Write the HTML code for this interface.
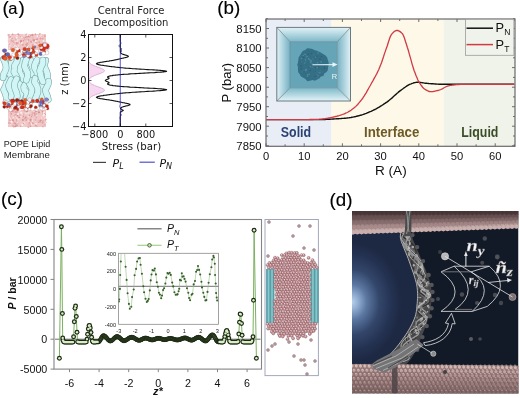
<!DOCTYPE html>
<html><head><meta charset="utf-8"><title>Pressure tensor figure</title>
<style>html,body{margin:0;padding:0;background:#fff;}svg{display:block;}</style></head>
<body><svg width="520" height="398" viewBox="0 0 520 398">
<rect width="520" height="398" fill="#fff"/>
<text y="14.2" font-family="Liberation Sans, Arial, sans-serif" font-size="18.8" stroke="#000" stroke-width="0.15"><tspan x="2.6">(</tspan><tspan x="8.2" font-size="16.5">a</tspan><tspan x="18.4">)</tspan></text>
<rect x="8" y="34" width="38" height="16" fill="#f0c8c8"/>
<circle cx="20.3" cy="36.4" r="0.5" fill="#e2a0a0"/>
<circle cx="28.4" cy="39.9" r="1" fill="#e2a0a0"/>
<circle cx="16.2" cy="35.4" r="0.5" fill="#f6dede"/>
<circle cx="11.4" cy="40.8" r="0.6" fill="#d89090"/>
<circle cx="16.5" cy="44" r="0.8" fill="#e2a0a0"/>
<circle cx="23.1" cy="49.6" r="0.8" fill="#e2a0a0"/>
<circle cx="13.1" cy="40.7" r="0.6" fill="#d89090"/>
<circle cx="19.7" cy="47.1" r="0.6" fill="#fbeeee"/>
<circle cx="29.7" cy="37" r="0.8" fill="#e2a0a0"/>
<circle cx="10.4" cy="35" r="0.8" fill="#fbeeee"/>
<circle cx="28.2" cy="46.4" r="0.9" fill="#f6dede"/>
<circle cx="25.2" cy="38.8" r="0.9" fill="#fbeeee"/>
<circle cx="17.3" cy="43.2" r="0.8" fill="#d89090"/>
<circle cx="21.1" cy="41.2" r="1.1" fill="#d89090"/>
<circle cx="12.5" cy="40.7" r="0.6" fill="#e8b0b0"/>
<circle cx="26.6" cy="34.6" r="1" fill="#e2a0a0"/>
<circle cx="29.8" cy="48" r="0.7" fill="#e8b0b0"/>
<circle cx="21.3" cy="41.9" r="0.5" fill="#f6dede"/>
<circle cx="11.6" cy="38.3" r="0.5" fill="#e2a0a0"/>
<circle cx="34.7" cy="44.4" r="0.7" fill="#f6dede"/>
<circle cx="22.7" cy="44.7" r="1.1" fill="#e2a0a0"/>
<circle cx="21.5" cy="43.8" r="0.5" fill="#f6dede"/>
<circle cx="37.2" cy="36.1" r="0.7" fill="#fbeeee"/>
<circle cx="42.8" cy="41.9" r="0.8" fill="#fbeeee"/>
<circle cx="28.9" cy="48.1" r="1" fill="#f6dede"/>
<circle cx="18.6" cy="40.6" r="0.9" fill="#e8b0b0"/>
<circle cx="22.5" cy="37.7" r="0.6" fill="#e2a0a0"/>
<circle cx="16.8" cy="37.7" r="1" fill="#f6dede"/>
<circle cx="14.9" cy="38.5" r="0.8" fill="#fbeeee"/>
<circle cx="22" cy="43.1" r="0.9" fill="#fbeeee"/>
<circle cx="27.6" cy="43.9" r="0.8" fill="#e2a0a0"/>
<circle cx="41.1" cy="49.2" r="0.7" fill="#d89090"/>
<circle cx="23.2" cy="35.7" r="0.5" fill="#f6dede"/>
<circle cx="10.6" cy="37.3" r="0.6" fill="#fbeeee"/>
<circle cx="30.8" cy="35.6" r="0.6" fill="#d89090"/>
<circle cx="11.9" cy="39.8" r="0.5" fill="#e2a0a0"/>
<circle cx="15.9" cy="40" r="1.1" fill="#e8b0b0"/>
<circle cx="30.9" cy="41.6" r="1" fill="#e2a0a0"/>
<circle cx="45.7" cy="41.5" r="0.7" fill="#f6dede"/>
<circle cx="13.5" cy="46" r="0.8" fill="#e8b0b0"/>
<circle cx="34.3" cy="42.3" r="1.1" fill="#fbeeee"/>
<circle cx="28.1" cy="36.3" r="1" fill="#d89090"/>
<circle cx="36.8" cy="38.8" r="0.9" fill="#e2a0a0"/>
<circle cx="17.9" cy="39.9" r="0.7" fill="#fbeeee"/>
<circle cx="16.5" cy="42.7" r="0.7" fill="#d89090"/>
<circle cx="16.5" cy="47" r="1" fill="#fbeeee"/>
<circle cx="39.1" cy="45.8" r="0.6" fill="#fbeeee"/>
<circle cx="26.7" cy="45.7" r="1" fill="#e2a0a0"/>
<circle cx="25.9" cy="37.1" r="1.1" fill="#d89090"/>
<circle cx="25" cy="49" r="1.1" fill="#e8b0b0"/>
<circle cx="21.9" cy="37.5" r="0.8" fill="#fbeeee"/>
<circle cx="20.8" cy="41.7" r="1" fill="#d89090"/>
<circle cx="26.2" cy="44.4" r="1" fill="#e2a0a0"/>
<circle cx="12.6" cy="40.2" r="0.8" fill="#fbeeee"/>
<circle cx="14.8" cy="46.6" r="0.6" fill="#e8b0b0"/>
<circle cx="44" cy="45.5" r="0.7" fill="#f6dede"/>
<circle cx="44" cy="45.6" r="1.1" fill="#fbeeee"/>
<circle cx="9" cy="43.5" r="1" fill="#f6dede"/>
<circle cx="13.6" cy="47.2" r="0.9" fill="#f6dede"/>
<circle cx="21.3" cy="42.8" r="0.5" fill="#fbeeee"/>
<circle cx="38.4" cy="45.6" r="0.8" fill="#e2a0a0"/>
<circle cx="43.5" cy="40.9" r="1" fill="#fbeeee"/>
<circle cx="16" cy="38" r="0.8" fill="#e8b0b0"/>
<circle cx="37" cy="39.2" r="0.8" fill="#d89090"/>
<circle cx="13" cy="48.6" r="1" fill="#e8b0b0"/>
<circle cx="33.2" cy="47" r="0.8" fill="#d89090"/>
<circle cx="42.9" cy="42" r="0.6" fill="#d89090"/>
<circle cx="27.4" cy="48" r="0.9" fill="#fbeeee"/>
<circle cx="37.5" cy="36.4" r="0.8" fill="#fbeeee"/>
<circle cx="35.6" cy="42.9" r="0.9" fill="#e8b0b0"/>
<circle cx="28.2" cy="41.7" r="1" fill="#e2a0a0"/>
<circle cx="10.2" cy="37.1" r="1" fill="#e2a0a0"/>
<circle cx="27.3" cy="43" r="0.8" fill="#e2a0a0"/>
<circle cx="31.3" cy="42.1" r="0.6" fill="#d89090"/>
<circle cx="18.5" cy="42.1" r="0.8" fill="#f6dede"/>
<circle cx="17.4" cy="42.4" r="1.1" fill="#e8b0b0"/>
<circle cx="41.9" cy="37.2" r="0.6" fill="#f6dede"/>
<circle cx="12.6" cy="41.1" r="0.9" fill="#e2a0a0"/>
<circle cx="24.3" cy="37.4" r="1" fill="#e8b0b0"/>
<circle cx="42.1" cy="36.5" r="0.6" fill="#e8b0b0"/>
<circle cx="41.5" cy="49.5" r="0.9" fill="#fbeeee"/>
<circle cx="11.6" cy="48.2" r="1.1" fill="#fbeeee"/>
<circle cx="39.6" cy="36.6" r="1.1" fill="#f6dede"/>
<circle cx="23.3" cy="40.7" r="0.7" fill="#e8b0b0"/>
<circle cx="35.4" cy="34.3" r="0.8" fill="#d89090"/>
<circle cx="34.7" cy="40.1" r="0.9" fill="#d89090"/>
<circle cx="27.5" cy="35" r="1.1" fill="#fbeeee"/>
<circle cx="12" cy="38.2" r="1" fill="#e2a0a0"/>
<circle cx="14.9" cy="46.1" r="1" fill="#f6dede"/>
<circle cx="33.7" cy="49.1" r="0.6" fill="#f6dede"/>
<circle cx="42.9" cy="43.1" r="0.6" fill="#e8b0b0"/>
<circle cx="10.2" cy="45" r="1" fill="#f6dede"/>
<circle cx="18.2" cy="34.3" r="1" fill="#e2a0a0"/>
<circle cx="11.2" cy="47.7" r="0.7" fill="#e2a0a0"/>
<circle cx="12.6" cy="34.2" r="0.8" fill="#d89090"/>
<circle cx="42.8" cy="43.9" r="0.8" fill="#e2a0a0"/>
<circle cx="17.1" cy="35.8" r="0.7" fill="#fbeeee"/>
<circle cx="14.9" cy="48.9" r="0.8" fill="#e8b0b0"/>
<circle cx="15.8" cy="41.1" r="0.7" fill="#fbeeee"/>
<circle cx="38.5" cy="49.9" r="0.5" fill="#e2a0a0"/>
<circle cx="35.9" cy="42.8" r="0.8" fill="#fbeeee"/>
<circle cx="17.3" cy="41.2" r="0.9" fill="#f6dede"/>
<circle cx="28.7" cy="48.2" r="0.7" fill="#d89090"/>
<circle cx="16.2" cy="37.7" r="1" fill="#fbeeee"/>
<circle cx="34.9" cy="44.2" r="1.1" fill="#f6dede"/>
<circle cx="45.3" cy="47.4" r="0.5" fill="#e2a0a0"/>
<circle cx="36.2" cy="38.1" r="0.5" fill="#fbeeee"/>
<circle cx="33.3" cy="40.1" r="0.9" fill="#d89090"/>
<circle cx="18.7" cy="37.9" r="0.5" fill="#e8b0b0"/>
<circle cx="15" cy="38.3" r="0.7" fill="#e2a0a0"/>
<circle cx="44.5" cy="49.6" r="0.7" fill="#d89090"/>
<circle cx="9.3" cy="48.1" r="0.7" fill="#fbeeee"/>
<circle cx="8" cy="40.1" r="0.7" fill="#f6dede"/>
<circle cx="32.9" cy="38" r="0.6" fill="#e2a0a0"/>
<circle cx="39" cy="36.3" r="0.5" fill="#d89090"/>
<circle cx="8.9" cy="38.9" r="0.6" fill="#fbeeee"/>
<circle cx="44.4" cy="47.7" r="0.9" fill="#fbeeee"/>
<circle cx="35.2" cy="48.1" r="1" fill="#f6dede"/>
<circle cx="35.4" cy="41.9" r="0.9" fill="#e8b0b0"/>
<circle cx="32.4" cy="34.7" r="0.9" fill="#d89090"/>
<circle cx="35.9" cy="47" r="1" fill="#fbeeee"/>
<circle cx="36.6" cy="43.1" r="1" fill="#e2a0a0"/>
<circle cx="30.2" cy="48.3" r="0.6" fill="#fbeeee"/>
<circle cx="9.6" cy="44.2" r="0.7" fill="#e2a0a0"/>
<circle cx="25.2" cy="34.8" r="0.9" fill="#e2a0a0"/>
<circle cx="33.9" cy="41.8" r="0.8" fill="#e2a0a0"/>
<circle cx="10.7" cy="48.9" r="0.6" fill="#d89090"/>
<circle cx="28" cy="45.9" r="0.7" fill="#f6dede"/>
<circle cx="10.8" cy="38.2" r="0.6" fill="#fbeeee"/>
<circle cx="32.7" cy="41.4" r="0.5" fill="#f6dede"/>
<circle cx="42.6" cy="38.6" r="0.9" fill="#e2a0a0"/>
<circle cx="32.4" cy="35.2" r="0.7" fill="#fbeeee"/>
<circle cx="32.8" cy="45.1" r="0.8" fill="#d89090"/>
<circle cx="8.5" cy="35" r="1.1" fill="#e8b0b0"/>
<circle cx="11.8" cy="37.5" r="0.7" fill="#f6dede"/>
<circle cx="27.6" cy="41.4" r="1" fill="#f6dede"/>
<circle cx="45.7" cy="42.8" r="1.1" fill="#e8b0b0"/>
<circle cx="43.6" cy="34.3" r="0.5" fill="#f6dede"/>
<circle cx="27.3" cy="49.9" r="0.7" fill="#e8b0b0"/>
<circle cx="42.8" cy="48.9" r="0.8" fill="#e2a0a0"/>
<circle cx="13.4" cy="42.4" r="0.6" fill="#e8b0b0"/>
<circle cx="39.2" cy="42.1" r="0.9" fill="#e2a0a0"/>
<circle cx="16.8" cy="48.4" r="0.7" fill="#f6dede"/>
<circle cx="14" cy="49.2" r="0.7" fill="#f6dede"/>
<circle cx="35.6" cy="40.7" r="0.7" fill="#f6dede"/>
<circle cx="39.9" cy="34" r="1" fill="#e8b0b0"/>
<circle cx="12.6" cy="48.8" r="1" fill="#e2a0a0"/>
<circle cx="19" cy="40" r="0.7" fill="#f6dede"/>
<circle cx="41.1" cy="35.2" r="1" fill="#f6dede"/>
<circle cx="40.5" cy="38.5" r="1" fill="#e2a0a0"/>
<circle cx="18.9" cy="49" r="1.1" fill="#fbeeee"/>
<circle cx="24.6" cy="39" r="1" fill="#e8b0b0"/>
<circle cx="24.3" cy="34.5" r="1" fill="#f6dede"/>
<circle cx="43.7" cy="42.8" r="0.5" fill="#e2a0a0"/>
<circle cx="35.8" cy="41.2" r="0.9" fill="#fbeeee"/>
<circle cx="18.9" cy="34.8" r="0.6" fill="#d89090"/>
<circle cx="25.9" cy="39.5" r="0.7" fill="#e8b0b0"/>
<circle cx="36.1" cy="44.4" r="0.9" fill="#f6dede"/>
<circle cx="19.4" cy="42.9" r="0.6" fill="#f6dede"/>
<circle cx="32.4" cy="35.2" r="1" fill="#d89090"/>
<circle cx="26.9" cy="37.5" r="1.1" fill="#e8b0b0"/>
<circle cx="25.1" cy="36.2" r="0.6" fill="#fbeeee"/>
<circle cx="14.6" cy="42.9" r="0.6" fill="#e8b0b0"/>
<circle cx="17.8" cy="43.1" r="0.9" fill="#e2a0a0"/>
<circle cx="23.7" cy="40.6" r="0.6" fill="#d89090"/>
<circle cx="18.3" cy="46" r="0.7" fill="#f6dede"/>
<circle cx="44.8" cy="36" r="0.8" fill="#d89090"/>
<circle cx="38" cy="47.6" r="0.7" fill="#e2a0a0"/>
<circle cx="17.4" cy="40.4" r="0.8" fill="#f6dede"/>
<circle cx="19.9" cy="47" r="0.6" fill="#e2a0a0"/>
<rect x="8" y="110" width="38" height="17" fill="#f0c8c8"/>
<circle cx="24.2" cy="123" r="1.1" fill="#f6dede"/>
<circle cx="26.6" cy="111.2" r="1" fill="#d89090"/>
<circle cx="44.9" cy="114.2" r="0.6" fill="#e2a0a0"/>
<circle cx="13.8" cy="126.5" r="1.1" fill="#e2a0a0"/>
<circle cx="35.4" cy="121" r="0.6" fill="#f6dede"/>
<circle cx="37.5" cy="110" r="0.6" fill="#fbeeee"/>
<circle cx="43" cy="121" r="1.1" fill="#e8b0b0"/>
<circle cx="31.8" cy="119" r="0.9" fill="#f6dede"/>
<circle cx="12.3" cy="111.2" r="1.1" fill="#d89090"/>
<circle cx="15.3" cy="114.4" r="0.5" fill="#d89090"/>
<circle cx="28.4" cy="126.9" r="1.1" fill="#e8b0b0"/>
<circle cx="32.5" cy="125" r="0.8" fill="#f6dede"/>
<circle cx="28.8" cy="110.5" r="0.9" fill="#f6dede"/>
<circle cx="19.7" cy="110.4" r="1" fill="#f6dede"/>
<circle cx="32.6" cy="111.4" r="0.9" fill="#fbeeee"/>
<circle cx="43.2" cy="113.9" r="0.9" fill="#e2a0a0"/>
<circle cx="35.3" cy="116.2" r="0.6" fill="#f6dede"/>
<circle cx="38.3" cy="122.6" r="0.5" fill="#d89090"/>
<circle cx="26.8" cy="113.4" r="0.6" fill="#fbeeee"/>
<circle cx="16.4" cy="122.9" r="0.6" fill="#e8b0b0"/>
<circle cx="31.7" cy="120.4" r="0.8" fill="#fbeeee"/>
<circle cx="42.6" cy="111" r="0.6" fill="#d89090"/>
<circle cx="23" cy="113.6" r="0.6" fill="#d89090"/>
<circle cx="10" cy="111" r="0.8" fill="#f6dede"/>
<circle cx="35.1" cy="115.3" r="1.1" fill="#e2a0a0"/>
<circle cx="43.4" cy="115.6" r="0.9" fill="#fbeeee"/>
<circle cx="27.9" cy="117.9" r="0.9" fill="#e8b0b0"/>
<circle cx="22.4" cy="116.4" r="0.8" fill="#e8b0b0"/>
<circle cx="12.1" cy="111.3" r="0.7" fill="#e2a0a0"/>
<circle cx="44.3" cy="112.1" r="0.7" fill="#fbeeee"/>
<circle cx="37.2" cy="115.2" r="0.6" fill="#f6dede"/>
<circle cx="34.8" cy="113.3" r="1.1" fill="#d89090"/>
<circle cx="15.3" cy="116.2" r="0.5" fill="#f6dede"/>
<circle cx="23.6" cy="123.8" r="0.5" fill="#f6dede"/>
<circle cx="9.3" cy="111.1" r="0.7" fill="#e2a0a0"/>
<circle cx="36.4" cy="125.3" r="0.7" fill="#e8b0b0"/>
<circle cx="20.7" cy="126.2" r="0.7" fill="#e2a0a0"/>
<circle cx="35.2" cy="115.4" r="0.7" fill="#e8b0b0"/>
<circle cx="35.4" cy="120.1" r="0.5" fill="#e2a0a0"/>
<circle cx="16.9" cy="118.1" r="1.1" fill="#f6dede"/>
<circle cx="22.7" cy="114.3" r="1" fill="#f6dede"/>
<circle cx="13" cy="118.4" r="1" fill="#e2a0a0"/>
<circle cx="36.1" cy="124" r="0.9" fill="#fbeeee"/>
<circle cx="20.5" cy="115.4" r="1" fill="#e8b0b0"/>
<circle cx="30.6" cy="118.7" r="1" fill="#f6dede"/>
<circle cx="17.4" cy="111.1" r="0.8" fill="#e2a0a0"/>
<circle cx="28.7" cy="112.7" r="1" fill="#f6dede"/>
<circle cx="45.5" cy="114.5" r="0.6" fill="#e2a0a0"/>
<circle cx="24" cy="126.8" r="0.6" fill="#f6dede"/>
<circle cx="13.1" cy="117.8" r="0.9" fill="#fbeeee"/>
<circle cx="40.2" cy="121.3" r="1" fill="#e2a0a0"/>
<circle cx="19.2" cy="114.7" r="0.7" fill="#e8b0b0"/>
<circle cx="36" cy="113.4" r="0.6" fill="#fbeeee"/>
<circle cx="16.9" cy="114.8" r="0.6" fill="#d89090"/>
<circle cx="10.5" cy="114.3" r="0.8" fill="#fbeeee"/>
<circle cx="16.8" cy="123.7" r="1.1" fill="#f6dede"/>
<circle cx="11.9" cy="118.1" r="1" fill="#fbeeee"/>
<circle cx="42.7" cy="110.7" r="0.6" fill="#e8b0b0"/>
<circle cx="9.9" cy="120.2" r="0.6" fill="#d89090"/>
<circle cx="10.9" cy="118.7" r="0.8" fill="#fbeeee"/>
<circle cx="17.9" cy="123.2" r="0.6" fill="#e2a0a0"/>
<circle cx="30.7" cy="120.5" r="0.5" fill="#fbeeee"/>
<circle cx="20.9" cy="110.8" r="0.5" fill="#e8b0b0"/>
<circle cx="35.8" cy="125.5" r="1" fill="#e2a0a0"/>
<circle cx="23.5" cy="116.3" r="0.7" fill="#d89090"/>
<circle cx="15.7" cy="123.5" r="0.8" fill="#d89090"/>
<circle cx="23.5" cy="123.5" r="0.6" fill="#d89090"/>
<circle cx="28.3" cy="121.1" r="0.9" fill="#f6dede"/>
<circle cx="23.6" cy="114.8" r="0.8" fill="#e8b0b0"/>
<circle cx="10" cy="122.7" r="0.7" fill="#e8b0b0"/>
<circle cx="8.7" cy="123" r="0.9" fill="#e8b0b0"/>
<circle cx="22.8" cy="116.9" r="0.8" fill="#e2a0a0"/>
<circle cx="13.9" cy="111.9" r="0.7" fill="#e2a0a0"/>
<circle cx="41.5" cy="117.8" r="0.6" fill="#fbeeee"/>
<circle cx="10" cy="112.4" r="0.6" fill="#f6dede"/>
<circle cx="31.6" cy="116.3" r="0.6" fill="#d89090"/>
<circle cx="21.2" cy="112.8" r="1.1" fill="#fbeeee"/>
<circle cx="12.1" cy="118.3" r="0.7" fill="#fbeeee"/>
<circle cx="39.8" cy="110.7" r="0.7" fill="#f6dede"/>
<circle cx="31.1" cy="120.8" r="1" fill="#e2a0a0"/>
<circle cx="31.6" cy="124" r="0.9" fill="#fbeeee"/>
<circle cx="40.6" cy="120.6" r="1" fill="#d89090"/>
<circle cx="39.5" cy="113.1" r="0.5" fill="#fbeeee"/>
<circle cx="43.7" cy="112.7" r="0.6" fill="#e8b0b0"/>
<circle cx="17.4" cy="122.3" r="0.5" fill="#fbeeee"/>
<circle cx="29.4" cy="122.9" r="0.9" fill="#e2a0a0"/>
<circle cx="20.3" cy="116.6" r="0.8" fill="#f6dede"/>
<circle cx="31.8" cy="115.2" r="0.7" fill="#f6dede"/>
<circle cx="17.5" cy="116.6" r="0.8" fill="#e8b0b0"/>
<circle cx="24.7" cy="110.4" r="1.1" fill="#d89090"/>
<circle cx="25.7" cy="117.6" r="1" fill="#d89090"/>
<circle cx="25.4" cy="113.1" r="0.7" fill="#f6dede"/>
<circle cx="10.6" cy="116.1" r="0.6" fill="#e8b0b0"/>
<circle cx="24.8" cy="118.7" r="0.5" fill="#e2a0a0"/>
<circle cx="13" cy="125.7" r="1" fill="#e8b0b0"/>
<circle cx="27.4" cy="110.9" r="1" fill="#d89090"/>
<circle cx="32.8" cy="123.3" r="1" fill="#e2a0a0"/>
<circle cx="45.9" cy="122.4" r="0.6" fill="#e2a0a0"/>
<circle cx="45.3" cy="118.4" r="0.9" fill="#fbeeee"/>
<circle cx="35.4" cy="113.8" r="0.9" fill="#e8b0b0"/>
<circle cx="17.6" cy="115.5" r="0.7" fill="#d89090"/>
<circle cx="39" cy="112.4" r="1.1" fill="#d89090"/>
<circle cx="26.2" cy="120.1" r="0.8" fill="#d89090"/>
<circle cx="20.1" cy="110.6" r="0.7" fill="#fbeeee"/>
<circle cx="32.2" cy="114.7" r="1" fill="#e8b0b0"/>
<circle cx="14.4" cy="123.3" r="1" fill="#e2a0a0"/>
<circle cx="9.8" cy="124.6" r="0.8" fill="#f6dede"/>
<circle cx="30" cy="125" r="0.7" fill="#e2a0a0"/>
<circle cx="28.4" cy="124.6" r="0.7" fill="#e8b0b0"/>
<circle cx="45.6" cy="119.8" r="0.7" fill="#e8b0b0"/>
<circle cx="11.1" cy="113.9" r="0.9" fill="#d89090"/>
<circle cx="9.8" cy="123.9" r="0.7" fill="#e8b0b0"/>
<circle cx="44.7" cy="124.8" r="0.9" fill="#e8b0b0"/>
<circle cx="36.4" cy="113.8" r="0.9" fill="#e8b0b0"/>
<circle cx="24.4" cy="118.7" r="0.6" fill="#e2a0a0"/>
<circle cx="16.6" cy="121.1" r="0.5" fill="#e2a0a0"/>
<circle cx="29.6" cy="115.2" r="0.7" fill="#d89090"/>
<circle cx="16.5" cy="119.9" r="0.6" fill="#d89090"/>
<circle cx="21.9" cy="124.1" r="0.6" fill="#fbeeee"/>
<circle cx="43.6" cy="114.1" r="0.8" fill="#fbeeee"/>
<circle cx="10.4" cy="112.5" r="0.7" fill="#e8b0b0"/>
<circle cx="18" cy="110.2" r="1" fill="#d89090"/>
<circle cx="30.6" cy="119.8" r="1.1" fill="#d89090"/>
<circle cx="35.9" cy="114.2" r="0.5" fill="#e2a0a0"/>
<circle cx="28.2" cy="116.9" r="0.6" fill="#fbeeee"/>
<circle cx="42.6" cy="111.8" r="0.8" fill="#d89090"/>
<circle cx="43.8" cy="112.4" r="0.8" fill="#fbeeee"/>
<circle cx="32.4" cy="121" r="1" fill="#f6dede"/>
<circle cx="14.6" cy="115.3" r="0.9" fill="#e8b0b0"/>
<circle cx="45.8" cy="122.3" r="0.9" fill="#f6dede"/>
<circle cx="8.2" cy="124.4" r="0.5" fill="#f6dede"/>
<circle cx="32.9" cy="113" r="0.7" fill="#e2a0a0"/>
<circle cx="32.5" cy="112.1" r="0.9" fill="#e8b0b0"/>
<circle cx="18.1" cy="119.4" r="0.9" fill="#f6dede"/>
<circle cx="42.9" cy="126.5" r="0.9" fill="#e8b0b0"/>
<circle cx="44.7" cy="113.7" r="0.5" fill="#d89090"/>
<circle cx="17.9" cy="114" r="1.1" fill="#fbeeee"/>
<circle cx="36.4" cy="115.6" r="0.7" fill="#f6dede"/>
<circle cx="17.1" cy="125.4" r="0.8" fill="#d89090"/>
<circle cx="39.9" cy="121.9" r="0.8" fill="#e2a0a0"/>
<circle cx="35.5" cy="119.7" r="1" fill="#e8b0b0"/>
<circle cx="22.9" cy="120" r="1" fill="#d89090"/>
<circle cx="13.5" cy="110.5" r="0.9" fill="#e2a0a0"/>
<circle cx="14.1" cy="126.6" r="0.5" fill="#e2a0a0"/>
<circle cx="13.3" cy="120.9" r="0.9" fill="#e2a0a0"/>
<circle cx="36" cy="111.1" r="1" fill="#d89090"/>
<circle cx="15.6" cy="126.2" r="1" fill="#d89090"/>
<circle cx="10.5" cy="124.8" r="0.6" fill="#f6dede"/>
<circle cx="15.8" cy="111.9" r="1.1" fill="#e2a0a0"/>
<circle cx="42.6" cy="122.8" r="1" fill="#e2a0a0"/>
<circle cx="32" cy="114.9" r="0.6" fill="#e2a0a0"/>
<circle cx="38.1" cy="121" r="0.7" fill="#e8b0b0"/>
<circle cx="24.1" cy="110.4" r="1.1" fill="#e8b0b0"/>
<circle cx="9.8" cy="122.9" r="1" fill="#e8b0b0"/>
<circle cx="30.9" cy="118.1" r="0.9" fill="#e8b0b0"/>
<circle cx="9.2" cy="117" r="0.8" fill="#f6dede"/>
<circle cx="11.7" cy="118" r="0.8" fill="#e2a0a0"/>
<circle cx="16.2" cy="124.7" r="0.8" fill="#e2a0a0"/>
<circle cx="18.9" cy="117.4" r="0.6" fill="#d89090"/>
<circle cx="37" cy="126.6" r="0.7" fill="#e2a0a0"/>
<circle cx="11.6" cy="121.8" r="1.1" fill="#fbeeee"/>
<circle cx="30.5" cy="126.3" r="0.7" fill="#d89090"/>
<circle cx="43.9" cy="114.8" r="1.1" fill="#fbeeee"/>
<circle cx="16.8" cy="112.8" r="0.8" fill="#e2a0a0"/>
<circle cx="45.7" cy="119.5" r="0.9" fill="#e2a0a0"/>
<circle cx="21.5" cy="116.8" r="1" fill="#f6dede"/>
<circle cx="36.3" cy="117.2" r="0.7" fill="#e2a0a0"/>
<circle cx="19.5" cy="117.3" r="0.8" fill="#d89090"/>
<circle cx="22.4" cy="125" r="1.1" fill="#fbeeee"/>
<circle cx="12.8" cy="120.1" r="0.9" fill="#d89090"/>
<polyline points="7.2,79.6 6.6,83 5.3,86.4 3.6,89.7 5.1,93.1 6.1,96.5 6.7,99.8" fill="none" stroke="#7aa6a8" stroke-width="6.6" stroke-linecap="round" stroke-linejoin="round"/>
<polyline points="7.2,79.6 6.6,83 5.3,86.4 3.6,89.7 5.1,93.1 6.1,96.5 6.7,99.8" fill="none" stroke="#d2f6f6" stroke-width="5.4" stroke-linecap="round" stroke-linejoin="round"/>
<polyline points="30.3,59.3 30.5,62.4 32,65.6 33.3,68.7 32.6,71.8 30.9,75 29.8,78.1" fill="none" stroke="#7aa6a8" stroke-width="6.6" stroke-linecap="round" stroke-linejoin="round"/>
<polyline points="30.3,59.3 30.5,62.4 32,65.6 33.3,68.7 32.6,71.8 30.9,75 29.8,78.1" fill="none" stroke="#d2f6f6" stroke-width="5.4" stroke-linecap="round" stroke-linejoin="round"/>
<polyline points="37.1,59.9 35.4,62.8 34.4,65.8 34.9,68.7 36.8,71.6 37.4,74.6 36.5,77.5" fill="none" stroke="#7aa6a8" stroke-width="6.6" stroke-linecap="round" stroke-linejoin="round"/>
<polyline points="37.1,59.9 35.4,62.8 34.4,65.8 34.9,68.7 36.8,71.6 37.4,74.6 36.5,77.5" fill="none" stroke="#d2f6f6" stroke-width="5.4" stroke-linecap="round" stroke-linejoin="round"/>
<polyline points="19.7,81.9 19.1,84.6 19.9,87.3 21.4,90 21.9,92.7 20.1,95.4 19.3,98.1" fill="none" stroke="#7aa6a8" stroke-width="6.6" stroke-linecap="round" stroke-linejoin="round"/>
<polyline points="19.7,81.9 19.1,84.6 19.9,87.3 21.4,90 21.9,92.7 20.1,95.4 19.3,98.1" fill="none" stroke="#d2f6f6" stroke-width="5.4" stroke-linecap="round" stroke-linejoin="round"/>
<polyline points="42.4,81.1 42.5,83.9 40.5,86.7 39.8,89.6 39.6,92.4 41.3,95.2 42.5,98" fill="none" stroke="#7aa6a8" stroke-width="6.6" stroke-linecap="round" stroke-linejoin="round"/>
<polyline points="42.4,81.1 42.5,83.9 40.5,86.7 39.8,89.6 39.6,92.4 41.3,95.2 42.5,98" fill="none" stroke="#d2f6f6" stroke-width="5.4" stroke-linecap="round" stroke-linejoin="round"/>
<polyline points="11.4,60.7 11.6,63.6 10.2,66.5 8.2,69.4 8.7,72.3 10.5,75.3 11.6,78.2" fill="none" stroke="#7aa6a8" stroke-width="6.6" stroke-linecap="round" stroke-linejoin="round"/>
<polyline points="11.4,60.7 11.6,63.6 10.2,66.5 8.2,69.4 8.7,72.3 10.5,75.3 11.6,78.2" fill="none" stroke="#d2f6f6" stroke-width="5.4" stroke-linecap="round" stroke-linejoin="round"/>
<polyline points="26.7,81.4 25.3,84.1 23.8,86.9 24.1,89.6 26.5,92.3 27,95.1 26.3,97.8" fill="none" stroke="#7aa6a8" stroke-width="6.6" stroke-linecap="round" stroke-linejoin="round"/>
<polyline points="26.7,81.4 25.3,84.1 23.8,86.9 24.1,89.6 26.5,92.3 27,95.1 26.3,97.8" fill="none" stroke="#d2f6f6" stroke-width="5.4" stroke-linecap="round" stroke-linejoin="round"/>
<polyline points="22.7,60.2 21.9,63.4 20.4,66.5 19.4,69.7 19.6,72.8 21.6,76 23,79.2" fill="none" stroke="#7aa6a8" stroke-width="6.6" stroke-linecap="round" stroke-linejoin="round"/>
<polyline points="22.7,60.2 21.9,63.4 20.4,66.5 19.4,69.7 19.6,72.8 21.6,76 23,79.2" fill="none" stroke="#d2f6f6" stroke-width="5.4" stroke-linecap="round" stroke-linejoin="round"/>
<polyline points="11.1,79.6 9.7,82.5 8.5,85.4 9.3,88.3 10.9,91.2 12.1,94.1 11.2,97" fill="none" stroke="#7aa6a8" stroke-width="6.6" stroke-linecap="round" stroke-linejoin="round"/>
<polyline points="11.1,79.6 9.7,82.5 8.5,85.4 9.3,88.3 10.9,91.2 12.1,94.1 11.2,97" fill="none" stroke="#d2f6f6" stroke-width="5.4" stroke-linecap="round" stroke-linejoin="round"/>
<polyline points="17.4,58.5 16.9,61.8 14.7,65.2 14.4,68.6 13.9,71.9 15.9,75.3 17.5,78.6" fill="none" stroke="#7aa6a8" stroke-width="6.6" stroke-linecap="round" stroke-linejoin="round"/>
<polyline points="17.4,58.5 16.9,61.8 14.7,65.2 14.4,68.6 13.9,71.9 15.9,75.3 17.5,78.6" fill="none" stroke="#d2f6f6" stroke-width="5.4" stroke-linecap="round" stroke-linejoin="round"/>
<polyline points="16.6,78.9 14.9,82.3 14.4,85.7 15.1,89.1 16.6,92.6 17.3,96 16.5,99.4" fill="none" stroke="#7aa6a8" stroke-width="6.6" stroke-linecap="round" stroke-linejoin="round"/>
<polyline points="16.6,78.9 14.9,82.3 14.4,85.7 15.1,89.1 16.6,92.6 17.3,96 16.5,99.4" fill="none" stroke="#d2f6f6" stroke-width="5.4" stroke-linecap="round" stroke-linejoin="round"/>
<polyline points="29.8,79.9 29,83 30.7,86 32.2,89.1 31.7,92.2 31.2,95.2 29.7,98.3" fill="none" stroke="#7aa6a8" stroke-width="6.6" stroke-linecap="round" stroke-linejoin="round"/>
<polyline points="29.8,79.9 29,83 30.7,86 32.2,89.1 31.7,92.2 31.2,95.2 29.7,98.3" fill="none" stroke="#d2f6f6" stroke-width="5.4" stroke-linecap="round" stroke-linejoin="round"/>
<polyline points="3.4,59 4.8,62.1 5.8,65.2 6.1,68.4 5,71.5 3.4,74.6 3.1,77.8" fill="none" stroke="#7aa6a8" stroke-width="6.6" stroke-linecap="round" stroke-linejoin="round"/>
<polyline points="3.4,59 4.8,62.1 5.8,65.2 6.1,68.4 5,71.5 3.4,74.6 3.1,77.8" fill="none" stroke="#d2f6f6" stroke-width="5.4" stroke-linecap="round" stroke-linejoin="round"/>
<polyline points="45.7,60.3 44.7,63.9 44.8,67.5 46.5,71 47.6,74.6 47.4,78.1 45.9,81.7" fill="none" stroke="#7aa6a8" stroke-width="6.6" stroke-linecap="round" stroke-linejoin="round"/>
<polyline points="45.7,60.3 44.7,63.9 44.8,67.5 46.5,71 47.6,74.6 47.4,78.1 45.9,81.7" fill="none" stroke="#d2f6f6" stroke-width="5.4" stroke-linecap="round" stroke-linejoin="round"/>
<polyline points="48.6,81.2 48.2,84.2 46.8,87.3 45.3,90.3 46.3,93.4 47.6,96.5 48.3,99.5" fill="none" stroke="#7aa6a8" stroke-width="6.6" stroke-linecap="round" stroke-linejoin="round"/>
<polyline points="48.6,81.2 48.2,84.2 46.8,87.3 45.3,90.3 46.3,93.4 47.6,96.5 48.3,99.5" fill="none" stroke="#d2f6f6" stroke-width="5.4" stroke-linecap="round" stroke-linejoin="round"/>
<polyline points="35.1,78.6 34.5,82.1 36.6,85.5 37.9,89 37.8,92.5 36.4,96 34.9,99.5" fill="none" stroke="#7aa6a8" stroke-width="6.6" stroke-linecap="round" stroke-linejoin="round"/>
<polyline points="35.1,78.6 34.5,82.1 36.6,85.5 37.9,89 37.8,92.5 36.4,96 34.9,99.5" fill="none" stroke="#d2f6f6" stroke-width="5.4" stroke-linecap="round" stroke-linejoin="round"/>
<polyline points="26.3,59.5 25.1,62.9 24.5,66.4 26,69.8 27.8,73.3 27.5,76.7 26.3,80.2" fill="none" stroke="#7aa6a8" stroke-width="6.6" stroke-linecap="round" stroke-linejoin="round"/>
<polyline points="26.3,59.5 25.1,62.9 24.5,66.4 26,69.8 27.8,73.3 27.5,76.7 26.3,80.2" fill="none" stroke="#d2f6f6" stroke-width="5.4" stroke-linecap="round" stroke-linejoin="round"/>
<polyline points="42.8,60 42.8,63.6 40.9,67.2 39.7,70.8 40.6,74.4 41.3,78 42.9,81.7" fill="none" stroke="#7aa6a8" stroke-width="6.6" stroke-linecap="round" stroke-linejoin="round"/>
<polyline points="42.8,60 42.8,63.6 40.9,67.2 39.7,70.8 40.6,74.4 41.3,78 42.9,81.7" fill="none" stroke="#d2f6f6" stroke-width="5.4" stroke-linecap="round" stroke-linejoin="round"/>
<circle cx="24.1" cy="53.1" r="1.5" fill="#7a86d8" stroke="#8a5a50" stroke-width="0.25"/>
<circle cx="24" cy="51.8" r="1.4" fill="#7a86d8" stroke="#8a5a50" stroke-width="0.25"/>
<circle cx="31.5" cy="52.7" r="1.3" fill="#dc2412" stroke="#8a5a50" stroke-width="0.25"/>
<circle cx="5.5" cy="57.6" r="1.9" fill="#ffffff" stroke="#8a5a50" stroke-width="0.25"/>
<circle cx="7.6" cy="54.8" r="2" fill="#e85a20" stroke="#8a5a50" stroke-width="0.25"/>
<circle cx="5" cy="57.5" r="1.4" fill="#7a86d8" stroke="#8a5a50" stroke-width="0.25"/>
<circle cx="7.7" cy="56.5" r="1.7" fill="#ffffff" stroke="#8a5a50" stroke-width="0.25"/>
<circle cx="26.6" cy="54.8" r="1.5" fill="#e03a1c" stroke="#8a5a50" stroke-width="0.25"/>
<circle cx="18.5" cy="50.8" r="2" fill="#dc2412" stroke="#8a5a50" stroke-width="0.25"/>
<circle cx="16.4" cy="56.9" r="1.6" fill="#f4f4f4" stroke="#8a5a50" stroke-width="0.25"/>
<circle cx="46.8" cy="52.8" r="2.1" fill="#ffffff" stroke="#8a5a50" stroke-width="0.25"/>
<circle cx="32.3" cy="54.2" r="1.5" fill="#ffffff" stroke="#8a5a50" stroke-width="0.25"/>
<circle cx="34.9" cy="47.1" r="1.4" fill="#7a86d8" stroke="#8a5a50" stroke-width="0.25"/>
<circle cx="47.3" cy="48" r="2" fill="#eef0ff" stroke="#8a5a50" stroke-width="0.25"/>
<circle cx="27.5" cy="47.5" r="1.4" fill="#ffffff" stroke="#8a5a50" stroke-width="0.25"/>
<circle cx="5.5" cy="58.5" r="1.8" fill="#ffffff" stroke="#8a5a50" stroke-width="0.25"/>
<circle cx="32.5" cy="54.1" r="1.8" fill="#eef0ff" stroke="#8a5a50" stroke-width="0.25"/>
<circle cx="30.6" cy="52.8" r="1.9" fill="#9a1a10" stroke="#8a5a50" stroke-width="0.25"/>
<circle cx="42.1" cy="45.6" r="1.8" fill="#dc2412" stroke="#8a5a50" stroke-width="0.25"/>
<circle cx="23.6" cy="55.2" r="1.8" fill="#dc2412" stroke="#8a5a50" stroke-width="0.25"/>
<circle cx="41.7" cy="49.1" r="2" fill="#dc2412" stroke="#8a5a50" stroke-width="0.25"/>
<circle cx="32.4" cy="49.9" r="1.9" fill="#c41c0e" stroke="#8a5a50" stroke-width="0.25"/>
<circle cx="28.2" cy="49.4" r="1.4" fill="#ffffff" stroke="#8a5a50" stroke-width="0.25"/>
<circle cx="5" cy="50.6" r="1.8" fill="#5868cc" stroke="#8a5a50" stroke-width="0.25"/>
<circle cx="44.6" cy="45" r="1.7" fill="#5868cc" stroke="#8a5a50" stroke-width="0.25"/>
<circle cx="39.8" cy="52.9" r="1.8" fill="#f4f4f4" stroke="#8a5a50" stroke-width="0.25"/>
<circle cx="43.9" cy="49" r="1.8" fill="#dc2412" stroke="#8a5a50" stroke-width="0.25"/>
<circle cx="29.6" cy="56.6" r="2.1" fill="#7a86d8" stroke="#8a5a50" stroke-width="0.25"/>
<circle cx="24.4" cy="51.6" r="1.4" fill="#dc2412" stroke="#8a5a50" stroke-width="0.25"/>
<circle cx="24.3" cy="56.4" r="1.3" fill="#7a86d8" stroke="#8a5a50" stroke-width="0.25"/>
<circle cx="3.7" cy="57.4" r="2.1" fill="#dc2412" stroke="#8a5a50" stroke-width="0.25"/>
<circle cx="41.3" cy="47.1" r="1.4" fill="#dc2412" stroke="#8a5a50" stroke-width="0.25"/>
<circle cx="4.3" cy="57.7" r="1.7" fill="#e03a1c" stroke="#8a5a50" stroke-width="0.25"/>
<circle cx="36.2" cy="54.9" r="1.9" fill="#ffffff" stroke="#8a5a50" stroke-width="0.25"/>
<circle cx="34.9" cy="54.4" r="1.9" fill="#9a1a10" stroke="#8a5a50" stroke-width="0.25"/>
<circle cx="16.4" cy="54.2" r="1.7" fill="#ffffff" stroke="#8a5a50" stroke-width="0.25"/>
<circle cx="44.5" cy="47" r="1.9" fill="#dc2412" stroke="#8a5a50" stroke-width="0.25"/>
<circle cx="4" cy="50.6" r="1.8" fill="#7a86d8" stroke="#8a5a50" stroke-width="0.25"/>
<circle cx="30.7" cy="50.4" r="1.9" fill="#ffffff" stroke="#8a5a50" stroke-width="0.25"/>
<circle cx="10.8" cy="58.1" r="1.8" fill="#ffffff" stroke="#8a5a50" stroke-width="0.25"/>
<circle cx="17.4" cy="58" r="1.7" fill="#9a1a10" stroke="#8a5a50" stroke-width="0.25"/>
<circle cx="33.3" cy="47.6" r="1.4" fill="#e85a20" stroke="#8a5a50" stroke-width="0.25"/>
<circle cx="45.5" cy="45.9" r="1.6" fill="#e85a20" stroke="#8a5a50" stroke-width="0.25"/>
<circle cx="20.5" cy="55.9" r="1.9" fill="#ffffff" stroke="#8a5a50" stroke-width="0.25"/>
<circle cx="28.4" cy="49.8" r="1.8" fill="#dc2412" stroke="#8a5a50" stroke-width="0.25"/>
<circle cx="32.1" cy="54.3" r="1.6" fill="#5868cc" stroke="#8a5a50" stroke-width="0.25"/>
<circle cx="30.2" cy="56.4" r="1.8" fill="#c41c0e" stroke="#8a5a50" stroke-width="0.25"/>
<circle cx="17.1" cy="52.8" r="1.6" fill="#e03a1c" stroke="#8a5a50" stroke-width="0.25"/>
<circle cx="33.6" cy="52.1" r="1.9" fill="#e03a1c" stroke="#8a5a50" stroke-width="0.25"/>
<circle cx="16" cy="48.7" r="1.5" fill="#ffffff" stroke="#8a5a50" stroke-width="0.25"/>
<circle cx="10.4" cy="58.7" r="2" fill="#e85a20" stroke="#8a5a50" stroke-width="0.25"/>
<circle cx="5.4" cy="58.6" r="2" fill="#e85a20" stroke="#8a5a50" stroke-width="0.25"/>
<circle cx="47.2" cy="45.5" r="1.9" fill="#e85a20" stroke="#8a5a50" stroke-width="0.25"/>
<circle cx="33.6" cy="55.2" r="1.7" fill="#ffffff" stroke="#8a5a50" stroke-width="0.25"/>
<circle cx="27.3" cy="51.9" r="1.5" fill="#f4f4f4" stroke="#8a5a50" stroke-width="0.25"/>
<circle cx="36.5" cy="54.9" r="1.5" fill="#e03a1c" stroke="#8a5a50" stroke-width="0.25"/>
<circle cx="6" cy="54.2" r="1.5" fill="#9a1a10" stroke="#8a5a50" stroke-width="0.25"/>
<circle cx="14.7" cy="56.4" r="1.6" fill="#e85a20" stroke="#8a5a50" stroke-width="0.25"/>
<circle cx="27.3" cy="52.4" r="1.9" fill="#ffffff" stroke="#8a5a50" stroke-width="0.25"/>
<circle cx="13.7" cy="54.8" r="2" fill="#ffffff" stroke="#8a5a50" stroke-width="0.25"/>
<circle cx="26.5" cy="51.9" r="1.5" fill="#5868cc" stroke="#8a5a50" stroke-width="0.25"/>
<circle cx="12.9" cy="50.1" r="1.9" fill="#e85a20" stroke="#8a5a50" stroke-width="0.25"/>
<circle cx="19.5" cy="53.8" r="1.9" fill="#f4f4f4" stroke="#8a5a50" stroke-width="0.25"/>
<circle cx="41.2" cy="47.4" r="1.6" fill="#ffffff" stroke="#8a5a50" stroke-width="0.25"/>
<circle cx="8.2" cy="56.2" r="1.4" fill="#e85a20" stroke="#8a5a50" stroke-width="0.25"/>
<circle cx="17.4" cy="48.8" r="1.7" fill="#ffffff" stroke="#8a5a50" stroke-width="0.25"/>
<circle cx="4.4" cy="50.8" r="1.7" fill="#5868cc" stroke="#8a5a50" stroke-width="0.25"/>
<circle cx="28.5" cy="49.4" r="1.5" fill="#e85a20" stroke="#8a5a50" stroke-width="0.25"/>
<circle cx="7.8" cy="54.4" r="2" fill="#5868cc" stroke="#8a5a50" stroke-width="0.25"/>
<circle cx="45.9" cy="46.8" r="1.6" fill="#dc2412" stroke="#8a5a50" stroke-width="0.25"/>
<circle cx="47.3" cy="47.8" r="1.3" fill="#dc2412" stroke="#8a5a50" stroke-width="0.25"/>
<circle cx="28" cy="55.6" r="1.7" fill="#ffffff" stroke="#8a5a50" stroke-width="0.25"/>
<circle cx="40.7" cy="53.9" r="1.8" fill="#5868cc" stroke="#8a5a50" stroke-width="0.25"/>
<circle cx="44.1" cy="51.6" r="1.5" fill="#dc2412" stroke="#8a5a50" stroke-width="0.25"/>
<circle cx="28.3" cy="53.3" r="1.7" fill="#7a86d8" stroke="#8a5a50" stroke-width="0.25"/>
<circle cx="11.5" cy="57.9" r="2.1" fill="#ffffff" stroke="#8a5a50" stroke-width="0.25"/>
<circle cx="47.1" cy="46.2" r="2.1" fill="#dc2412" stroke="#8a5a50" stroke-width="0.25"/>
<circle cx="44.9" cy="45" r="2" fill="#eef0ff" stroke="#8a5a50" stroke-width="0.25"/>
<circle cx="40.3" cy="45.5" r="1.7" fill="#e85a20" stroke="#8a5a50" stroke-width="0.25"/>
<circle cx="36" cy="53.3" r="1.3" fill="#ffffff" stroke="#8a5a50" stroke-width="0.25"/>
<circle cx="9.9" cy="57.2" r="1.8" fill="#e03a1c" stroke="#8a5a50" stroke-width="0.25"/>
<circle cx="16.6" cy="54.5" r="1.8" fill="#e85a20" stroke="#8a5a50" stroke-width="0.25"/>
<circle cx="24.2" cy="51.2" r="1.4" fill="#f4f4f4" stroke="#8a5a50" stroke-width="0.25"/>
<circle cx="24.7" cy="49.1" r="1.9" fill="#e03a1c" stroke="#8a5a50" stroke-width="0.25"/>
<circle cx="43.7" cy="53.5" r="1.9" fill="#ffffff" stroke="#8a5a50" stroke-width="0.25"/>
<circle cx="12.1" cy="100.6" r="1.4" fill="#e03a1c" stroke="#8a5a50" stroke-width="0.25"/>
<circle cx="30.7" cy="103.4" r="1.4" fill="#9a1a10" stroke="#8a5a50" stroke-width="0.25"/>
<circle cx="23.2" cy="100.9" r="2" fill="#f4f4f4" stroke="#8a5a50" stroke-width="0.25"/>
<circle cx="31.1" cy="104.2" r="1.6" fill="#ffffff" stroke="#8a5a50" stroke-width="0.25"/>
<circle cx="13.8" cy="101.4" r="1.4" fill="#ffffff" stroke="#8a5a50" stroke-width="0.25"/>
<circle cx="13.3" cy="100.8" r="1.7" fill="#9a1a10" stroke="#8a5a50" stroke-width="0.25"/>
<circle cx="42.6" cy="103.7" r="1.5" fill="#c41c0e" stroke="#8a5a50" stroke-width="0.25"/>
<circle cx="21.6" cy="101.5" r="1.8" fill="#ffffff" stroke="#8a5a50" stroke-width="0.25"/>
<circle cx="16.5" cy="108.2" r="1.7" fill="#ffffff" stroke="#8a5a50" stroke-width="0.25"/>
<circle cx="17.5" cy="109.1" r="1.4" fill="#dc2412" stroke="#8a5a50" stroke-width="0.25"/>
<circle cx="26.1" cy="106.1" r="1.8" fill="#e85a20" stroke="#8a5a50" stroke-width="0.25"/>
<circle cx="12.8" cy="105" r="1.4" fill="#ffffff" stroke="#8a5a50" stroke-width="0.25"/>
<circle cx="36.7" cy="109.2" r="2.1" fill="#f4f4f4" stroke="#8a5a50" stroke-width="0.25"/>
<circle cx="47.4" cy="108.4" r="1.6" fill="#dc2412" stroke="#8a5a50" stroke-width="0.25"/>
<circle cx="21.8" cy="101.6" r="2.1" fill="#9a1a10" stroke="#8a5a50" stroke-width="0.25"/>
<circle cx="9.9" cy="106.7" r="1.9" fill="#ffffff" stroke="#8a5a50" stroke-width="0.25"/>
<circle cx="18.5" cy="101.5" r="1.9" fill="#dc2412" stroke="#8a5a50" stroke-width="0.25"/>
<circle cx="45" cy="102.1" r="1.6" fill="#ffffff" stroke="#8a5a50" stroke-width="0.25"/>
<circle cx="43.6" cy="101.5" r="1.4" fill="#5868cc" stroke="#8a5a50" stroke-width="0.25"/>
<circle cx="40.6" cy="104.6" r="1.9" fill="#e03a1c" stroke="#8a5a50" stroke-width="0.25"/>
<circle cx="12.2" cy="101" r="2" fill="#dc2412" stroke="#8a5a50" stroke-width="0.25"/>
<circle cx="35.7" cy="107.2" r="1.5" fill="#c41c0e" stroke="#8a5a50" stroke-width="0.25"/>
<circle cx="30.4" cy="106.8" r="1.5" fill="#e85a20" stroke="#8a5a50" stroke-width="0.25"/>
<circle cx="17.1" cy="100.2" r="1.9" fill="#9a1a10" stroke="#8a5a50" stroke-width="0.25"/>
<circle cx="21.5" cy="107.2" r="1.7" fill="#dc2412" stroke="#8a5a50" stroke-width="0.25"/>
<circle cx="18.8" cy="102.9" r="2" fill="#7a86d8" stroke="#8a5a50" stroke-width="0.25"/>
<circle cx="25.2" cy="100" r="1.7" fill="#e85a20" stroke="#8a5a50" stroke-width="0.25"/>
<circle cx="41.9" cy="102" r="1.8" fill="#c41c0e" stroke="#8a5a50" stroke-width="0.25"/>
<circle cx="46.9" cy="99.6" r="1.6" fill="#9a1a10" stroke="#8a5a50" stroke-width="0.25"/>
<circle cx="29.7" cy="99.8" r="2" fill="#eef0ff" stroke="#8a5a50" stroke-width="0.25"/>
<circle cx="46.1" cy="99.9" r="1.9" fill="#ffffff" stroke="#8a5a50" stroke-width="0.25"/>
<circle cx="39.4" cy="108.1" r="1.9" fill="#ffffff" stroke="#8a5a50" stroke-width="0.25"/>
<circle cx="41.7" cy="105.1" r="1.5" fill="#dc2412" stroke="#8a5a50" stroke-width="0.25"/>
<circle cx="8.2" cy="107.7" r="1.7" fill="#ffffff" stroke="#8a5a50" stroke-width="0.25"/>
<circle cx="26.8" cy="105.2" r="1.5" fill="#dc2412" stroke="#8a5a50" stroke-width="0.25"/>
<circle cx="7.4" cy="106.6" r="1.4" fill="#c41c0e" stroke="#8a5a50" stroke-width="0.25"/>
<circle cx="14.5" cy="108.4" r="1.3" fill="#dc2412" stroke="#8a5a50" stroke-width="0.25"/>
<circle cx="44.3" cy="106.7" r="1.3" fill="#ffffff" stroke="#8a5a50" stroke-width="0.25"/>
<circle cx="29.9" cy="105.5" r="1.5" fill="#eef0ff" stroke="#8a5a50" stroke-width="0.25"/>
<circle cx="23" cy="103.4" r="1.9" fill="#dc2412" stroke="#8a5a50" stroke-width="0.25"/>
<circle cx="5.5" cy="101.7" r="1.8" fill="#ffffff" stroke="#8a5a50" stroke-width="0.25"/>
<circle cx="37" cy="100.6" r="1.6" fill="#dc2412" stroke="#8a5a50" stroke-width="0.25"/>
<circle cx="9.5" cy="106.3" r="1.4" fill="#e03a1c" stroke="#8a5a50" stroke-width="0.25"/>
<circle cx="28.7" cy="107.2" r="2.1" fill="#c41c0e" stroke="#8a5a50" stroke-width="0.25"/>
<circle cx="4.3" cy="106.8" r="1.6" fill="#9a1a10" stroke="#8a5a50" stroke-width="0.25"/>
<circle cx="40.4" cy="104.7" r="2.1" fill="#f4f4f4" stroke="#8a5a50" stroke-width="0.25"/>
<circle cx="5.8" cy="104.1" r="1.5" fill="#f4f4f4" stroke="#8a5a50" stroke-width="0.25"/>
<circle cx="18.2" cy="104.4" r="1.9" fill="#5868cc" stroke="#8a5a50" stroke-width="0.25"/>
<circle cx="43.7" cy="107.5" r="1.3" fill="#eef0ff" stroke="#8a5a50" stroke-width="0.25"/>
<circle cx="26.3" cy="109.4" r="1.5" fill="#ffffff" stroke="#8a5a50" stroke-width="0.25"/>
<circle cx="22.1" cy="106.3" r="1.4" fill="#ffffff" stroke="#8a5a50" stroke-width="0.25"/>
<circle cx="11.7" cy="103.5" r="1.7" fill="#e03a1c" stroke="#8a5a50" stroke-width="0.25"/>
<circle cx="4.4" cy="101.9" r="1.9" fill="#f4f4f4" stroke="#8a5a50" stroke-width="0.25"/>
<circle cx="44.7" cy="105.6" r="2.1" fill="#e85a20" stroke="#8a5a50" stroke-width="0.25"/>
<circle cx="46.3" cy="99.6" r="1.8" fill="#7a86d8" stroke="#8a5a50" stroke-width="0.25"/>
<circle cx="43.9" cy="105.5" r="1.7" fill="#7a86d8" stroke="#8a5a50" stroke-width="0.25"/>
<circle cx="44.2" cy="105.5" r="1.4" fill="#ffffff" stroke="#8a5a50" stroke-width="0.25"/>
<circle cx="4.1" cy="102.9" r="1.5" fill="#dc2412" stroke="#8a5a50" stroke-width="0.25"/>
<circle cx="16.9" cy="106.6" r="1.3" fill="#dc2412" stroke="#8a5a50" stroke-width="0.25"/>
<circle cx="45.7" cy="108.5" r="1.4" fill="#ffffff" stroke="#8a5a50" stroke-width="0.25"/>
<circle cx="29.5" cy="109.1" r="1.4" fill="#ffffff" stroke="#8a5a50" stroke-width="0.25"/>
<circle cx="9.3" cy="103.3" r="1.8" fill="#f4f4f4" stroke="#8a5a50" stroke-width="0.25"/>
<circle cx="15.6" cy="107.5" r="1.7" fill="#9a1a10" stroke="#8a5a50" stroke-width="0.25"/>
<circle cx="40.4" cy="105.5" r="1.5" fill="#5868cc" stroke="#8a5a50" stroke-width="0.25"/>
<circle cx="20.5" cy="105.5" r="1.7" fill="#ffffff" stroke="#8a5a50" stroke-width="0.25"/>
<circle cx="27.6" cy="105.9" r="2" fill="#ffffff" stroke="#8a5a50" stroke-width="0.25"/>
<circle cx="4.9" cy="103.8" r="1.7" fill="#e03a1c" stroke="#8a5a50" stroke-width="0.25"/>
<circle cx="20.4" cy="105.9" r="2" fill="#dc2412" stroke="#8a5a50" stroke-width="0.25"/>
<circle cx="10.6" cy="109.8" r="1.7" fill="#ffffff" stroke="#8a5a50" stroke-width="0.25"/>
<circle cx="25.1" cy="102.7" r="1.5" fill="#e03a1c" stroke="#8a5a50" stroke-width="0.25"/>
<circle cx="37.5" cy="101.1" r="1.8" fill="#dc2412" stroke="#8a5a50" stroke-width="0.25"/>
<circle cx="18.8" cy="106.6" r="1.6" fill="#eef0ff" stroke="#8a5a50" stroke-width="0.25"/>
<circle cx="22.9" cy="107.3" r="1.7" fill="#dc2412" stroke="#8a5a50" stroke-width="0.25"/>
<circle cx="47" cy="106" r="1.6" fill="#c41c0e" stroke="#8a5a50" stroke-width="0.25"/>
<circle cx="32.9" cy="101" r="1.8" fill="#e03a1c" stroke="#8a5a50" stroke-width="0.25"/>
<circle cx="40.9" cy="107.6" r="1.4" fill="#eef0ff" stroke="#8a5a50" stroke-width="0.25"/>
<circle cx="41.2" cy="108.6" r="1.5" fill="#ffffff" stroke="#8a5a50" stroke-width="0.25"/>
<circle cx="31.2" cy="106" r="1.4" fill="#9a1a10" stroke="#8a5a50" stroke-width="0.25"/>
<circle cx="41.8" cy="99.4" r="1.7" fill="#e85a20" stroke="#8a5a50" stroke-width="0.25"/>
<circle cx="8.7" cy="104.3" r="1.4" fill="#5868cc" stroke="#8a5a50" stroke-width="0.25"/>
<circle cx="40.9" cy="102.2" r="1.8" fill="#5868cc" stroke="#8a5a50" stroke-width="0.25"/>
<circle cx="20.2" cy="104.5" r="1.5" fill="#ffffff" stroke="#8a5a50" stroke-width="0.25"/>
<circle cx="19" cy="103.6" r="1.7" fill="#eef0ff" stroke="#8a5a50" stroke-width="0.25"/>
<circle cx="20.4" cy="103.2" r="1.9" fill="#e85a20" stroke="#8a5a50" stroke-width="0.25"/>
<circle cx="47" cy="103" r="1.4" fill="#ffffff" stroke="#8a5a50" stroke-width="0.25"/>
<text font-family="Liberation Sans, Arial, sans-serif" font-size="9.7" fill="#222" x="3.8" y="146.6" textLength="46.5" lengthAdjust="spacingAndGlyphs">POPE Lipid</text>
<text font-family="Liberation Sans, Arial, sans-serif" font-size="9.7" fill="#222" x="3.8" y="157.9" textLength="46" lengthAdjust="spacingAndGlyphs">Membrane</text>
<text font-family="DejaVu Sans, sans-serif" font-size="10" fill="#222" text-anchor="middle"><tspan x="131" y="14.2">Central Force</tspan><tspan x="131" y="26.4">Decomposition</tspan></text>
<polygon points="88.5,59.8 88.6,59.8 88.7,60.3 88.8,60.9 88.9,61.4 89.1,62 89.5,62.5 89.9,63.1 90.4,63.6 91.1,64.2 92,64.7 93.1,65.3 94.3,65.8 95.7,66.4 97.2,66.9 98.7,67.4 100.2,68 101.6,68.5 102.8,69.1 103.7,69.6 104.3,70.2 104.5,70.7 104.3,71.3 103.7,71.8 102.8,72.4 101.6,72.9 100.2,73.5 98.7,74 97.2,74.5 95.7,75.1 94.3,75.6 93.1,76.2 92,76.7 91.1,77.3 90.4,77.8 89.9,78.4 89.5,78.9 89.1,79.5 88.9,80 88.8,80.6 88.7,81.1 88.6,81.7 88.5,81.7" fill="#f6d8f1" stroke="#d9a2cf" stroke-width="0.8"/>
<polygon points="88.5,79.3 88.6,79.3 88.7,79.9 88.8,80.4 88.9,81 89.1,81.5 89.5,82.1 89.9,82.6 90.4,83.2 91.1,83.7 92,84.3 93.1,84.8 94.3,85.4 95.7,85.9 97.2,86.5 98.7,87 100.2,87.5 101.6,88.1 102.8,88.6 103.7,89.2 104.3,89.7 104.5,90.3 104.3,90.8 103.7,91.4 102.8,91.9 101.6,92.5 100.2,93 98.7,93.6 97.2,94.1 95.7,94.6 94.3,95.2 93.1,95.7 92,96.3 91.1,96.8 90.4,97.4 89.9,97.9 89.5,98.5 89.1,99 88.9,99.6 88.8,100.1 88.7,100.7 88.6,101.2 88.5,101.2" fill="#f6d8f1" stroke="#d9a2cf" stroke-width="0.8"/>
<polyline points="120.3,34.5 120.3,34.6 120.3,34.7 120.3,34.8 120.3,35 120.3,35.1 120.3,35.2 120.3,35.3 120.3,35.4 120.3,35.5 120.3,35.6 120.3,35.8 120.3,35.9 120.3,36 120.3,36.1 120.3,36.2 120.3,36.3 120.3,36.5 120.3,36.6 120.3,36.7 120.3,36.8 120.3,36.9 120.3,37 120.3,37.1 120.3,37.3 120.3,37.4 120.3,37.5 120.3,37.6 120.3,37.7 120.3,37.8 120.3,37.9 120.3,38.1 120.3,38.2 120.3,38.3 120.3,38.4 120.3,38.5 120.3,38.6 120.3,38.8 120.3,38.9 120.3,39 120.3,39.1 120.3,39.2 120.3,39.3 120.3,39.4 120.3,39.6 120.3,39.7 120.3,39.8 120.3,39.9 120.3,40 120.3,40.1 120.3,40.2 120.3,40.4 120.3,40.5 120.3,40.6 120.3,40.7 120.3,40.8 120.3,40.9 120.3,41.1 120.3,41.2 120.3,41.3 120.3,41.4 120.3,41.5 120.3,41.6 120.3,41.7 120.3,41.9 120.3,42 120.3,42.1 120.3,42.2 120.3,42.3 120.3,42.4 120.3,42.5 120.3,42.7 120.3,42.8 120.3,42.9 120.3,43 120.3,43.1 120.3,43.2 120.3,43.4 120.3,43.5 120.3,43.6 120.3,43.7 120.3,43.8 120.3,43.9 120.3,44 120.3,44.2 120.3,44.3 120.3,44.4 120.3,44.5 120.3,44.6 120.3,44.7 120.3,44.8 120.3,45 120.3,45.1 120.3,45.2 120.3,45.3 120.3,45.4 120.3,45.5 120.3,45.7 120.3,45.8 120.3,45.9 120.3,46 120.3,46.1 120.3,46.2 120.3,46.3 120.3,46.5 120.3,46.6 120.3,46.7 120.3,46.8 120.3,46.9 120.3,47 120.3,47.1 120.3,47.3 120.3,47.4 120.3,47.5 120.3,47.6 120.3,47.7 120.3,47.8 120.3,48 120.3,48.1 120.3,48.2 120.3,48.3 120.3,48.4 120.3,48.5 120.3,48.6 120.3,48.8 120.3,48.9 120.3,49 120.3,49.1 120.3,49.2 120.3,49.3 120.3,49.4 120.3,49.6 120.3,49.7 120.3,49.8 120.3,49.9 120.3,50 120.3,50.1 120.3,50.3 120.3,50.4 120.3,50.5 120.3,50.6 120.3,50.7 120.3,50.8 120.3,50.9 120.3,51.1 120.3,51.2 120.3,51.3 120.3,51.4 120.3,51.5 120.3,51.6 120.3,51.7 120.3,51.9 120.4,52 120.4,52.1 120.4,52.2 120.4,52.3 120.4,52.4 120.5,52.6 120.5,52.7 120.6,52.8 120.7,52.9 120.7,53 120.8,53.1 120.9,53.2 121.1,53.4 121.2,53.5 121.4,53.6 121.6,53.7 121.8,53.8 122.1,53.9 122.3,54 122.6,54.2 122.9,54.3 123.3,54.4 123.6,54.5 124,54.6 124.4,54.7 124.8,54.9 125.2,55 125.6,55.1 126,55.2 126.4,55.3 126.8,55.4 127.1,55.5 127.5,55.7 127.7,55.8 128,55.9 128.1,56 128.3,56.1 128.3,56.2 128.4,56.3 128.3,56.5 128.2,56.6 128,56.7 127.8,56.8 127.6,56.9 127.3,57 126.9,57.2 126.5,57.3 126.1,57.4 125.6,57.5 125.2,57.6 124.7,57.7 124.2,57.8 123.7,58 123.2,58.1 122.7,58.2 122.2,58.3 121.7,58.4 121.2,58.5 120.7,58.6 120.2,58.8 119.8,58.9 119.3,59 118.8,59.1 118.3,59.2 117.9,59.3 117.4,59.5 116.9,59.6 116.4,59.7 115.9,59.8 115.3,59.9 114.8,60 114.2,60.1 113.6,60.3 113,60.4 112.4,60.5 111.7,60.6 111,60.7 110.3,60.8 109.6,60.9 108.9,61.1 108.2,61.2 107.4,61.3 106.7,61.4 105.9,61.5 105.1,61.6 104.4,61.8 103.6,61.9 102.9,62 102.2,62.1 101.5,62.2 100.8,62.3 100.2,62.4 99.6,62.6 99.1,62.7 98.6,62.8 98.1,62.9 97.7,63 97.3,63.1 97.1,63.2 96.8,63.4 96.7,63.5 96.6,63.6 96.5,63.7 96.6,63.8 96.7,63.9 96.8,64.1 97.1,64.2 97.4,64.3 97.7,64.4 98.1,64.5 98.6,64.6 99.1,64.7 99.7,64.9 100.3,65 100.9,65.1 101.6,65.2 102.3,65.3 103,65.4 103.8,65.5 104.6,65.7 105.4,65.8 106.2,65.9 107.1,66 107.9,66.1 108.8,66.2 109.6,66.4 110.5,66.5 111.4,66.6 112.3,66.7 113.2,66.8 114.2,66.9 115.1,67 116.1,67.2 117.1,67.3 118.1,67.4 119.2,67.5 120.3,67.6 121.4,67.7 122.6,67.8 123.9,68 125.2,68.1 126.6,68.2 128,68.3 129.6,68.4 131.1,68.5 132.8,68.7 134.5,68.8 136.3,68.9 138.1,69 140,69.1 141.9,69.2 143.9,69.3 145.8,69.5 147.8,69.6 149.8,69.7 151.7,69.8 153.6,69.9 155.4,70 157.1,70.1 158.8,70.3 160.3,70.4 161.7,70.5 162.9,70.6 164,70.7 164.9,70.8 165.6,71 166.1,71.1 166.4,71.2 166.5,71.3 166.4,71.4 166,71.5 165.4,71.6 164.7,71.8 163.7,71.9 162.6,72 161.2,72.1 159.8,72.2 158.1,72.3 156.4,72.4 154.5,72.6 152.5,72.7 150.5,72.8 148.4,72.9 146.3,73 144.2,73.1 142,73.3 139.9,73.4 137.8,73.5 135.7,73.6 133.7,73.7 131.8,73.8 129.9,73.9 128.1,74.1 126.4,74.2 124.7,74.3 123.2,74.4 121.7,74.5 120.3,74.6 119,74.7 117.8,74.9 116.7,75 115.6,75.1 114.7,75.2 113.8,75.3 113,75.4 112.2,75.6 111.5,75.7 110.9,75.8 110.3,75.9 109.8,76 109.3,76.1 108.9,76.2 108.6,76.4 108.3,76.5 108,76.6 107.8,76.7 107.7,76.8 107.6,76.9 107.6,77 107.6,77.2 107.7,77.3 107.8,77.4 107.9,77.5 108.1,77.6 108.3,77.7 108.5,77.9 108.7,78 108.8,78.1 109,78.2 109,78.3 109,78.4 108.9,78.5 108.8,78.7 108.6,78.8 108.4,78.9 108.1,79 107.8,79.1 107.5,79.2 107.2,79.3 106.9,79.5 106.6,79.6 106.3,79.7 106.1,79.8 105.9,79.9 105.8,80 105.7,80.2 105.6,80.3 105.5,80.4 105.4,80.5 105.5,80.6 105.6,80.7 105.7,80.8 105.8,81 105.9,81.1 106.1,81.2 106.3,81.3 106.6,81.4 106.9,81.5 107.2,81.6 107.5,81.8 107.8,81.9 108.1,82 108.4,82.1 108.6,82.2 108.8,82.3 108.9,82.5 109,82.6 109,82.7 109,82.8 108.8,82.9 108.7,83 108.5,83.1 108.3,83.3 108.1,83.4 107.9,83.5 107.8,83.6 107.7,83.7 107.6,83.8 107.6,83.9 107.6,84.1 107.7,84.2 107.8,84.3 108,84.4 108.3,84.5 108.6,84.6 108.9,84.8 109.3,84.9 109.8,85 110.3,85.1 110.9,85.2 111.5,85.3 112.2,85.4 113,85.6 113.8,85.7 114.7,85.8 115.6,85.9 116.7,86 117.8,86.1 119,86.2 120.3,86.4 121.7,86.5 123.2,86.6 124.7,86.7 126.4,86.8 128.1,86.9 129.9,87.1 131.8,87.2 133.7,87.3 135.7,87.4 137.8,87.5 139.9,87.6 142,87.7 144.2,87.9 146.3,88 148.4,88.1 150.5,88.2 152.5,88.3 154.5,88.4 156.4,88.5 158.1,88.7 159.8,88.8 161.2,88.9 162.6,89 163.7,89.1 164.7,89.2 165.4,89.4 166,89.5 166.4,89.6 166.5,89.7 166.4,89.8 166.1,89.9 165.6,90 164.9,90.2 164,90.3 162.9,90.4 161.7,90.5 160.3,90.6 158.8,90.7 157.1,90.8 155.4,91 153.6,91.1 151.7,91.2 149.8,91.3 147.8,91.4 145.8,91.5 143.9,91.7 141.9,91.8 140,91.9 138.1,92 136.3,92.1 134.5,92.2 132.8,92.3 131.1,92.5 129.6,92.6 128,92.7 126.6,92.8 125.2,92.9 123.9,93 122.6,93.1 121.4,93.3 120.3,93.4 119.2,93.5 118.1,93.6 117.1,93.7 116.1,93.8 115.1,94 114.2,94.1 113.2,94.2 112.3,94.3 111.4,94.4 110.5,94.5 109.6,94.6 108.8,94.8 107.9,94.9 107.1,95 106.2,95.1 105.4,95.2 104.6,95.3 103.8,95.4 103,95.6 102.3,95.7 101.6,95.8 100.9,95.9 100.3,96 99.7,96.1 99.1,96.3 98.6,96.4 98.1,96.5 97.7,96.6 97.4,96.7 97.1,96.8 96.8,96.9 96.7,97.1 96.6,97.2 96.5,97.3 96.6,97.4 96.7,97.5 96.8,97.6 97.1,97.7 97.3,97.9 97.7,98 98.1,98.1 98.6,98.2 99.1,98.3 99.6,98.4 100.2,98.6 100.8,98.7 101.5,98.8 102.2,98.9 102.9,99 103.6,99.1 104.4,99.2 105.1,99.4 105.9,99.5 106.7,99.6 107.4,99.7 108.2,99.8 108.9,99.9 109.7,100 110.4,100.2 111.1,100.3 111.8,100.4 112.4,100.5 113.1,100.6 113.7,100.7 114.3,100.9 114.9,101 115.5,101.1 116.1,101.2 116.6,101.3 117.2,101.4 117.7,101.5 118.2,101.7 118.8,101.8 119.3,101.9 119.8,102 120.4,102.1 120.9,102.2 121.5,102.3 122.1,102.5 122.6,102.6 123.2,102.7 123.8,102.8 124.4,102.9 125,103 125.6,103.2 126.2,103.3 126.7,103.4 127.2,103.5 127.7,103.6 128.2,103.7 128.6,103.8 129,104 129.3,104.1 129.6,104.2 129.8,104.3 129.9,104.4 130,104.5 130,104.6 129.9,104.8 129.7,104.9 129.5,105 129.3,105.1 129,105.2 128.6,105.3 128.2,105.5 127.8,105.6 127.3,105.7 126.8,105.8 126.4,105.9 125.9,106 125.4,106.1 124.9,106.3 124.5,106.4 124,106.5 123.6,106.6 123.2,106.7 122.9,106.8 122.5,106.9 122.2,107.1 122,107.2 121.7,107.3 121.5,107.4 121.3,107.5 121.1,107.6 121,107.8 120.9,107.9 120.8,108 120.7,108.1 120.6,108.2 120.6,108.3 120.5,108.4 120.5,108.6 120.5,108.7 120.6,108.8 120.6,108.9 120.7,109 120.9,109.1 121,109.2 121.3,109.4 121.5,109.5 121.8,109.6 122.1,109.7 122.3,109.8 122.6,109.9 122.8,110.1 123,110.2 123.1,110.3 123.2,110.4 123.1,110.5 123,110.6 122.8,110.7 122.6,110.9 122.3,111 122,111.1 121.8,111.2 121.5,111.3 121.2,111.4 121,111.5 120.8,111.7 120.7,111.8 120.6,111.9 120.5,112 120.4,112.1 120.4,112.2 120.4,112.4 120.3,112.5 120.3,112.6 120.3,112.7 120.3,112.8 120.3,112.9 120.3,113 120.3,113.2 120.3,113.3 120.3,113.4 120.3,113.5 120.3,113.6 120.3,113.7 120.3,113.8 120.3,114 120.3,114.1 120.3,114.2 120.3,114.3 120.3,114.4 120.3,114.5 120.3,114.7 120.3,114.8 120.3,114.9 120.3,115 120.3,115.1 120.3,115.2 120.3,115.3 120.3,115.5 120.3,115.6 120.3,115.7 120.3,115.8 120.3,115.9 120.3,116 120.3,116.1 120.3,116.3 120.3,116.4 120.3,116.5 120.3,116.6 120.3,116.7 120.3,116.8 120.3,117 120.3,117.1 120.3,117.2 120.3,117.3 120.3,117.4 120.3,117.5 120.3,117.6 120.3,117.8 120.3,117.9 120.3,118 120.3,118.1 120.3,118.2 120.3,118.3 120.3,118.4 120.3,118.6 120.3,118.7 120.3,118.8 120.3,118.9 120.3,119 120.3,119.1 120.3,119.3 120.3,119.4 120.3,119.5 120.3,119.6 120.3,119.7 120.3,119.8 120.3,119.9 120.3,120.1 120.3,120.2 120.3,120.3 120.3,120.4 120.3,120.5 120.3,120.6 120.3,120.7 120.3,120.9 120.3,121 120.3,121.1 120.3,121.2 120.3,121.3 120.3,121.4 120.3,121.6 120.3,121.7 120.3,121.8 120.3,121.9 120.3,122 120.3,122.1 120.3,122.2 120.3,122.4 120.3,122.5 120.3,122.6 120.3,122.7 120.3,122.8 120.3,122.9 120.3,123 120.3,123.2 120.3,123.3 120.3,123.4 120.3,123.5 120.3,123.6 120.3,123.7 120.3,123.9 120.3,124 120.3,124.1 120.3,124.2 120.3,124.3 120.3,124.4 120.3,124.5 120.3,124.7 120.3,124.8 120.3,124.9 120.3,125 120.3,125.1 120.3,125.2 120.3,125.3 120.3,125.5 120.3,125.6 120.3,125.7 120.3,125.8 120.3,125.9 120.3,126 120.3,126.2 120.3,126.3 120.3,126.4 120.3,126.5" fill="none" stroke="#111" stroke-width="1.1"/>
<polyline points="120.3,34.5 120.3,34.7 120.3,35 120.3,35.2 120.3,35.4 120.3,35.6 120.3,35.9 120.3,36.1 120.3,36.3 120.3,36.6 120.3,36.8 120.3,37 120.3,37.3 120.3,37.5 120.3,37.7 120.3,38 120.3,38.2 120.3,38.4 120.3,38.6 120.3,38.9 120.3,39.1 120.3,39.3 120.3,39.6 120.2,39.8 120.2,40 120.2,40.3 120.2,40.5 120.2,40.7 120.2,40.9 120.3,41.2 120.3,41.4 120.4,41.6 120.4,41.9 120.5,42.1 120.6,42.3 120.7,42.6 120.8,42.8 120.8,43 120.8,43.2 120.8,43.5 120.8,43.7 120.6,43.9 120.5,44.2 120.3,44.4 120.1,44.6 119.8,44.9 119.6,45.1 119.3,45.3 119.1,45.5 119,45.8 119,46 119,46.2 119.2,46.5 119.4,46.7 119.6,46.9 120,47.2 120.3,47.4 120.6,47.6 120.9,47.8 121.2,48.1 121.4,48.3 121.5,48.5 121.6,48.8 121.6,49 121.5,49.2 121.4,49.5 121.4,49.7 121.4,49.9 121.4,50.1 121.4,50.4 121.5,50.6 121.5,50.8 121.5,51.1 121.5,51.3 121.4,51.5 121.2,51.8 121,52 120.9,52.2 120.7,52.4 120.6,52.7 120.5,52.9 120.4,53.1 120.4,53.4 120.4,53.6 120.4,53.8 120.4,54.1 120.4,54.3 120.4,54.5 120.3,54.7 120.3,55 120.3,55.2 120.3,55.4 120.3,55.7 120.3,55.9 120.3,56.1 120.3,56.4 120.3,56.6 120.3,56.8 120.3,57 120.3,57.3 120.3,57.5 120.3,57.7 120.3,58 120.3,58.2 120.3,58.4 120.3,58.7 120.3,58.9 120.3,59.1 120.3,59.3 120.3,59.6 120.3,59.8 120.3,60 120.3,60.3 120.3,60.5 120.3,60.7 120.3,61 120.3,61.2 120.3,61.4 120.3,61.6 120.3,61.9 120.3,62.1 120.3,62.3 120.3,62.6 120.3,62.8 120.3,63 120.3,63.3 120.3,63.5 120.3,63.7 120.3,63.9 120.3,64.2 120.3,64.4 120.3,64.6 120.3,64.9 120.3,65.1 120.3,65.3 120.3,65.6 120.3,65.8 120.3,66 120.3,66.2 120.3,66.5 120.3,66.7 120.3,66.9 120.3,67.2 120.3,67.4 120.3,67.6 120.3,67.9 120.3,68.1 120.3,68.3 120.3,68.5 120.3,68.8 120.3,69 120.3,69.2 120.3,69.5 120.3,69.7 120.3,69.9 120.3,70.2 120.3,70.4 120.3,70.6 120.3,70.8 120.3,71.1 120.3,71.3 120.3,71.5 120.3,71.8 120.3,72 120.3,72.2 120.3,72.5 120.3,72.7 120.3,72.9 120.3,73.1 120.3,73.4 120.3,73.6 120.3,73.8 120.3,74.1 120.3,74.3 120.3,74.5 120.3,74.8 120.3,75 120.3,75.2 120.3,75.4 120.3,75.7 120.3,75.9 120.3,76.1 120.3,76.4 120.3,76.6 120.3,76.8 120.3,77.1 120.3,77.3 120.3,77.5 120.3,77.7 120.3,78 120.3,78.2 120.3,78.4 120.3,78.7 120.3,78.9 120.3,79.1 120.3,79.4 120.3,79.6 120.3,79.8 120.3,80 120.3,80.3 120.3,80.5 120.3,80.7 120.3,81 120.3,81.2 120.3,81.4 120.3,81.7 120.3,81.9 120.3,82.1 120.3,82.3 120.3,82.6 120.3,82.8 120.3,83 120.3,83.3 120.3,83.5 120.3,83.7 120.3,84 120.3,84.2 120.3,84.4 120.3,84.6 120.3,84.9 120.3,85.1 120.3,85.3 120.3,85.6 120.3,85.8 120.3,86 120.3,86.3 120.3,86.5 120.3,86.7 120.3,86.9 120.3,87.2 120.3,87.4 120.3,87.6 120.3,87.9 120.3,88.1 120.3,88.3 120.3,88.6 120.3,88.8 120.3,89 120.3,89.2 120.3,89.5 120.3,89.7 120.3,89.9 120.3,90.2 120.3,90.4 120.3,90.6 120.3,90.9 120.3,91.1 120.3,91.3 120.3,91.5 120.3,91.8 120.3,92 120.3,92.2 120.3,92.5 120.3,92.7 120.3,92.9 120.3,93.2 120.3,93.4 120.3,93.6 120.3,93.8 120.3,94.1 120.3,94.3 120.3,94.5 120.3,94.8 120.3,95 120.3,95.2 120.3,95.5 120.3,95.7 120.3,95.9 120.3,96.1 120.3,96.4 120.3,96.6 120.3,96.8 120.3,97.1 120.3,97.3 120.3,97.5 120.3,97.8 120.3,98 120.3,98.2 120.3,98.4 120.3,98.7 120.3,98.9 120.3,99.1 120.3,99.4 120.3,99.6 120.3,99.8 120.3,100.1 120.3,100.3 120.3,100.5 120.3,100.7 120.3,101 120.3,101.2 120.3,101.4 120.3,101.7 120.3,101.9 120.3,102.1 120.3,102.4 120.3,102.6 120.4,102.8 120.4,103 120.4,103.3 120.4,103.5 120.4,103.7 120.4,104 120.4,104.2 120.3,104.4 120.3,104.7 120.2,104.9 120.2,105.1 120.1,105.3 120,105.6 120,105.8 119.9,106 119.9,106.3 119.9,106.5 119.9,106.7 119.9,107 120,107.2 120.2,107.4 120.3,107.6 120.5,107.9 120.7,108.1 120.9,108.3 121.1,108.6 121.3,108.8 121.4,109 121.4,109.3 121.4,109.5 121.3,109.7 121.2,109.9 121,110.2 120.8,110.4 120.6,110.6 120.5,110.9 120.5,111.1 120.5,111.3 120.6,111.6 120.7,111.8 120.8,112 120.8,112.2 120.8,112.5 120.7,112.7 120.6,112.9 120.5,113.2 120.6,113.4 120.6,113.6 120.8,113.9 120.9,114.1 121,114.3 121.1,114.5 121.2,114.8 121.2,115 121.1,115.2 121,115.5 120.9,115.7 120.7,115.9 120.6,116.2 120.4,116.4 120.3,116.6 120.2,116.8 120.1,117.1 120.1,117.3 120,117.5 120,117.8 120.1,118 120.1,118.2 120.1,118.5 120.2,118.7 120.2,118.9 120.2,119.1 120.3,119.4 120.3,119.6 120.3,119.8 120.3,120.1 120.3,120.3 120.3,120.5 120.3,120.8 120.3,121 120.3,121.2 120.3,121.4 120.3,121.7 120.3,121.9 120.3,122.1 120.3,122.4 120.3,122.6 120.3,122.8 120.3,123.1 120.3,123.3 120.3,123.5 120.3,123.7 120.3,124 120.3,124.2 120.3,124.4 120.3,124.7 120.3,124.9 120.3,125.1 120.3,125.4 120.3,125.6 120.3,125.8 120.3,126 120.3,126.3 120.3,126.5" fill="none" stroke="#2a2abf" stroke-width="1"/>
<rect x="88.5" y="34.5" width="84" height="92" fill="none" stroke="#111" stroke-width="1"/>
<line x1="94.8" y1="34.5" x2="94.8" y2="37.5" stroke="#111" stroke-width="0.7"/>
<line x1="94.8" y1="126.5" x2="94.8" y2="123.5" stroke="#111" stroke-width="0.7"/>
<line x1="120.3" y1="34.5" x2="120.3" y2="37.5" stroke="#111" stroke-width="0.7"/>
<line x1="120.3" y1="126.5" x2="120.3" y2="123.5" stroke="#111" stroke-width="0.7"/>
<line x1="145.8" y1="34.5" x2="145.8" y2="37.5" stroke="#111" stroke-width="0.7"/>
<line x1="145.8" y1="126.5" x2="145.8" y2="123.5" stroke="#111" stroke-width="0.7"/>
<line x1="88.5" y1="34.5" x2="91.5" y2="34.5" stroke="#111" stroke-width="0.7"/>
<line x1="172.5" y1="34.5" x2="169.5" y2="34.5" stroke="#111" stroke-width="0.7"/>
<text x="86.5" y="38.1" font-family="DejaVu Sans, sans-serif" font-size="9.8" fill="#111" text-anchor="end">4</text>
<line x1="88.5" y1="57.5" x2="91.5" y2="57.5" stroke="#111" stroke-width="0.7"/>
<line x1="172.5" y1="57.5" x2="169.5" y2="57.5" stroke="#111" stroke-width="0.7"/>
<text x="86.5" y="61.1" font-family="DejaVu Sans, sans-serif" font-size="9.8" fill="#111" text-anchor="end">2</text>
<line x1="88.5" y1="80.5" x2="91.5" y2="80.5" stroke="#111" stroke-width="0.7"/>
<line x1="172.5" y1="80.5" x2="169.5" y2="80.5" stroke="#111" stroke-width="0.7"/>
<text x="86.5" y="84.1" font-family="DejaVu Sans, sans-serif" font-size="9.8" fill="#111" text-anchor="end">0</text>
<line x1="88.5" y1="103.5" x2="91.5" y2="103.5" stroke="#111" stroke-width="0.7"/>
<line x1="172.5" y1="103.5" x2="169.5" y2="103.5" stroke="#111" stroke-width="0.7"/>
<text x="86.5" y="107.1" font-family="DejaVu Sans, sans-serif" font-size="9.8" fill="#111" text-anchor="end">−2</text>
<line x1="88.5" y1="126.5" x2="91.5" y2="126.5" stroke="#111" stroke-width="0.7"/>
<line x1="172.5" y1="126.5" x2="169.5" y2="126.5" stroke="#111" stroke-width="0.7"/>
<text x="86.5" y="130.1" font-family="DejaVu Sans, sans-serif" font-size="9.8" fill="#111" text-anchor="end">−4</text>
<text x="94.8" y="137.5" font-family="DejaVu Sans, sans-serif" font-size="9.8" fill="#111" text-anchor="middle">−800</text>
<text x="120.3" y="137.5" font-family="DejaVu Sans, sans-serif" font-size="9.8" fill="#111" text-anchor="middle">0</text>
<text x="145.8" y="137.5" font-family="DejaVu Sans, sans-serif" font-size="9.8" fill="#111" text-anchor="middle">800</text>
<text x="131.5" y="149.7" font-family="DejaVu Sans, sans-serif" font-size="10.2" fill="#111" text-anchor="middle">Stress (bar)</text>
<text transform="translate(68,78.5) rotate(-90)" x="0" y="0" font-family="DejaVu Sans, sans-serif" font-size="10" fill="#111" text-anchor="middle">z (nm)</text>
<line x1="93" y1="162.4" x2="106" y2="162.4" stroke="#444" stroke-width="1.2"/>
<text x="112.6" y="166.5" font-family="DejaVu Sans, sans-serif" font-size="11" font-style="italic" fill="#111">P<tspan font-size="8" dy="2.8">L</tspan></text>
<line x1="139.5" y1="162.2" x2="154.8" y2="162.2" stroke="#5050cc" stroke-width="1.2"/>
<text x="159.4" y="166.5" font-family="DejaVu Sans, sans-serif" font-size="11" font-style="italic" fill="#111">P<tspan font-size="8" dy="2.8">N</tspan></text>
<text x="217.3" y="14.3" font-family="Liberation Sans, Arial, sans-serif" font-size="18.8" stroke="#000" stroke-width="0.15">(b)</text>
<rect x="266" y="19" width="65.5" height="127.3" fill="#e9eef6"/>
<rect x="331.5" y="19" width="112.3" height="127.3" fill="#fdf8e7"/>
<rect x="443.8" y="19" width="71.2" height="127.3" fill="#eff3ea"/>
<polyline points="266,119.6 267,119.6 267.9,119.6 268.9,119.6 269.8,119.6 270.8,119.6 271.7,119.6 272.7,119.6 273.6,119.6 274.6,119.6 275.6,119.6 276.5,119.6 277.5,119.6 278.4,119.6 279.4,119.6 280.3,119.6 281.3,119.6 282.2,119.6 283.2,119.6 284.1,119.6 285.1,119.6 286.1,119.6 287,119.6 288,119.6 288.9,119.6 289.9,119.6 290.8,119.6 291.8,119.6 292.7,119.6 293.7,119.6 294.6,119.6 295.6,119.6 296.6,119.6 297.5,119.6 298.5,119.6 299.4,119.6 300.4,119.6 301.3,119.6 302.3,119.6 303.2,119.6 304.2,119.6 305.2,119.6 306.1,119.6 307.1,119.6 308,119.6 309,119.6 309.9,119.6 310.9,119.6 311.8,119.6 312.8,119.6 313.8,119.6 314.7,119.6 315.7,119.6 316.6,119.6 317.6,119.6 318.5,119.6 319.5,119.6 320.4,119.6 321.4,119.6 322.3,119.6 323.3,119.5 324.3,119.5 325.2,119.5 326.2,119.4 327.1,119.4 328.1,119.3 329,119.2 330,119.2 330.9,119.1 331.9,119.1 332.9,119 333.8,119 334.8,118.9 335.7,118.9 336.7,118.8 337.6,118.8 338.6,118.7 339.5,118.6 340.5,118.6 341.4,118.5 342.4,118.4 343.4,118.4 344.3,118.3 345.3,118.2 346.2,118.1 347.2,118 348.1,117.9 349.1,117.8 350,117.6 351,117.5 351.9,117.3 352.9,117.1 353.9,116.9 354.8,116.7 355.8,116.5 356.7,116.2 357.7,116 358.6,115.8 359.6,115.5 360.5,115.2 361.5,115 362.5,114.7 363.4,114.4 364.4,114 365.3,113.7 366.3,113.3 367.2,112.9 368.2,112.5 369.1,112.1 370.1,111.7 371.1,111.3 372,110.8 373,110.4 373.9,109.9 374.9,109.5 375.8,109 376.8,108.5 377.7,107.9 378.7,107.4 379.6,106.8 380.6,106.2 381.6,105.6 382.5,105 383.5,104.4 384.4,103.7 385.4,103.1 386.3,102.4 387.3,101.8 388.2,101.1 389.2,100.3 390.1,99.5 391.1,98.7 392.1,97.9 393,97 394,96.1 394.9,95.2 395.9,94.4 396.8,93.5 397.8,92.7 398.7,91.9 399.7,91.1 400.7,90.4 401.6,89.7 402.6,89 403.5,88.3 404.5,87.6 405.4,87 406.4,86.3 407.3,85.7 408.3,85.1 409.2,84.6 410.2,84.2 411.2,83.8 412.1,83.4 413.1,83.1 414,82.8 415,82.6 415.9,82.4 416.9,82.3 417.8,82.3 418.8,82.3 419.8,82.4 420.7,82.5 421.7,82.6 422.6,82.8 423.6,82.9 424.5,83.1 425.5,83.2 426.4,83.3 427.4,83.4 428.4,83.5 429.3,83.6 430.3,83.6 431.2,83.7 432.2,83.8 433.1,83.8 434.1,83.9 435,84 436,84 436.9,84.1 437.9,84.1 438.9,84.2 439.8,84.2 440.8,84.2 441.7,84.2 442.7,84.2 443.6,84.3 444.6,84.3 445.5,84.3 446.5,84.3 447.4,84.3 448.4,84.3 449.4,84.3 450.3,84.3 451.3,84.3 452.2,84.3 453.2,84.3 454.1,84.3 455.1,84.3 456,84.3 457,84.3 458,84.3 458.9,84.3 459.9,84.3 460.8,84.3 461.8,84.3 462.7,84.3 463.7,84.3 464.6,84.3 465.6,84.3 466.5,84.3 467.5,84.3 468.5,84.3 469.4,84.3 470.4,84.3 471.3,84.3 472.3,84.3 473.2,84.3 474.2,84.3 475.1,84.3 476.1,84.3 477.1,84.3 478,84.3 479,84.3 479.9,84.3 480.9,84.3 481.8,84.3 482.8,84.3 483.7,84.3 484.7,84.3 485.6,84.3 486.6,84.3 487.6,84.3 488.5,84.3 489.5,84.3 490.4,84.3 491.4,84.3 492.3,84.3 493.3,84.3 494.2,84.3 495.2,84.3 496.2,84.3 497.1,84.3 498.1,84.3 499,84.3 500,84.3 500.9,84.3 501.9,84.3 502.8,84.3 503.8,84.3 504.8,84.3 505.7,84.3 506.7,84.3 507.6,84.3 508.6,84.3 509.5,84.3 510.5,84.3 511.4,84.3 512.4,84.3 513.3,84.3 514.3,84.3" fill="none" stroke="#111" stroke-width="1.4"/>
<polyline points="266,119.6 267,119.6 267.9,119.6 268.9,119.6 269.8,119.6 270.8,119.6 271.7,119.6 272.7,119.6 273.6,119.6 274.6,119.6 275.6,119.6 276.5,119.6 277.5,119.6 278.4,119.6 279.4,119.6 280.3,119.6 281.3,119.6 282.2,119.6 283.2,119.6 284.1,119.6 285.1,119.6 286.1,119.6 287,119.6 288,119.6 288.9,119.6 289.9,119.6 290.8,119.6 291.8,119.6 292.7,119.6 293.7,119.6 294.6,119.6 295.6,119.6 296.6,119.6 297.5,119.6 298.5,119.6 299.4,119.6 300.4,119.6 301.3,119.6 302.3,119.6 303.2,119.6 304.2,119.6 305.2,119.6 306.1,119.6 307.1,119.6 308,119.6 309,119.6 309.9,119.5 310.9,119.5 311.8,119.5 312.8,119.5 313.8,119.4 314.7,119.4 315.7,119.4 316.6,119.3 317.6,119.3 318.5,119.3 319.5,119.2 320.4,119.2 321.4,119.1 322.3,119 323.3,118.9 324.3,118.8 325.2,118.7 326.2,118.5 327.1,118.4 328.1,118.2 329,118 330,117.8 330.9,117.6 331.9,117.4 332.9,117.2 333.8,117 334.8,116.7 335.7,116.5 336.7,116.3 337.6,116 338.6,115.8 339.5,115.5 340.5,115.2 341.4,114.8 342.4,114.5 343.4,114.1 344.3,113.8 345.3,113.3 346.2,112.9 347.2,112.5 348.1,112 349.1,111.4 350,110.9 351,110.2 351.9,109.5 352.9,108.8 353.9,108.1 354.8,107.3 355.8,106.4 356.7,105.5 357.7,104.5 358.6,103.4 359.6,102.2 360.5,101 361.5,99.8 362.5,98.5 363.4,97.2 364.4,95.7 365.3,94.2 366.3,92.6 367.2,90.9 368.2,89.2 369.1,87.5 370.1,85.8 371.1,84 372,82.3 373,80.6 373.9,78.9 374.9,77.2 375.8,75.5 376.8,73.6 377.7,71.7 378.7,69.7 379.6,67.5 380.6,65.1 381.6,62.5 382.5,59.7 383.5,56.8 384.4,53.9 385.4,51.1 386.3,48.4 387.3,45.7 388.2,42.7 389.2,39.8 390.1,37.1 391.1,35 392.1,33.6 393,32.7 394,31.8 394.9,31.1 395.9,30.7 396.8,30.5 397.8,30.5 398.7,30.9 399.7,31.4 400.7,32.1 401.6,32.9 402.6,33.9 403.5,35.8 404.5,38.3 405.4,41.2 406.4,44.3 407.3,47.3 408.3,50.3 409.2,53.6 410.2,57.1 411.2,60.6 412.1,64.1 413.1,67.3 414,70.2 415,72.8 415.9,75.3 416.9,77.6 417.8,79.8 418.8,81.7 419.8,83.3 420.7,84.7 421.7,86 422.6,87.2 423.6,88.2 424.5,89 425.5,89.6 426.4,90.2 427.4,90.7 428.4,91.1 429.3,91.5 430.3,91.6 431.2,91.6 432.2,91.6 433.1,91.5 434.1,91.3 435,91.1 436,90.9 436.9,90.7 437.9,90.5 438.9,90.2 439.8,89.9 440.8,89.5 441.7,89.1 442.7,88.6 443.6,88 444.6,87.5 445.5,87 446.5,86.5 447.4,86.1 448.4,85.8 449.4,85.6 450.3,85.4 451.3,85.3 452.2,85.1 453.2,85 454.1,84.9 455.1,84.8 456,84.7 457,84.6 458,84.5 458.9,84.5 459.9,84.4 460.8,84.4 461.8,84.4 462.7,84.4 463.7,84.4 464.6,84.4 465.6,84.4 466.5,84.4 467.5,84.4 468.5,84.4 469.4,84.3 470.4,84.3 471.3,84.3 472.3,84.3 473.2,84.3 474.2,84.3 475.1,84.3 476.1,84.3 477.1,84.3 478,84.3 479,84.3 479.9,84.3 480.9,84.3 481.8,84.3 482.8,84.3 483.7,84.3 484.7,84.3 485.6,84.3 486.6,84.3 487.6,84.3 488.5,84.3 489.5,84.3 490.4,84.3 491.4,84.3 492.3,84.3 493.3,84.3 494.2,84.3 495.2,84.3 496.2,84.3 497.1,84.3 498.1,84.3 499,84.3 500,84.3 500.9,84.3 501.9,84.3 502.8,84.3 503.8,84.3 504.8,84.3 505.7,84.3 506.7,84.3 507.6,84.3 508.6,84.3 509.5,84.3 510.5,84.3 511.4,84.3 512.4,84.3 513.3,84.3 514.3,84.3" fill="none" stroke="#d03a44" stroke-width="1.3"/>
<line x1="266" y1="146.3" x2="266" y2="143.3" stroke="#333" stroke-width="0.7"/>
<line x1="266" y1="19" x2="266" y2="22" stroke="#333" stroke-width="0.7"/>
<line x1="285.1" y1="146.3" x2="285.1" y2="144.3" stroke="#333" stroke-width="0.7"/>
<line x1="285.1" y1="19" x2="285.1" y2="21" stroke="#333" stroke-width="0.7"/>
<line x1="304.2" y1="146.3" x2="304.2" y2="143.3" stroke="#333" stroke-width="0.7"/>
<line x1="304.2" y1="19" x2="304.2" y2="22" stroke="#333" stroke-width="0.7"/>
<line x1="323.3" y1="146.3" x2="323.3" y2="144.3" stroke="#333" stroke-width="0.7"/>
<line x1="323.3" y1="19" x2="323.3" y2="21" stroke="#333" stroke-width="0.7"/>
<line x1="342.4" y1="146.3" x2="342.4" y2="143.3" stroke="#333" stroke-width="0.7"/>
<line x1="342.4" y1="19" x2="342.4" y2="22" stroke="#333" stroke-width="0.7"/>
<line x1="361.5" y1="146.3" x2="361.5" y2="144.3" stroke="#333" stroke-width="0.7"/>
<line x1="361.5" y1="19" x2="361.5" y2="21" stroke="#333" stroke-width="0.7"/>
<line x1="380.6" y1="146.3" x2="380.6" y2="143.3" stroke="#333" stroke-width="0.7"/>
<line x1="380.6" y1="19" x2="380.6" y2="22" stroke="#333" stroke-width="0.7"/>
<line x1="399.7" y1="146.3" x2="399.7" y2="144.3" stroke="#333" stroke-width="0.7"/>
<line x1="399.7" y1="19" x2="399.7" y2="21" stroke="#333" stroke-width="0.7"/>
<line x1="418.8" y1="146.3" x2="418.8" y2="143.3" stroke="#333" stroke-width="0.7"/>
<line x1="418.8" y1="19" x2="418.8" y2="22" stroke="#333" stroke-width="0.7"/>
<line x1="437.9" y1="146.3" x2="437.9" y2="144.3" stroke="#333" stroke-width="0.7"/>
<line x1="437.9" y1="19" x2="437.9" y2="21" stroke="#333" stroke-width="0.7"/>
<line x1="457" y1="146.3" x2="457" y2="143.3" stroke="#333" stroke-width="0.7"/>
<line x1="457" y1="19" x2="457" y2="22" stroke="#333" stroke-width="0.7"/>
<line x1="476.1" y1="146.3" x2="476.1" y2="144.3" stroke="#333" stroke-width="0.7"/>
<line x1="476.1" y1="19" x2="476.1" y2="21" stroke="#333" stroke-width="0.7"/>
<line x1="495.2" y1="146.3" x2="495.2" y2="143.3" stroke="#333" stroke-width="0.7"/>
<line x1="495.2" y1="19" x2="495.2" y2="22" stroke="#333" stroke-width="0.7"/>
<line x1="514.3" y1="146.3" x2="514.3" y2="144.3" stroke="#333" stroke-width="0.7"/>
<line x1="514.3" y1="19" x2="514.3" y2="21" stroke="#333" stroke-width="0.7"/>
<line x1="266" y1="145.8" x2="269" y2="145.8" stroke="#333" stroke-width="0.7"/>
<line x1="515" y1="145.8" x2="512" y2="145.8" stroke="#333" stroke-width="0.7"/>
<line x1="266" y1="136" x2="268" y2="136" stroke="#333" stroke-width="0.7"/>
<line x1="515" y1="136" x2="513" y2="136" stroke="#333" stroke-width="0.7"/>
<line x1="266" y1="126.2" x2="269" y2="126.2" stroke="#333" stroke-width="0.7"/>
<line x1="515" y1="126.2" x2="512" y2="126.2" stroke="#333" stroke-width="0.7"/>
<line x1="266" y1="116.5" x2="268" y2="116.5" stroke="#333" stroke-width="0.7"/>
<line x1="515" y1="116.5" x2="513" y2="116.5" stroke="#333" stroke-width="0.7"/>
<line x1="266" y1="106.7" x2="269" y2="106.7" stroke="#333" stroke-width="0.7"/>
<line x1="515" y1="106.7" x2="512" y2="106.7" stroke="#333" stroke-width="0.7"/>
<line x1="266" y1="96.9" x2="268" y2="96.9" stroke="#333" stroke-width="0.7"/>
<line x1="515" y1="96.9" x2="513" y2="96.9" stroke="#333" stroke-width="0.7"/>
<line x1="266" y1="87.2" x2="269" y2="87.2" stroke="#333" stroke-width="0.7"/>
<line x1="515" y1="87.2" x2="512" y2="87.2" stroke="#333" stroke-width="0.7"/>
<line x1="266" y1="77.4" x2="268" y2="77.4" stroke="#333" stroke-width="0.7"/>
<line x1="515" y1="77.4" x2="513" y2="77.4" stroke="#333" stroke-width="0.7"/>
<line x1="266" y1="67.6" x2="269" y2="67.6" stroke="#333" stroke-width="0.7"/>
<line x1="515" y1="67.6" x2="512" y2="67.6" stroke="#333" stroke-width="0.7"/>
<line x1="266" y1="57.8" x2="268" y2="57.8" stroke="#333" stroke-width="0.7"/>
<line x1="515" y1="57.8" x2="513" y2="57.8" stroke="#333" stroke-width="0.7"/>
<line x1="266" y1="48" x2="269" y2="48" stroke="#333" stroke-width="0.7"/>
<line x1="515" y1="48" x2="512" y2="48" stroke="#333" stroke-width="0.7"/>
<line x1="266" y1="38.3" x2="268" y2="38.3" stroke="#333" stroke-width="0.7"/>
<line x1="515" y1="38.3" x2="513" y2="38.3" stroke="#333" stroke-width="0.7"/>
<line x1="266" y1="28.5" x2="269" y2="28.5" stroke="#333" stroke-width="0.7"/>
<line x1="515" y1="28.5" x2="512" y2="28.5" stroke="#333" stroke-width="0.7"/>
<line x1="266" y1="18.7" x2="268" y2="18.7" stroke="#333" stroke-width="0.7"/>
<line x1="515" y1="18.7" x2="513" y2="18.7" stroke="#333" stroke-width="0.7"/>
<rect x="266" y="19" width="249" height="127.3" fill="none" stroke="#6a6a6a" stroke-width="1.2"/>
<text x="261.5" y="150.2" font-family="Liberation Sans, Arial, sans-serif" font-size="11.3" fill="#111" text-anchor="end">7850</text>
<text x="261.5" y="130.7" font-family="Liberation Sans, Arial, sans-serif" font-size="11.3" fill="#111" text-anchor="end">7900</text>
<text x="261.5" y="111.1" font-family="Liberation Sans, Arial, sans-serif" font-size="11.3" fill="#111" text-anchor="end">7950</text>
<text x="261.5" y="91.6" font-family="Liberation Sans, Arial, sans-serif" font-size="11.3" fill="#111" text-anchor="end">8000</text>
<text x="261.5" y="72" font-family="Liberation Sans, Arial, sans-serif" font-size="11.3" fill="#111" text-anchor="end">8050</text>
<text x="261.5" y="52.4" font-family="Liberation Sans, Arial, sans-serif" font-size="11.3" fill="#111" text-anchor="end">8100</text>
<text x="261.5" y="32.9" font-family="Liberation Sans, Arial, sans-serif" font-size="11.3" fill="#111" text-anchor="end">8150</text>
<text x="266" y="159.9" font-family="Liberation Sans, Arial, sans-serif" font-size="11.2" fill="#111" text-anchor="middle">0</text>
<text x="304.2" y="159.9" font-family="Liberation Sans, Arial, sans-serif" font-size="11.2" fill="#111" text-anchor="middle">10</text>
<text x="342.4" y="159.9" font-family="Liberation Sans, Arial, sans-serif" font-size="11.2" fill="#111" text-anchor="middle">20</text>
<text x="380.6" y="159.9" font-family="Liberation Sans, Arial, sans-serif" font-size="11.2" fill="#111" text-anchor="middle">30</text>
<text x="418.8" y="159.9" font-family="Liberation Sans, Arial, sans-serif" font-size="11.2" fill="#111" text-anchor="middle">40</text>
<text x="457" y="159.9" font-family="Liberation Sans, Arial, sans-serif" font-size="11.2" fill="#111" text-anchor="middle">50</text>
<text x="495.2" y="159.9" font-family="Liberation Sans, Arial, sans-serif" font-size="11.2" fill="#111" text-anchor="middle">60</text>
<text x="390.8" y="174.6" font-family="Liberation Sans, Arial, sans-serif" font-size="13.6" fill="#111" text-anchor="middle">R (A)</text>
<text transform="translate(231,82.7) rotate(-90)" font-family="Liberation Sans, Arial, sans-serif" font-size="13" fill="#111" text-anchor="middle">P (bar)</text>
<text x="280.8" y="137.4" font-family="Liberation Sans, Arial, sans-serif" font-size="14" font-weight="bold" fill="#2c4275" textLength="30.3" lengthAdjust="spacingAndGlyphs">Solid</text>
<text x="364" y="137.4" font-family="Liberation Sans, Arial, sans-serif" font-size="14" font-weight="bold" fill="#6e5a24" textLength="55.3" lengthAdjust="spacingAndGlyphs">Interface</text>
<text x="461.3" y="137.4" font-family="Liberation Sans, Arial, sans-serif" font-size="14" font-weight="bold" fill="#3b4d27" textLength="37.1" lengthAdjust="spacingAndGlyphs">Liquid</text>
<rect x="465.4" y="19.3" width="48.5" height="36" fill="#f0f3eb" stroke="#9a9a9a" stroke-width="0.8"/>
<line x1="466.5" y1="28.2" x2="493" y2="28.2" stroke="#111" stroke-width="1.5"/>
<line x1="466.5" y1="44.6" x2="493" y2="44.6" stroke="#d03a44" stroke-width="1.5"/>
<text x="495.6" y="32.2" font-family="Liberation Sans, Arial, sans-serif" font-size="12.8" fill="#111">P<tspan font-size="8.5" dy="3.2">N</tspan></text>
<text x="495.6" y="48.7" font-family="Liberation Sans, Arial, sans-serif" font-size="12.8" fill="#111">P<tspan font-size="8.5" dy="3.2">T</tspan></text>
<defs><linearGradient id="gT" x1="0" y1="0" x2="0" y2="1"><stop offset="0" stop-color="#e4f3f7"/><stop offset="1" stop-color="#7cb8c8"/></linearGradient><linearGradient id="gB" x1="0" y1="1" x2="0" y2="0"><stop offset="0" stop-color="#e4f3f7"/><stop offset="1" stop-color="#7cb8c8"/></linearGradient><linearGradient id="gL" x1="0" y1="0" x2="1" y2="0"><stop offset="0" stop-color="#e0f1f6"/><stop offset="1" stop-color="#76b2c4"/></linearGradient><linearGradient id="gR" x1="1" y1="0" x2="0" y2="0"><stop offset="0" stop-color="#e0f1f6"/><stop offset="1" stop-color="#76b2c4"/></linearGradient></defs>
<polygon points="276.8,27.4 350.5,27.4 337.4,41.7 290,41.7" fill="url(#gT)"/>
<polygon points="276.8,101 350.5,101 337.4,87.8 290,87.8" fill="url(#gB)"/>
<polygon points="276.8,27.4 290,41.7 290,87.8 276.8,101" fill="url(#gL)"/>
<polygon points="350.5,27.4 337.4,41.7 337.4,87.8 350.5,101" fill="url(#gR)"/>
<rect x="290" y="41.7" width="47.4" height="46.1" fill="#66a5b8"/>
<polygon points="290,41.7 337.4,41.7 337.4,87.8 290,87.8" fill="none" stroke="#6d8890" stroke-width="0.6"/>
<line x1="276.8" y1="27.4" x2="290" y2="41.7" stroke="#6a848c" stroke-width="0.7"/>
<line x1="350.5" y1="27.4" x2="337.4" y2="41.7" stroke="#6a848c" stroke-width="0.7"/>
<line x1="276.8" y1="101" x2="290" y2="87.8" stroke="#6a848c" stroke-width="0.7"/>
<line x1="350.5" y1="101" x2="337.4" y2="87.8" stroke="#6a848c" stroke-width="0.7"/>
<rect x="276.8" y="27.4" width="73.7" height="73.6" fill="none" stroke="#6c7a80" stroke-width="1"/>
<polygon points="328.7,64.8 328.1,67.3 327.9,69.9 326.6,72.1 324.3,73.5 323.4,76 320.9,76.6 319.3,78.5 317.2,79.6 315,80.7 312.5,80.1 310,80.8 307.3,81.3 305.4,79.1 303.3,77.8 301,76.6 299.7,74.3 298.2,72.2 297.9,69.6 298,67.1 297.2,64.8 298,62.5 298.3,60.1 298.6,57.6 299.9,55.4 301.2,53.3 302.7,51.1 305.1,50 307.2,48.3 310,48.4 312.5,48.9 314.8,50.3 317,50.7 319,51.8 321.1,52.7 323,54 325.3,55.3 327.1,57.2 327.8,59.7 328.6,62.2" fill="#356f86"/>
<circle cx="303.3" cy="55.6" r="0.8" fill="#4f8ca0"/>
<circle cx="308.5" cy="54.3" r="0.8" fill="#2c6078"/>
<circle cx="316" cy="71.2" r="0.8" fill="#2c6078"/>
<circle cx="316.8" cy="56.5" r="0.8" fill="#2c6078"/>
<circle cx="308.6" cy="58.9" r="0.8" fill="#4f8ca0"/>
<circle cx="318" cy="53.1" r="0.8" fill="#4f8ca0"/>
<circle cx="306.1" cy="57.9" r="0.8" fill="#3e7a90"/>
<circle cx="315.7" cy="76.7" r="0.8" fill="#4f8ca0"/>
<circle cx="316.8" cy="74.2" r="0.8" fill="#3e7a90"/>
<circle cx="320.2" cy="70.9" r="0.8" fill="#3e7a90"/>
<circle cx="310.8" cy="62.8" r="0.8" fill="#4f8ca0"/>
<circle cx="313.2" cy="64.8" r="0.8" fill="#3e7a90"/>
<circle cx="312.2" cy="64" r="0.8" fill="#4f8ca0"/>
<circle cx="309.2" cy="67.2" r="0.8" fill="#2c6078"/>
<circle cx="309.7" cy="59.8" r="0.8" fill="#4f8ca0"/>
<circle cx="313.7" cy="55.1" r="0.8" fill="#3e7a90"/>
<circle cx="319.9" cy="59.1" r="0.8" fill="#2c6078"/>
<circle cx="305.1" cy="61" r="0.8" fill="#2c6078"/>
<circle cx="318.2" cy="72.2" r="0.8" fill="#3e7a90"/>
<circle cx="315.7" cy="67.4" r="0.8" fill="#2c6078"/>
<circle cx="321.1" cy="61.9" r="0.8" fill="#4f8ca0"/>
<circle cx="303.6" cy="57.2" r="0.8" fill="#2c6078"/>
<circle cx="306.2" cy="56.1" r="0.8" fill="#3e7a90"/>
<circle cx="307.6" cy="74.7" r="0.8" fill="#4f8ca0"/>
<circle cx="312.1" cy="67.1" r="0.8" fill="#3e7a90"/>
<circle cx="322.5" cy="72" r="0.8" fill="#3e7a90"/>
<circle cx="317.8" cy="67" r="0.8" fill="#3e7a90"/>
<circle cx="310.2" cy="66.8" r="0.8" fill="#4f8ca0"/>
<circle cx="301.4" cy="58.5" r="0.8" fill="#4f8ca0"/>
<circle cx="318.5" cy="66.9" r="0.8" fill="#2c6078"/>
<circle cx="324.6" cy="68.2" r="0.8" fill="#2c6078"/>
<circle cx="307.6" cy="76.1" r="0.8" fill="#4f8ca0"/>
<circle cx="309.2" cy="74.3" r="0.8" fill="#4f8ca0"/>
<circle cx="315.9" cy="64.4" r="0.8" fill="#3e7a90"/>
<circle cx="304" cy="71.8" r="0.8" fill="#2c6078"/>
<circle cx="305.5" cy="69" r="0.8" fill="#3e7a90"/>
<circle cx="301" cy="65.9" r="0.8" fill="#2c6078"/>
<circle cx="317.1" cy="67.6" r="0.8" fill="#4f8ca0"/>
<circle cx="317.5" cy="76.6" r="0.8" fill="#4f8ca0"/>
<circle cx="306.3" cy="69.6" r="0.8" fill="#4f8ca0"/>
<circle cx="304.6" cy="63.1" r="0.8" fill="#4f8ca0"/>
<circle cx="305.1" cy="54.4" r="0.8" fill="#4f8ca0"/>
<circle cx="316" cy="58" r="0.8" fill="#2c6078"/>
<circle cx="305.7" cy="70.6" r="0.8" fill="#4f8ca0"/>
<circle cx="312.7" cy="67.2" r="0.8" fill="#3e7a90"/>
<circle cx="324" cy="66.6" r="0.8" fill="#2c6078"/>
<circle cx="311.4" cy="61" r="0.8" fill="#4f8ca0"/>
<circle cx="301.4" cy="61.6" r="0.8" fill="#3e7a90"/>
<circle cx="301.4" cy="68.9" r="0.8" fill="#2c6078"/>
<circle cx="316.7" cy="71.3" r="0.8" fill="#3e7a90"/>
<circle cx="304" cy="70.6" r="0.8" fill="#3e7a90"/>
<circle cx="315.8" cy="77" r="0.8" fill="#3e7a90"/>
<circle cx="315.9" cy="76.4" r="0.8" fill="#3e7a90"/>
<circle cx="319.9" cy="72.8" r="0.8" fill="#4f8ca0"/>
<circle cx="305.4" cy="59.9" r="0.8" fill="#4f8ca0"/>
<circle cx="304.4" cy="63" r="0.8" fill="#3e7a90"/>
<circle cx="315.3" cy="76.6" r="0.8" fill="#2c6078"/>
<circle cx="310.8" cy="61.3" r="0.8" fill="#4f8ca0"/>
<circle cx="311.5" cy="53.5" r="0.8" fill="#2c6078"/>
<circle cx="307.1" cy="56.6" r="0.8" fill="#4f8ca0"/>
<circle cx="323.4" cy="65.8" r="0.8" fill="#3e7a90"/>
<circle cx="317.8" cy="75.6" r="0.8" fill="#4f8ca0"/>
<circle cx="317.1" cy="76.2" r="0.8" fill="#2c6078"/>
<circle cx="305.3" cy="61.8" r="0.8" fill="#3e7a90"/>
<circle cx="312.8" cy="59.1" r="0.8" fill="#3e7a90"/>
<circle cx="310.2" cy="70.5" r="0.8" fill="#2c6078"/>
<circle cx="315.8" cy="57.3" r="0.8" fill="#4f8ca0"/>
<circle cx="302.3" cy="71.9" r="0.8" fill="#3e7a90"/>
<circle cx="321.4" cy="56.7" r="0.8" fill="#2c6078"/>
<circle cx="317.5" cy="62.7" r="0.8" fill="#4f8ca0"/>
<line x1="312.5" y1="64.8" x2="334" y2="64.6" stroke="#dcedf3" stroke-width="1.1"/>
<polygon points="337.5,64.6 332.5,62.3 332.5,66.9" fill="#e8f4f8"/>
<text x="331.8" y="78.5" font-family="Liberation Sans, Arial, sans-serif" font-size="7.5" fill="#eef6f8">R</text>
<text x="1" y="205.3" font-family="Liberation Sans, Arial, sans-serif" font-size="18.8" stroke="#000" stroke-width="0.15">(c)</text>
<rect x="54" y="219.5" width="207.5" height="149.6" fill="none" stroke="#858585" stroke-width="1.1"/>
<line x1="50.5" y1="369.1" x2="54" y2="369.1" stroke="#858585" stroke-width="1"/>
<text x="47.3" y="373.4" font-family="Liberation Sans, Arial, sans-serif" font-size="10.7" fill="#111" text-anchor="end">-5000</text>
<line x1="50.5" y1="339.2" x2="54" y2="339.2" stroke="#858585" stroke-width="1"/>
<text x="47.3" y="343.4" font-family="Liberation Sans, Arial, sans-serif" font-size="10.7" fill="#111" text-anchor="end">0</text>
<line x1="50.5" y1="309.3" x2="54" y2="309.3" stroke="#858585" stroke-width="1"/>
<text x="47.3" y="313.5" font-family="Liberation Sans, Arial, sans-serif" font-size="10.7" fill="#111" text-anchor="end">5000</text>
<line x1="50.5" y1="279.4" x2="54" y2="279.4" stroke="#858585" stroke-width="1"/>
<text x="47.3" y="283.6" font-family="Liberation Sans, Arial, sans-serif" font-size="10.7" fill="#111" text-anchor="end">10000</text>
<line x1="50.5" y1="249.4" x2="54" y2="249.4" stroke="#858585" stroke-width="1"/>
<text x="47.3" y="253.7" font-family="Liberation Sans, Arial, sans-serif" font-size="10.7" fill="#111" text-anchor="end">15000</text>
<line x1="50.5" y1="219.5" x2="54" y2="219.5" stroke="#858585" stroke-width="1"/>
<text x="47.3" y="223.8" font-family="Liberation Sans, Arial, sans-serif" font-size="10.7" fill="#111" text-anchor="end">20000</text>
<line x1="69.5" y1="369.1" x2="69.5" y2="372.1" stroke="#858585" stroke-width="1"/>
<text x="69.5" y="386.9" font-family="Liberation Sans, Arial, sans-serif" font-size="10.7" fill="#111" text-anchor="middle">-6</text>
<line x1="99.1" y1="369.1" x2="99.1" y2="372.1" stroke="#858585" stroke-width="1"/>
<text x="99.1" y="386.9" font-family="Liberation Sans, Arial, sans-serif" font-size="10.7" fill="#111" text-anchor="middle">-4</text>
<line x1="128.7" y1="369.1" x2="128.7" y2="372.1" stroke="#858585" stroke-width="1"/>
<text x="128.7" y="386.9" font-family="Liberation Sans, Arial, sans-serif" font-size="10.7" fill="#111" text-anchor="middle">-2</text>
<line x1="158.3" y1="369.1" x2="158.3" y2="372.1" stroke="#858585" stroke-width="1"/>
<text x="158.3" y="386.9" font-family="Liberation Sans, Arial, sans-serif" font-size="10.7" fill="#111" text-anchor="middle">0</text>
<line x1="187.9" y1="369.1" x2="187.9" y2="372.1" stroke="#858585" stroke-width="1"/>
<text x="187.9" y="386.9" font-family="Liberation Sans, Arial, sans-serif" font-size="10.7" fill="#111" text-anchor="middle">2</text>
<line x1="217.5" y1="369.1" x2="217.5" y2="372.1" stroke="#858585" stroke-width="1"/>
<text x="217.5" y="386.9" font-family="Liberation Sans, Arial, sans-serif" font-size="10.7" fill="#111" text-anchor="middle">4</text>
<line x1="247.1" y1="369.1" x2="247.1" y2="372.1" stroke="#858585" stroke-width="1"/>
<text x="247.1" y="386.9" font-family="Liberation Sans, Arial, sans-serif" font-size="10.7" fill="#111" text-anchor="middle">6</text>
<text x="158" y="395" font-family="Liberation Sans, Arial, sans-serif" font-size="11" font-weight="bold" font-style="italic" fill="#111" text-anchor="middle">z*</text>
<text transform="translate(15.5,293.4) rotate(-90)" font-family="Liberation Sans, Arial, sans-serif" font-size="10.5" font-weight="bold" fill="#111" text-anchor="middle"><tspan font-style="italic">P</tspan> / bar</text>
<line x1="55" y1="339.2" x2="260.5" y2="339.2" stroke="#6e6e6e" stroke-width="1"/>
<polyline points="59.4,358.3 61.4,226.7 61.8,249.4 62.4,313.5 62.7,338 63,340.4 63.7,341.8 64.3,342.1 65,342.1 65.7,342.1 66.3,342.1 67,342.1 67.6,342.1 68.3,342.1 69,342.1 69.6,342.1 70.3,342.1 71,342.1 71.6,342.1 72.3,342.1 73,342.1 73.6,336.7 74.3,321.8 75,308.2 75.6,305.9 76.3,316.5 77,332.3 77.6,341.7 78.3,342.1 79,342.1 79.6,342.1 80.3,342.1 81,342.1 81.6,342.1 82.3,342.1 83,342.1 83.6,342.1 84.3,342.1 85,342.1 85.6,342.1 86.3,341.9 87,339.1 87.6,334.2 88.3,329 89,325.7 89.6,325.4 90.3,328 91,332.5 91.6,337.3 92.3,340.9 93,342 93.6,342 94.3,342 95,342 95.6,342 96.3,341.9 97,341.9 97.6,341.9 98.3,341.9 99,341.7 99.6,341 100.3,340 100.9,338.8 101.6,337.5 102.3,336.5 102.9,335.8 103.6,335.6 104.3,335.8 104.9,336.2 105.6,336.7 106.3,337.5 106.9,338.3 107.6,339.1 108.3,339.9 108.9,340.4 109.6,340.8 110.3,341 110.9,340.9 111.6,340.6 112.3,340.2 112.9,339.6 113.6,338.9 114.3,338.2 114.9,337.6 115.6,337.1 116.3,336.7 116.9,336.5 117.6,336.6 118.3,336.8 118.9,337.2 119.6,337.7 120.3,338.3 120.9,339 121.6,339.6 122.3,340.1 122.9,340.5 123.6,340.7 124.3,340.7 124.9,340.6 125.6,340.3 126.3,340 126.9,339.6 127.6,339.1 128.3,338.6 128.9,338.2 129.6,337.8 130.3,337.5 130.9,337.3 131.6,337.2 132.3,337.3 132.9,337.4 133.6,337.7 134.2,338.1 134.9,338.5 135.6,338.9 136.2,339.4 136.9,339.7 137.6,340 138.2,340.2 138.9,340.3 139.6,340.3 140.2,340.1 140.9,339.9 141.6,339.6 142.2,339.2 142.9,338.8 143.6,338.5 144.2,338.3 144.9,338.1 145.6,338.1 146.2,338.1 146.9,338.3 147.6,338.5 148.2,338.8 148.9,339.1 149.6,339.3 150.2,339.6 150.9,339.8 151.6,339.9 152.2,339.9 152.9,339.9 153.6,339.7 154.2,339.5 154.9,339.3 155.6,339 156.2,338.7 156.9,338.5 157.6,338.3 158.2,338.3 158.9,338.3 159.6,338.3 160.2,338.5 160.9,338.7 161.6,339 162.2,339.2 162.9,339.5 163.6,339.6 164.2,339.7 164.9,339.7 165.6,339.6 166.2,339.5 166.9,339.2 167.5,339 168.2,338.8 168.9,338.6 169.5,338.5 170.2,338.4 170.9,338.5 171.5,338.6 172.2,338.7 172.9,338.9 173.5,339.1 174.2,339.3 174.9,339.5 175.5,339.7 176.2,339.9 176.9,339.9 177.5,340 178.2,339.9 178.9,339.8 179.5,339.6 180.2,339.4 180.9,339.1 181.5,338.8 182.2,338.6 182.9,338.3 183.5,338.1 184.2,338 184.9,337.9 185.5,338 186.2,338.1 186.9,338.4 187.5,338.7 188.2,339 188.9,339.4 189.5,339.7 190.2,339.9 190.9,340.1 191.5,340.2 192.2,340.1 192.9,339.9 193.5,339.6 194.2,339.3 194.9,338.8 195.5,338.4 196.2,338 196.9,337.6 197.5,337.4 198.2,337.2 198.9,337.2 199.5,337.4 200.2,337.7 200.8,338.1 201.5,338.6 202.2,339.2 202.8,339.7 203.5,340.2 204.2,340.6 204.8,340.9 205.5,341 206.2,340.9 206.8,340.5 207.5,339.9 208.2,339.1 208.8,338.2 209.5,337.3 210.2,336.4 210.8,335.7 211.5,335.1 212.2,334.9 212.8,334.9 213.5,335.4 214.2,336.2 214.8,337.4 215.5,338.6 216.2,339.9 216.8,340.9 217.5,341.6 218.2,341.9 218.8,341.9 219.5,341.9 220.2,341.9 220.8,342 221.5,342 222.2,342 222.8,342 223.5,341.7 224.2,339.8 224.8,336.6 225.5,333.4 226.2,331.1 226.8,330.5 227.5,331.9 228.2,334.8 228.8,338.1 229.5,340.9 230.2,342.1 230.8,342.1 231.5,342.1 232.2,342.1 232.8,342.1 233.5,342.1 234.1,342.1 234.8,342.1 235.5,342.1 236.1,342.1 236.8,342.1 237.5,342.1 238.1,341.5 238.8,334 239.5,322.2 240.1,313.9 240.8,314.4 241.5,323.5 242.1,335.2 242.8,341.8 243.5,342.1 244.1,342.1 244.8,342.1 245.5,342.1 246.1,342.1 246.8,342.1 247.5,342.1 248.1,342.1 248.8,342.1 249.5,342.1 250.1,342.1 250.8,342.1 251.5,342.1 252.1,340.8 253,336.8 253.5,300.3 254.1,230.3 256.4,358.3" fill="none" stroke="#7cb060" stroke-width="1"/>
<g fill="#4a5e3c" stroke="#1a2812" stroke-width="0.85"><circle cx="98.3" cy="341.9" r="1.9"/><circle cx="99" cy="341.7" r="1.9"/><circle cx="99.6" cy="341" r="1.9"/><circle cx="100.3" cy="340" r="1.9"/><circle cx="100.9" cy="338.8" r="1.9"/><circle cx="101.6" cy="337.5" r="1.9"/><circle cx="102.3" cy="336.5" r="1.9"/><circle cx="102.9" cy="335.8" r="1.9"/><circle cx="103.6" cy="335.6" r="1.9"/><circle cx="104.3" cy="335.8" r="1.9"/><circle cx="104.9" cy="336.2" r="1.9"/><circle cx="105.6" cy="336.7" r="1.9"/><circle cx="106.3" cy="337.5" r="1.9"/><circle cx="106.9" cy="338.3" r="1.9"/><circle cx="107.6" cy="339.1" r="1.9"/><circle cx="108.3" cy="339.9" r="1.9"/><circle cx="108.9" cy="340.4" r="1.9"/><circle cx="109.6" cy="340.8" r="1.9"/><circle cx="110.3" cy="341" r="1.9"/><circle cx="110.9" cy="340.9" r="1.9"/><circle cx="111.6" cy="340.6" r="1.9"/><circle cx="112.3" cy="340.2" r="1.9"/><circle cx="112.9" cy="339.6" r="1.9"/><circle cx="113.6" cy="338.9" r="1.9"/><circle cx="114.3" cy="338.2" r="1.9"/><circle cx="114.9" cy="337.6" r="1.9"/><circle cx="115.6" cy="337.1" r="1.9"/><circle cx="116.3" cy="336.7" r="1.9"/><circle cx="116.9" cy="336.5" r="1.9"/><circle cx="117.6" cy="336.6" r="1.9"/><circle cx="118.3" cy="336.8" r="1.9"/><circle cx="118.9" cy="337.2" r="1.9"/><circle cx="119.6" cy="337.7" r="1.9"/><circle cx="120.3" cy="338.3" r="1.9"/><circle cx="120.9" cy="339" r="1.9"/><circle cx="121.6" cy="339.6" r="1.9"/><circle cx="122.3" cy="340.1" r="1.9"/><circle cx="122.9" cy="340.5" r="1.9"/><circle cx="123.6" cy="340.7" r="1.9"/><circle cx="124.3" cy="340.7" r="1.9"/><circle cx="124.9" cy="340.6" r="1.9"/><circle cx="125.6" cy="340.3" r="1.9"/><circle cx="126.3" cy="340" r="1.9"/><circle cx="126.9" cy="339.6" r="1.9"/><circle cx="127.6" cy="339.1" r="1.9"/><circle cx="128.3" cy="338.6" r="1.9"/><circle cx="128.9" cy="338.2" r="1.9"/><circle cx="129.6" cy="337.8" r="1.9"/><circle cx="130.3" cy="337.5" r="1.9"/><circle cx="130.9" cy="337.3" r="1.9"/><circle cx="131.6" cy="337.2" r="1.9"/><circle cx="132.3" cy="337.3" r="1.9"/><circle cx="132.9" cy="337.4" r="1.9"/><circle cx="133.6" cy="337.7" r="1.9"/><circle cx="134.2" cy="338.1" r="1.9"/><circle cx="134.9" cy="338.5" r="1.9"/><circle cx="135.6" cy="338.9" r="1.9"/><circle cx="136.2" cy="339.4" r="1.9"/><circle cx="136.9" cy="339.7" r="1.9"/><circle cx="137.6" cy="340" r="1.9"/><circle cx="138.2" cy="340.2" r="1.9"/><circle cx="138.9" cy="340.3" r="1.9"/><circle cx="139.6" cy="340.3" r="1.9"/><circle cx="140.2" cy="340.1" r="1.9"/><circle cx="140.9" cy="339.9" r="1.9"/><circle cx="141.6" cy="339.6" r="1.9"/><circle cx="142.2" cy="339.2" r="1.9"/><circle cx="142.9" cy="338.8" r="1.9"/><circle cx="143.6" cy="338.5" r="1.9"/><circle cx="144.2" cy="338.3" r="1.9"/><circle cx="144.9" cy="338.1" r="1.9"/><circle cx="145.6" cy="338.1" r="1.9"/><circle cx="146.2" cy="338.1" r="1.9"/><circle cx="146.9" cy="338.3" r="1.9"/><circle cx="147.6" cy="338.5" r="1.9"/><circle cx="148.2" cy="338.8" r="1.9"/><circle cx="148.9" cy="339.1" r="1.9"/><circle cx="149.6" cy="339.3" r="1.9"/><circle cx="150.2" cy="339.6" r="1.9"/><circle cx="150.9" cy="339.8" r="1.9"/><circle cx="151.6" cy="339.9" r="1.9"/><circle cx="152.2" cy="339.9" r="1.9"/><circle cx="152.9" cy="339.9" r="1.9"/><circle cx="153.6" cy="339.7" r="1.9"/><circle cx="154.2" cy="339.5" r="1.9"/><circle cx="154.9" cy="339.3" r="1.9"/><circle cx="155.6" cy="339" r="1.9"/><circle cx="156.2" cy="338.7" r="1.9"/><circle cx="156.9" cy="338.5" r="1.9"/><circle cx="157.6" cy="338.3" r="1.9"/><circle cx="158.2" cy="338.3" r="1.9"/><circle cx="158.9" cy="338.3" r="1.9"/><circle cx="159.6" cy="338.3" r="1.9"/><circle cx="160.2" cy="338.5" r="1.9"/><circle cx="160.9" cy="338.7" r="1.9"/><circle cx="161.6" cy="339" r="1.9"/><circle cx="162.2" cy="339.2" r="1.9"/><circle cx="162.9" cy="339.5" r="1.9"/><circle cx="163.6" cy="339.6" r="1.9"/><circle cx="164.2" cy="339.7" r="1.9"/><circle cx="164.9" cy="339.7" r="1.9"/><circle cx="165.6" cy="339.6" r="1.9"/><circle cx="166.2" cy="339.5" r="1.9"/><circle cx="166.9" cy="339.2" r="1.9"/><circle cx="167.5" cy="339" r="1.9"/><circle cx="168.2" cy="338.8" r="1.9"/><circle cx="168.9" cy="338.6" r="1.9"/><circle cx="169.5" cy="338.5" r="1.9"/><circle cx="170.2" cy="338.4" r="1.9"/><circle cx="170.9" cy="338.5" r="1.9"/><circle cx="171.5" cy="338.6" r="1.9"/><circle cx="172.2" cy="338.7" r="1.9"/><circle cx="172.9" cy="338.9" r="1.9"/><circle cx="173.5" cy="339.1" r="1.9"/><circle cx="174.2" cy="339.3" r="1.9"/><circle cx="174.9" cy="339.5" r="1.9"/><circle cx="175.5" cy="339.7" r="1.9"/><circle cx="176.2" cy="339.9" r="1.9"/><circle cx="176.9" cy="339.9" r="1.9"/><circle cx="177.5" cy="340" r="1.9"/><circle cx="178.2" cy="339.9" r="1.9"/><circle cx="178.9" cy="339.8" r="1.9"/><circle cx="179.5" cy="339.6" r="1.9"/><circle cx="180.2" cy="339.4" r="1.9"/><circle cx="180.9" cy="339.1" r="1.9"/><circle cx="181.5" cy="338.8" r="1.9"/><circle cx="182.2" cy="338.6" r="1.9"/><circle cx="182.9" cy="338.3" r="1.9"/><circle cx="183.5" cy="338.1" r="1.9"/><circle cx="184.2" cy="338" r="1.9"/><circle cx="184.9" cy="337.9" r="1.9"/><circle cx="185.5" cy="338" r="1.9"/><circle cx="186.2" cy="338.1" r="1.9"/><circle cx="186.9" cy="338.4" r="1.9"/><circle cx="187.5" cy="338.7" r="1.9"/><circle cx="188.2" cy="339" r="1.9"/><circle cx="188.9" cy="339.4" r="1.9"/><circle cx="189.5" cy="339.7" r="1.9"/><circle cx="190.2" cy="339.9" r="1.9"/><circle cx="190.9" cy="340.1" r="1.9"/><circle cx="191.5" cy="340.2" r="1.9"/><circle cx="192.2" cy="340.1" r="1.9"/><circle cx="192.9" cy="339.9" r="1.9"/><circle cx="193.5" cy="339.6" r="1.9"/><circle cx="194.2" cy="339.3" r="1.9"/><circle cx="194.9" cy="338.8" r="1.9"/><circle cx="195.5" cy="338.4" r="1.9"/><circle cx="196.2" cy="338" r="1.9"/><circle cx="196.9" cy="337.6" r="1.9"/><circle cx="197.5" cy="337.4" r="1.9"/><circle cx="198.2" cy="337.2" r="1.9"/><circle cx="198.9" cy="337.2" r="1.9"/><circle cx="199.5" cy="337.4" r="1.9"/><circle cx="200.2" cy="337.7" r="1.9"/><circle cx="200.8" cy="338.1" r="1.9"/><circle cx="201.5" cy="338.6" r="1.9"/><circle cx="202.2" cy="339.2" r="1.9"/><circle cx="202.8" cy="339.7" r="1.9"/><circle cx="203.5" cy="340.2" r="1.9"/><circle cx="204.2" cy="340.6" r="1.9"/><circle cx="204.8" cy="340.9" r="1.9"/><circle cx="205.5" cy="341" r="1.9"/><circle cx="206.2" cy="340.9" r="1.9"/><circle cx="206.8" cy="340.5" r="1.9"/><circle cx="207.5" cy="339.9" r="1.9"/><circle cx="208.2" cy="339.1" r="1.9"/><circle cx="208.8" cy="338.2" r="1.9"/><circle cx="209.5" cy="337.3" r="1.9"/><circle cx="210.2" cy="336.4" r="1.9"/><circle cx="210.8" cy="335.7" r="1.9"/><circle cx="211.5" cy="335.1" r="1.9"/><circle cx="212.2" cy="334.9" r="1.9"/><circle cx="212.8" cy="334.9" r="1.9"/><circle cx="213.5" cy="335.4" r="1.9"/><circle cx="214.2" cy="336.2" r="1.9"/><circle cx="214.8" cy="337.4" r="1.9"/><circle cx="215.5" cy="338.6" r="1.9"/><circle cx="216.2" cy="339.9" r="1.9"/><circle cx="216.8" cy="340.9" r="1.9"/><circle cx="217.5" cy="341.6" r="1.9"/><circle cx="218.2" cy="341.9" r="1.9"/><circle cx="218.8" cy="341.9" r="1.9"/></g>
<g fill="#1c2c14"><circle cx="59.4" cy="358.3" r="2.45"/><circle cx="61.4" cy="226.7" r="2.45"/><circle cx="61.8" cy="249.4" r="2.45"/><circle cx="62.4" cy="313.5" r="2.45"/><circle cx="62.7" cy="338" r="2.45"/><circle cx="63" cy="340.4" r="2.45"/><circle cx="63.7" cy="341.8" r="2.45"/><circle cx="64.3" cy="342.1" r="2.45"/><circle cx="65" cy="342.1" r="2.45"/><circle cx="65.7" cy="342.1" r="2.45"/><circle cx="66.3" cy="342.1" r="2.45"/><circle cx="67" cy="342.1" r="2.45"/><circle cx="67.6" cy="342.1" r="2.45"/><circle cx="68.3" cy="342.1" r="2.45"/><circle cx="69" cy="342.1" r="2.45"/><circle cx="69.6" cy="342.1" r="2.45"/><circle cx="70.3" cy="342.1" r="2.45"/><circle cx="71" cy="342.1" r="2.45"/><circle cx="71.6" cy="342.1" r="2.45"/><circle cx="72.3" cy="342.1" r="2.45"/><circle cx="73" cy="342.1" r="2.45"/><circle cx="73.6" cy="336.7" r="2.45"/><circle cx="74.3" cy="321.8" r="2.45"/><circle cx="75" cy="308.2" r="2.45"/><circle cx="75.6" cy="305.9" r="2.45"/><circle cx="76.3" cy="316.5" r="2.45"/><circle cx="77" cy="332.3" r="2.45"/><circle cx="77.6" cy="341.7" r="2.45"/><circle cx="78.3" cy="342.1" r="2.45"/><circle cx="79" cy="342.1" r="2.45"/><circle cx="79.6" cy="342.1" r="2.45"/><circle cx="80.3" cy="342.1" r="2.45"/><circle cx="81" cy="342.1" r="2.45"/><circle cx="81.6" cy="342.1" r="2.45"/><circle cx="82.3" cy="342.1" r="2.45"/><circle cx="83" cy="342.1" r="2.45"/><circle cx="83.6" cy="342.1" r="2.45"/><circle cx="84.3" cy="342.1" r="2.45"/><circle cx="85" cy="342.1" r="2.45"/><circle cx="85.6" cy="342.1" r="2.45"/><circle cx="86.3" cy="341.9" r="2.45"/><circle cx="87" cy="339.1" r="2.45"/><circle cx="87.6" cy="334.2" r="2.45"/><circle cx="88.3" cy="329" r="2.45"/><circle cx="89" cy="325.7" r="2.45"/><circle cx="89.6" cy="325.4" r="2.45"/><circle cx="90.3" cy="328" r="2.45"/><circle cx="91" cy="332.5" r="2.45"/><circle cx="91.6" cy="337.3" r="2.45"/><circle cx="92.3" cy="340.9" r="2.45"/><circle cx="93" cy="342" r="2.45"/><circle cx="93.6" cy="342" r="2.45"/><circle cx="94.3" cy="342" r="2.45"/><circle cx="95" cy="342" r="2.45"/><circle cx="95.6" cy="342" r="2.45"/><circle cx="96.3" cy="341.9" r="2.45"/><circle cx="97" cy="341.9" r="2.45"/><circle cx="97.6" cy="341.9" r="2.45"/><circle cx="219.5" cy="341.9" r="2.45"/><circle cx="220.2" cy="341.9" r="2.45"/><circle cx="220.8" cy="342" r="2.45"/><circle cx="221.5" cy="342" r="2.45"/><circle cx="222.2" cy="342" r="2.45"/><circle cx="222.8" cy="342" r="2.45"/><circle cx="223.5" cy="341.7" r="2.45"/><circle cx="224.2" cy="339.8" r="2.45"/><circle cx="224.8" cy="336.6" r="2.45"/><circle cx="225.5" cy="333.4" r="2.45"/><circle cx="226.2" cy="331.1" r="2.45"/><circle cx="226.8" cy="330.5" r="2.45"/><circle cx="227.5" cy="331.9" r="2.45"/><circle cx="228.2" cy="334.8" r="2.45"/><circle cx="228.8" cy="338.1" r="2.45"/><circle cx="229.5" cy="340.9" r="2.45"/><circle cx="230.2" cy="342.1" r="2.45"/><circle cx="230.8" cy="342.1" r="2.45"/><circle cx="231.5" cy="342.1" r="2.45"/><circle cx="232.2" cy="342.1" r="2.45"/><circle cx="232.8" cy="342.1" r="2.45"/><circle cx="233.5" cy="342.1" r="2.45"/><circle cx="234.1" cy="342.1" r="2.45"/><circle cx="234.8" cy="342.1" r="2.45"/><circle cx="235.5" cy="342.1" r="2.45"/><circle cx="236.1" cy="342.1" r="2.45"/><circle cx="236.8" cy="342.1" r="2.45"/><circle cx="237.5" cy="342.1" r="2.45"/><circle cx="238.1" cy="341.5" r="2.45"/><circle cx="238.8" cy="334" r="2.45"/><circle cx="239.5" cy="322.2" r="2.45"/><circle cx="240.1" cy="313.9" r="2.45"/><circle cx="240.8" cy="314.4" r="2.45"/><circle cx="241.5" cy="323.5" r="2.45"/><circle cx="242.1" cy="335.2" r="2.45"/><circle cx="242.8" cy="341.8" r="2.45"/><circle cx="243.5" cy="342.1" r="2.45"/><circle cx="244.1" cy="342.1" r="2.45"/><circle cx="244.8" cy="342.1" r="2.45"/><circle cx="245.5" cy="342.1" r="2.45"/><circle cx="246.1" cy="342.1" r="2.45"/><circle cx="246.8" cy="342.1" r="2.45"/><circle cx="247.5" cy="342.1" r="2.45"/><circle cx="248.1" cy="342.1" r="2.45"/><circle cx="248.8" cy="342.1" r="2.45"/><circle cx="249.5" cy="342.1" r="2.45"/><circle cx="250.1" cy="342.1" r="2.45"/><circle cx="250.8" cy="342.1" r="2.45"/><circle cx="251.5" cy="342.1" r="2.45"/><circle cx="252.1" cy="340.8" r="2.45"/><circle cx="253" cy="336.8" r="2.45"/><circle cx="253.5" cy="300.3" r="2.45"/><circle cx="254.1" cy="230.3" r="2.45"/><circle cx="256.4" cy="358.3" r="2.45"/></g>
<g fill="#dcedc8"><circle cx="59.4" cy="358.3" r="1.2"/><circle cx="61.4" cy="226.7" r="1.2"/><circle cx="61.8" cy="249.4" r="1.2"/><circle cx="62.4" cy="313.5" r="1.2"/><circle cx="62.7" cy="338" r="1.2"/><circle cx="63" cy="340.4" r="1.2"/><circle cx="63.7" cy="341.8" r="1.2"/><circle cx="64.3" cy="342.1" r="1.2"/><circle cx="65" cy="342.1" r="1.2"/><circle cx="65.7" cy="342.1" r="1.2"/><circle cx="66.3" cy="342.1" r="1.2"/><circle cx="67" cy="342.1" r="1.2"/><circle cx="67.6" cy="342.1" r="1.2"/><circle cx="68.3" cy="342.1" r="1.2"/><circle cx="69" cy="342.1" r="1.2"/><circle cx="69.6" cy="342.1" r="1.2"/><circle cx="70.3" cy="342.1" r="1.2"/><circle cx="71" cy="342.1" r="1.2"/><circle cx="71.6" cy="342.1" r="1.2"/><circle cx="72.3" cy="342.1" r="1.2"/><circle cx="73" cy="342.1" r="1.2"/><circle cx="73.6" cy="336.7" r="1.2"/><circle cx="74.3" cy="321.8" r="1.2"/><circle cx="75" cy="308.2" r="1.2"/><circle cx="75.6" cy="305.9" r="1.2"/><circle cx="76.3" cy="316.5" r="1.2"/><circle cx="77" cy="332.3" r="1.2"/><circle cx="77.6" cy="341.7" r="1.2"/><circle cx="78.3" cy="342.1" r="1.2"/><circle cx="79" cy="342.1" r="1.2"/><circle cx="79.6" cy="342.1" r="1.2"/><circle cx="80.3" cy="342.1" r="1.2"/><circle cx="81" cy="342.1" r="1.2"/><circle cx="81.6" cy="342.1" r="1.2"/><circle cx="82.3" cy="342.1" r="1.2"/><circle cx="83" cy="342.1" r="1.2"/><circle cx="83.6" cy="342.1" r="1.2"/><circle cx="84.3" cy="342.1" r="1.2"/><circle cx="85" cy="342.1" r="1.2"/><circle cx="85.6" cy="342.1" r="1.2"/><circle cx="86.3" cy="341.9" r="1.2"/><circle cx="87" cy="339.1" r="1.2"/><circle cx="87.6" cy="334.2" r="1.2"/><circle cx="88.3" cy="329" r="1.2"/><circle cx="89" cy="325.7" r="1.2"/><circle cx="89.6" cy="325.4" r="1.2"/><circle cx="90.3" cy="328" r="1.2"/><circle cx="91" cy="332.5" r="1.2"/><circle cx="91.6" cy="337.3" r="1.2"/><circle cx="92.3" cy="340.9" r="1.2"/><circle cx="93" cy="342" r="1.2"/><circle cx="93.6" cy="342" r="1.2"/><circle cx="94.3" cy="342" r="1.2"/><circle cx="95" cy="342" r="1.2"/><circle cx="95.6" cy="342" r="1.2"/><circle cx="96.3" cy="341.9" r="1.2"/><circle cx="97" cy="341.9" r="1.2"/><circle cx="97.6" cy="341.9" r="1.2"/><circle cx="219.5" cy="341.9" r="1.2"/><circle cx="220.2" cy="341.9" r="1.2"/><circle cx="220.8" cy="342" r="1.2"/><circle cx="221.5" cy="342" r="1.2"/><circle cx="222.2" cy="342" r="1.2"/><circle cx="222.8" cy="342" r="1.2"/><circle cx="223.5" cy="341.7" r="1.2"/><circle cx="224.2" cy="339.8" r="1.2"/><circle cx="224.8" cy="336.6" r="1.2"/><circle cx="225.5" cy="333.4" r="1.2"/><circle cx="226.2" cy="331.1" r="1.2"/><circle cx="226.8" cy="330.5" r="1.2"/><circle cx="227.5" cy="331.9" r="1.2"/><circle cx="228.2" cy="334.8" r="1.2"/><circle cx="228.8" cy="338.1" r="1.2"/><circle cx="229.5" cy="340.9" r="1.2"/><circle cx="230.2" cy="342.1" r="1.2"/><circle cx="230.8" cy="342.1" r="1.2"/><circle cx="231.5" cy="342.1" r="1.2"/><circle cx="232.2" cy="342.1" r="1.2"/><circle cx="232.8" cy="342.1" r="1.2"/><circle cx="233.5" cy="342.1" r="1.2"/><circle cx="234.1" cy="342.1" r="1.2"/><circle cx="234.8" cy="342.1" r="1.2"/><circle cx="235.5" cy="342.1" r="1.2"/><circle cx="236.1" cy="342.1" r="1.2"/><circle cx="236.8" cy="342.1" r="1.2"/><circle cx="237.5" cy="342.1" r="1.2"/><circle cx="238.1" cy="341.5" r="1.2"/><circle cx="238.8" cy="334" r="1.2"/><circle cx="239.5" cy="322.2" r="1.2"/><circle cx="240.1" cy="313.9" r="1.2"/><circle cx="240.8" cy="314.4" r="1.2"/><circle cx="241.5" cy="323.5" r="1.2"/><circle cx="242.1" cy="335.2" r="1.2"/><circle cx="242.8" cy="341.8" r="1.2"/><circle cx="243.5" cy="342.1" r="1.2"/><circle cx="244.1" cy="342.1" r="1.2"/><circle cx="244.8" cy="342.1" r="1.2"/><circle cx="245.5" cy="342.1" r="1.2"/><circle cx="246.1" cy="342.1" r="1.2"/><circle cx="246.8" cy="342.1" r="1.2"/><circle cx="247.5" cy="342.1" r="1.2"/><circle cx="248.1" cy="342.1" r="1.2"/><circle cx="248.8" cy="342.1" r="1.2"/><circle cx="249.5" cy="342.1" r="1.2"/><circle cx="250.1" cy="342.1" r="1.2"/><circle cx="250.8" cy="342.1" r="1.2"/><circle cx="251.5" cy="342.1" r="1.2"/><circle cx="252.1" cy="340.8" r="1.2"/><circle cx="253" cy="336.8" r="1.2"/><circle cx="253.5" cy="300.3" r="1.2"/><circle cx="254.1" cy="230.3" r="1.2"/><circle cx="256.4" cy="358.3" r="1.2"/></g>
<rect x="118.6" y="253.3" width="99.8" height="71" fill="#fff" stroke="#8a8a8a" stroke-width="0.8"/>
<line x1="118.6" y1="286.3" x2="218.4" y2="286.3" stroke="#707070" stroke-width="1"/>
<text x="116" y="255.5" font-family="Liberation Sans, Arial, sans-serif" font-size="5.6" fill="#222" text-anchor="end">400</text>
<text x="116" y="273.3" font-family="Liberation Sans, Arial, sans-serif" font-size="5.6" fill="#222" text-anchor="end">200</text>
<text x="116" y="290.8" font-family="Liberation Sans, Arial, sans-serif" font-size="5.6" fill="#222" text-anchor="end">0</text>
<text x="116" y="308.8" font-family="Liberation Sans, Arial, sans-serif" font-size="5.6" fill="#222" text-anchor="end">-200</text>
<text x="116" y="326.7" font-family="Liberation Sans, Arial, sans-serif" font-size="5.6" fill="#222" text-anchor="end">-400</text>
<text x="118.8" y="332.7" font-family="Liberation Sans, Arial, sans-serif" font-size="5.6" fill="#222" text-anchor="middle">-3</text>
<text x="135.2" y="332.7" font-family="Liberation Sans, Arial, sans-serif" font-size="5.6" fill="#222" text-anchor="middle">-2</text>
<text x="151.6" y="332.7" font-family="Liberation Sans, Arial, sans-serif" font-size="5.6" fill="#222" text-anchor="middle">-1</text>
<text x="168" y="332.7" font-family="Liberation Sans, Arial, sans-serif" font-size="5.6" fill="#222" text-anchor="middle">0</text>
<text x="184.4" y="332.7" font-family="Liberation Sans, Arial, sans-serif" font-size="5.6" fill="#222" text-anchor="middle">1</text>
<text x="200.8" y="332.7" font-family="Liberation Sans, Arial, sans-serif" font-size="5.6" fill="#222" text-anchor="middle">2</text>
<text x="217.2" y="332.7" font-family="Liberation Sans, Arial, sans-serif" font-size="5.6" fill="#222" text-anchor="middle">3</text>
<clipPath id="ci"><rect x="118.6" y="253.3" width="99.8" height="71"/></clipPath>
<g clip-path="url(#ci)"><polyline points="118.9,301.5 119.2,299.5 119.9,288.9 120.2,275 120.8,261.5 121.2,250.9 122.1,238.7 122.5,238.9 123.3,241.8 124.4,251.1 125.6,266.8 126.6,279.9 127.6,293.3 128.9,303.9 129.8,308.8 131.3,306.7 132.1,297.1 133.7,289.5 134.6,275.3 136.1,268.9 137.1,261.5 138.6,258.4 139.9,258 140.6,264.7 141.9,273.7 143.3,286.3 144.1,292.3 145.5,298.7 146.8,302 147.8,300.9 148.7,299 149.8,290.4 150.7,280.4 151.5,274.5 152.5,270.1 153.9,270.6 154.8,268.5 155.9,274.4 156.8,282.3 157.9,286.7 158.9,292.7 159.9,294.6 161.2,298.3 162,295.6 163.1,290.1 164.1,288.3 165.4,283.5 166.3,277.6 167.5,273.1 168.5,273.7 169.7,272.7 170.8,274.9 172.2,282.6 173.2,286.4 174.4,292.3 175.7,294.7 177.1,294.6 177.6,294.2 178.6,291.3 179.2,288.8 179.9,279.9 181,280.5 181.8,273.3 182.5,276.7 183.6,276.2 184.5,278.9 185.6,281.6 187,288.2 188.3,292.7 189.1,298 190.1,300.2 191.6,294.7 192.5,293.7 193.7,284.4 195,281 196.1,271.7 197.2,270 198,266 199.1,269.9 200.2,274.5 201.4,281.7 202,287.4 203.3,292.7 204.3,296.9 205.4,300.5 206.4,300.1 207.5,291.9 208.6,282.7 209.8,274.2 211.4,267.2 212.2,259.5 213.4,255.9 213.9,257.5 214.8,263.8 215.1,275 215.7,283.5 216.1,293.1 216.7,297.5 217.2,300.5" fill="none" stroke="#9ab88a" stroke-width="0.6"/>
<g fill="#36622a"><circle cx="118.9" cy="301.5" r="1.05"/><circle cx="119.2" cy="299.5" r="1.05"/><circle cx="119.9" cy="288.9" r="1.05"/><circle cx="120.2" cy="275" r="1.05"/><circle cx="120.8" cy="261.5" r="1.05"/><circle cx="121.2" cy="250.9" r="1.05"/><circle cx="122.1" cy="238.7" r="1.05"/><circle cx="122.5" cy="238.9" r="1.05"/><circle cx="123.3" cy="241.8" r="1.05"/><circle cx="124.4" cy="251.1" r="1.05"/><circle cx="125.6" cy="266.8" r="1.05"/><circle cx="126.6" cy="279.9" r="1.05"/><circle cx="127.6" cy="293.3" r="1.05"/><circle cx="128.9" cy="303.9" r="1.05"/><circle cx="129.8" cy="308.8" r="1.05"/><circle cx="131.3" cy="306.7" r="1.05"/><circle cx="132.1" cy="297.1" r="1.05"/><circle cx="133.7" cy="289.5" r="1.05"/><circle cx="134.6" cy="275.3" r="1.05"/><circle cx="136.1" cy="268.9" r="1.05"/><circle cx="137.1" cy="261.5" r="1.05"/><circle cx="138.6" cy="258.4" r="1.05"/><circle cx="139.9" cy="258" r="1.05"/><circle cx="140.6" cy="264.7" r="1.05"/><circle cx="141.9" cy="273.7" r="1.05"/><circle cx="143.3" cy="286.3" r="1.05"/><circle cx="144.1" cy="292.3" r="1.05"/><circle cx="145.5" cy="298.7" r="1.05"/><circle cx="146.8" cy="302" r="1.05"/><circle cx="147.8" cy="300.9" r="1.05"/><circle cx="148.7" cy="299" r="1.05"/><circle cx="149.8" cy="290.4" r="1.05"/><circle cx="150.7" cy="280.4" r="1.05"/><circle cx="151.5" cy="274.5" r="1.05"/><circle cx="152.5" cy="270.1" r="1.05"/><circle cx="153.9" cy="270.6" r="1.05"/><circle cx="154.8" cy="268.5" r="1.05"/><circle cx="155.9" cy="274.4" r="1.05"/><circle cx="156.8" cy="282.3" r="1.05"/><circle cx="157.9" cy="286.7" r="1.05"/><circle cx="158.9" cy="292.7" r="1.05"/><circle cx="159.9" cy="294.6" r="1.05"/><circle cx="161.2" cy="298.3" r="1.05"/><circle cx="162" cy="295.6" r="1.05"/><circle cx="163.1" cy="290.1" r="1.05"/><circle cx="164.1" cy="288.3" r="1.05"/><circle cx="165.4" cy="283.5" r="1.05"/><circle cx="166.3" cy="277.6" r="1.05"/><circle cx="167.5" cy="273.1" r="1.05"/><circle cx="168.5" cy="273.7" r="1.05"/><circle cx="169.7" cy="272.7" r="1.05"/><circle cx="170.8" cy="274.9" r="1.05"/><circle cx="172.2" cy="282.6" r="1.05"/><circle cx="173.2" cy="286.4" r="1.05"/><circle cx="174.4" cy="292.3" r="1.05"/><circle cx="175.7" cy="294.7" r="1.05"/><circle cx="177.1" cy="294.6" r="1.05"/><circle cx="177.6" cy="294.2" r="1.05"/><circle cx="178.6" cy="291.3" r="1.05"/><circle cx="179.2" cy="288.8" r="1.05"/><circle cx="179.9" cy="279.9" r="1.05"/><circle cx="181" cy="280.5" r="1.05"/><circle cx="181.8" cy="273.3" r="1.05"/><circle cx="182.5" cy="276.7" r="1.05"/><circle cx="183.6" cy="276.2" r="1.05"/><circle cx="184.5" cy="278.9" r="1.05"/><circle cx="185.6" cy="281.6" r="1.05"/><circle cx="187" cy="288.2" r="1.05"/><circle cx="188.3" cy="292.7" r="1.05"/><circle cx="189.1" cy="298" r="1.05"/><circle cx="190.1" cy="300.2" r="1.05"/><circle cx="191.6" cy="294.7" r="1.05"/><circle cx="192.5" cy="293.7" r="1.05"/><circle cx="193.7" cy="284.4" r="1.05"/><circle cx="195" cy="281" r="1.05"/><circle cx="196.1" cy="271.7" r="1.05"/><circle cx="197.2" cy="270" r="1.05"/><circle cx="198" cy="266" r="1.05"/><circle cx="199.1" cy="269.9" r="1.05"/><circle cx="200.2" cy="274.5" r="1.05"/><circle cx="201.4" cy="281.7" r="1.05"/><circle cx="202" cy="287.4" r="1.05"/><circle cx="203.3" cy="292.7" r="1.05"/><circle cx="204.3" cy="296.9" r="1.05"/><circle cx="205.4" cy="300.5" r="1.05"/><circle cx="206.4" cy="300.1" r="1.05"/><circle cx="207.5" cy="291.9" r="1.05"/><circle cx="208.6" cy="282.7" r="1.05"/><circle cx="209.8" cy="274.2" r="1.05"/><circle cx="211.4" cy="267.2" r="1.05"/><circle cx="212.2" cy="259.5" r="1.05"/><circle cx="213.4" cy="255.9" r="1.05"/><circle cx="213.9" cy="257.5" r="1.05"/><circle cx="214.8" cy="263.8" r="1.05"/><circle cx="215.1" cy="275" r="1.05"/><circle cx="215.7" cy="283.5" r="1.05"/><circle cx="216.1" cy="293.1" r="1.05"/><circle cx="216.7" cy="297.5" r="1.05"/><circle cx="217.2" cy="300.5" r="1.05"/></g></g>
<line x1="137.4" y1="228.8" x2="161.6" y2="228.8" stroke="#6a6a6a" stroke-width="1.2"/>
<text x="167" y="231.5" font-family="Liberation Sans, Arial, sans-serif" font-size="10.5" font-style="italic" fill="#111">P<tspan font-size="7.5" dy="3">N</tspan></text>
<line x1="137.4" y1="245.3" x2="161.6" y2="245.3" stroke="#a9d08e" stroke-width="1.2"/>
<circle cx="149.5" cy="245.3" r="1.8" fill="#c9e3a6" stroke="#2b4a1c" stroke-width="0.8"/>
<text x="167" y="248" font-family="Liberation Sans, Arial, sans-serif" font-size="10.5" font-style="italic" fill="#111">P<tspan font-size="7.5" dy="3">T</tspan></text>
<rect x="265" y="219.5" width="53.4" height="156.1" fill="#fff" stroke="#a4a8bc" stroke-width="1"/>
<rect x="266.1" y="269" width="8.3" height="54" fill="#6fb3bb"/>
<line x1="266.9" y1="269" x2="266.9" y2="323" stroke="#3f8a94" stroke-width="0.6"/>
<line x1="268.6" y1="269" x2="268.6" y2="323" stroke="#a8dade" stroke-width="0.6"/>
<line x1="270.3" y1="269" x2="270.3" y2="323" stroke="#3f8a94" stroke-width="0.6"/>
<line x1="272" y1="269" x2="272" y2="323" stroke="#a8dade" stroke-width="0.6"/>
<line x1="273.7" y1="269" x2="273.7" y2="323" stroke="#3f8a94" stroke-width="0.6"/>
<rect x="310.4" y="269" width="8.3" height="54" fill="#6fb3bb"/>
<line x1="311.2" y1="269" x2="311.2" y2="323" stroke="#3f8a94" stroke-width="0.6"/>
<line x1="312.9" y1="269" x2="312.9" y2="323" stroke="#a8dade" stroke-width="0.6"/>
<line x1="314.6" y1="269" x2="314.6" y2="323" stroke="#3f8a94" stroke-width="0.6"/>
<line x1="316.3" y1="269" x2="316.3" y2="323" stroke="#a8dade" stroke-width="0.6"/>
<line x1="318" y1="269" x2="318" y2="323" stroke="#3f8a94" stroke-width="0.6"/>
<g fill="#cb989b" stroke="#7c4c54" stroke-width="0.5"><circle cx="286.3" cy="253.4" r="1.45"/><circle cx="289" cy="252.6" r="1.45"/><circle cx="291.6" cy="252.8" r="1.45"/><circle cx="294.7" cy="253" r="1.45"/><circle cx="296.9" cy="252.9" r="1.45"/><circle cx="281.8" cy="255.1" r="1.45"/><circle cx="284.6" cy="255.1" r="1.45"/><circle cx="286.9" cy="255.4" r="1.45"/><circle cx="290.1" cy="255.6" r="1.45"/><circle cx="292.6" cy="255.9" r="1.45"/><circle cx="295.3" cy="255.7" r="1.45"/><circle cx="298.2" cy="255.9" r="1.45"/><circle cx="301.5" cy="255.1" r="1.45"/><circle cx="303.7" cy="255.2" r="1.45"/><circle cx="275" cy="257.6" r="1.45"/><circle cx="277.7" cy="258.3" r="1.45"/><circle cx="283.1" cy="258.2" r="1.45"/><circle cx="285.6" cy="258.3" r="1.45"/><circle cx="288.9" cy="257.7" r="1.45"/><circle cx="291.2" cy="257.9" r="1.45"/><circle cx="294.6" cy="258" r="1.45"/><circle cx="296.8" cy="257.5" r="1.45"/><circle cx="299.5" cy="258.2" r="1.45"/><circle cx="308.6" cy="257.9" r="1.45"/><circle cx="273.6" cy="260.5" r="1.45"/><circle cx="276.1" cy="260" r="1.45"/><circle cx="278.8" cy="260.7" r="1.45"/><circle cx="281.8" cy="260" r="1.45"/><circle cx="284.3" cy="260.1" r="1.45"/><circle cx="287.7" cy="260.4" r="1.45"/><circle cx="289.7" cy="260.1" r="1.45"/><circle cx="292.8" cy="260.3" r="1.45"/><circle cx="295.8" cy="260.2" r="1.45"/><circle cx="298.4" cy="259.9" r="1.45"/><circle cx="301.4" cy="260.2" r="1.45"/><circle cx="303.7" cy="260.3" r="1.45"/><circle cx="312.5" cy="260.1" r="1.45"/><circle cx="269.4" cy="263" r="1.45"/><circle cx="272" cy="262.9" r="1.45"/><circle cx="274.6" cy="262.6" r="1.45"/><circle cx="277.8" cy="263.1" r="1.45"/><circle cx="280.7" cy="263" r="1.45"/><circle cx="282.9" cy="263" r="1.45"/><circle cx="286.1" cy="262.8" r="1.45"/><circle cx="288.8" cy="262.7" r="1.45"/><circle cx="291.5" cy="262.7" r="1.45"/><circle cx="293.9" cy="262.7" r="1.45"/><circle cx="296.9" cy="263.2" r="1.45"/><circle cx="299.9" cy="262.7" r="1.45"/><circle cx="302.5" cy="262.6" r="1.45"/><circle cx="305.4" cy="262.5" r="1.45"/><circle cx="307.9" cy="263.1" r="1.45"/><circle cx="311.1" cy="262.8" r="1.45"/><circle cx="314" cy="262.6" r="1.45"/><circle cx="267.5" cy="265.1" r="1.45"/><circle cx="270.7" cy="265.3" r="1.45"/><circle cx="273.7" cy="265.1" r="1.45"/><circle cx="276.5" cy="265.3" r="1.45"/><circle cx="278.5" cy="265" r="1.45"/><circle cx="281.8" cy="265.7" r="1.45"/><circle cx="284.4" cy="265.5" r="1.45"/><circle cx="287.2" cy="265.6" r="1.45"/><circle cx="289.7" cy="265.2" r="1.45"/><circle cx="293.3" cy="265" r="1.45"/><circle cx="295.5" cy="264.8" r="1.45"/><circle cx="298.2" cy="265" r="1.45"/><circle cx="301.5" cy="265" r="1.45"/><circle cx="304" cy="265" r="1.45"/><circle cx="307" cy="265.6" r="1.45"/><circle cx="309.8" cy="265" r="1.45"/><circle cx="312.7" cy="265.7" r="1.45"/><circle cx="315.4" cy="264.9" r="1.45"/><circle cx="268.8" cy="267.7" r="1.45"/><circle cx="272.2" cy="267.8" r="1.45"/><circle cx="275.1" cy="267.4" r="1.45"/><circle cx="277.3" cy="267.9" r="1.45"/><circle cx="280.4" cy="267.6" r="1.45"/><circle cx="283.3" cy="267.6" r="1.45"/><circle cx="285.5" cy="267.6" r="1.45"/><circle cx="288.3" cy="267.8" r="1.45"/><circle cx="291.4" cy="267.7" r="1.45"/><circle cx="294.4" cy="267.5" r="1.45"/><circle cx="297.1" cy="267.3" r="1.45"/><circle cx="300.3" cy="267.8" r="1.45"/><circle cx="303.1" cy="267.3" r="1.45"/><circle cx="305.6" cy="267.9" r="1.45"/><circle cx="308.1" cy="267.3" r="1.45"/><circle cx="310.8" cy="267.4" r="1.45"/><circle cx="314.1" cy="267.3" r="1.45"/><circle cx="317" cy="267.6" r="1.45"/><circle cx="276.3" cy="269.9" r="1.45"/><circle cx="279.1" cy="270.4" r="1.45"/><circle cx="281.9" cy="270" r="1.45"/><circle cx="284.7" cy="270.6" r="1.45"/><circle cx="287.3" cy="270" r="1.45"/><circle cx="290.1" cy="270.5" r="1.45"/><circle cx="292.6" cy="269.7" r="1.45"/><circle cx="295.7" cy="270.3" r="1.45"/><circle cx="298.7" cy="270" r="1.45"/><circle cx="301.7" cy="269.9" r="1.45"/><circle cx="304.3" cy="269.8" r="1.45"/><circle cx="306.5" cy="269.8" r="1.45"/><circle cx="309.3" cy="270.2" r="1.45"/><circle cx="275.1" cy="272.6" r="1.45"/><circle cx="277.6" cy="272.5" r="1.45"/><circle cx="280.6" cy="272.6" r="1.45"/><circle cx="282.9" cy="273" r="1.45"/><circle cx="285.5" cy="272.8" r="1.45"/><circle cx="288.3" cy="272.7" r="1.45"/><circle cx="291.4" cy="272.9" r="1.45"/><circle cx="293.9" cy="272.7" r="1.45"/><circle cx="297" cy="273" r="1.45"/><circle cx="300.3" cy="272.7" r="1.45"/><circle cx="302.5" cy="272.4" r="1.45"/><circle cx="305.3" cy="272.5" r="1.45"/><circle cx="308.1" cy="272.3" r="1.45"/><circle cx="275.9" cy="274.9" r="1.45"/><circle cx="278.9" cy="275.4" r="1.45"/><circle cx="281.4" cy="275.2" r="1.45"/><circle cx="284.6" cy="275" r="1.45"/><circle cx="287.4" cy="275.4" r="1.45"/><circle cx="289.8" cy="275.4" r="1.45"/><circle cx="292.8" cy="275.3" r="1.45"/><circle cx="296" cy="274.8" r="1.45"/><circle cx="298.8" cy="275.5" r="1.45"/><circle cx="301.1" cy="274.6" r="1.45"/><circle cx="303.8" cy="275.5" r="1.45"/><circle cx="306.5" cy="275.4" r="1.45"/><circle cx="309.4" cy="275.3" r="1.45"/><circle cx="274.9" cy="277.1" r="1.45"/><circle cx="277.5" cy="277.3" r="1.45"/><circle cx="280.2" cy="277.1" r="1.45"/><circle cx="282.7" cy="277.9" r="1.45"/><circle cx="285.7" cy="277.8" r="1.45"/><circle cx="288.4" cy="277.5" r="1.45"/><circle cx="291.2" cy="277.4" r="1.45"/><circle cx="294" cy="277.7" r="1.45"/><circle cx="296.8" cy="277.7" r="1.45"/><circle cx="299.9" cy="277.2" r="1.45"/><circle cx="302.6" cy="277.5" r="1.45"/><circle cx="305.9" cy="277.4" r="1.45"/><circle cx="308" cy="277.9" r="1.45"/><circle cx="276.3" cy="280.1" r="1.45"/><circle cx="278.9" cy="280" r="1.45"/><circle cx="281.9" cy="280.4" r="1.45"/><circle cx="284.8" cy="280.1" r="1.45"/><circle cx="287.2" cy="279.8" r="1.45"/><circle cx="290" cy="280.4" r="1.45"/><circle cx="292.8" cy="279.8" r="1.45"/><circle cx="295.6" cy="279.6" r="1.45"/><circle cx="298.9" cy="279.5" r="1.45"/><circle cx="301.4" cy="280.3" r="1.45"/><circle cx="303.9" cy="280" r="1.45"/><circle cx="306.8" cy="279.7" r="1.45"/><circle cx="309.4" cy="279.6" r="1.45"/><circle cx="275" cy="282.4" r="1.45"/><circle cx="277.6" cy="282.8" r="1.45"/><circle cx="280.1" cy="282.5" r="1.45"/><circle cx="283.3" cy="282.3" r="1.45"/><circle cx="286.1" cy="282.3" r="1.45"/><circle cx="288.7" cy="282.5" r="1.45"/><circle cx="291.7" cy="282.2" r="1.45"/><circle cx="294.4" cy="282.4" r="1.45"/><circle cx="296.9" cy="282.5" r="1.45"/><circle cx="299.7" cy="282.8" r="1.45"/><circle cx="302.7" cy="282.6" r="1.45"/><circle cx="305.5" cy="282.4" r="1.45"/><circle cx="308" cy="282.1" r="1.45"/><circle cx="276.4" cy="284.4" r="1.45"/><circle cx="278.8" cy="285.1" r="1.45"/><circle cx="282" cy="284.5" r="1.45"/><circle cx="284.2" cy="284.6" r="1.45"/><circle cx="286.9" cy="284.7" r="1.45"/><circle cx="290.4" cy="284.9" r="1.45"/><circle cx="292.9" cy="284.5" r="1.45"/><circle cx="295.6" cy="285.3" r="1.45"/><circle cx="298.7" cy="284.8" r="1.45"/><circle cx="301.3" cy="285.1" r="1.45"/><circle cx="304.3" cy="284.5" r="1.45"/><circle cx="307.1" cy="284.7" r="1.45"/><circle cx="309.7" cy="284.6" r="1.45"/><circle cx="275" cy="286.9" r="1.45"/><circle cx="277.6" cy="287.6" r="1.45"/><circle cx="280" cy="287.2" r="1.45"/><circle cx="283.4" cy="287.4" r="1.45"/><circle cx="285.8" cy="286.9" r="1.45"/><circle cx="288.6" cy="287.2" r="1.45"/><circle cx="291.7" cy="287.1" r="1.45"/><circle cx="294.2" cy="287.4" r="1.45"/><circle cx="297.4" cy="287.2" r="1.45"/><circle cx="299.8" cy="287.4" r="1.45"/><circle cx="303.1" cy="287" r="1.45"/><circle cx="305.9" cy="287.5" r="1.45"/><circle cx="308.2" cy="287.4" r="1.45"/><circle cx="276.4" cy="289.7" r="1.45"/><circle cx="278.9" cy="290.1" r="1.45"/><circle cx="281.6" cy="289.7" r="1.45"/><circle cx="284.5" cy="290" r="1.45"/><circle cx="287.5" cy="290" r="1.45"/><circle cx="290" cy="289.3" r="1.45"/><circle cx="293.1" cy="289.8" r="1.45"/><circle cx="295.9" cy="290" r="1.45"/><circle cx="298.2" cy="289.5" r="1.45"/><circle cx="300.9" cy="290" r="1.45"/><circle cx="303.7" cy="289.4" r="1.45"/><circle cx="307.1" cy="289.8" r="1.45"/><circle cx="309.3" cy="289.9" r="1.45"/><circle cx="277.3" cy="292" r="1.45"/><circle cx="280.1" cy="292" r="1.45"/><circle cx="283.4" cy="292.3" r="1.45"/><circle cx="285.9" cy="292.1" r="1.45"/><circle cx="288.3" cy="292" r="1.45"/><circle cx="291.8" cy="292.5" r="1.45"/><circle cx="294.6" cy="292" r="1.45"/><circle cx="296.8" cy="291.8" r="1.45"/><circle cx="299.9" cy="292.1" r="1.45"/><circle cx="302.7" cy="292.2" r="1.45"/><circle cx="305.6" cy="292.1" r="1.45"/><circle cx="308.6" cy="291.9" r="1.45"/><circle cx="276.4" cy="294.7" r="1.45"/><circle cx="278.9" cy="295" r="1.45"/><circle cx="281.7" cy="295" r="1.45"/><circle cx="284.1" cy="294.6" r="1.45"/><circle cx="287.4" cy="294.2" r="1.45"/><circle cx="290.4" cy="294.3" r="1.45"/><circle cx="293" cy="294.4" r="1.45"/><circle cx="296.1" cy="294.7" r="1.45"/><circle cx="298.8" cy="294.6" r="1.45"/><circle cx="301.5" cy="294.8" r="1.45"/><circle cx="303.9" cy="294.4" r="1.45"/><circle cx="307.2" cy="294.3" r="1.45"/><circle cx="310.1" cy="294.4" r="1.45"/><circle cx="277.3" cy="296.9" r="1.45"/><circle cx="280.4" cy="296.9" r="1.45"/><circle cx="283.2" cy="296.8" r="1.45"/><circle cx="286.3" cy="296.9" r="1.45"/><circle cx="289" cy="296.8" r="1.45"/><circle cx="291.8" cy="297.5" r="1.45"/><circle cx="294.2" cy="296.7" r="1.45"/><circle cx="297" cy="297.2" r="1.45"/><circle cx="299.7" cy="297.1" r="1.45"/><circle cx="302.3" cy="297.1" r="1.45"/><circle cx="305.7" cy="297" r="1.45"/><circle cx="308.5" cy="296.8" r="1.45"/><circle cx="276.1" cy="299.9" r="1.45"/><circle cx="279" cy="299.6" r="1.45"/><circle cx="281.3" cy="299.2" r="1.45"/><circle cx="284.3" cy="299.9" r="1.45"/><circle cx="287.6" cy="299.3" r="1.45"/><circle cx="290.5" cy="299.1" r="1.45"/><circle cx="293" cy="300" r="1.45"/><circle cx="295.6" cy="299.9" r="1.45"/><circle cx="298.6" cy="299.1" r="1.45"/><circle cx="301.1" cy="299.5" r="1.45"/><circle cx="303.9" cy="299.8" r="1.45"/><circle cx="306.6" cy="299.8" r="1.45"/><circle cx="309.5" cy="299.2" r="1.45"/><circle cx="274.6" cy="301.9" r="1.45"/><circle cx="277.6" cy="301.7" r="1.45"/><circle cx="280" cy="302.4" r="1.45"/><circle cx="282.9" cy="302.3" r="1.45"/><circle cx="286.2" cy="302" r="1.45"/><circle cx="288.4" cy="301.6" r="1.45"/><circle cx="291.8" cy="301.7" r="1.45"/><circle cx="294.3" cy="302" r="1.45"/><circle cx="296.8" cy="302" r="1.45"/><circle cx="299.6" cy="302" r="1.45"/><circle cx="302.7" cy="301.9" r="1.45"/><circle cx="305.2" cy="301.9" r="1.45"/><circle cx="308" cy="301.7" r="1.45"/><circle cx="275.8" cy="304.2" r="1.45"/><circle cx="278.5" cy="304.4" r="1.45"/><circle cx="281.7" cy="304.3" r="1.45"/><circle cx="284.9" cy="304.1" r="1.45"/><circle cx="287.4" cy="304.2" r="1.45"/><circle cx="290.2" cy="304.7" r="1.45"/><circle cx="293.1" cy="304.1" r="1.45"/><circle cx="295.5" cy="304.5" r="1.45"/><circle cx="298.9" cy="304" r="1.45"/><circle cx="301.4" cy="304.6" r="1.45"/><circle cx="304.4" cy="304.3" r="1.45"/><circle cx="307.2" cy="304.4" r="1.45"/><circle cx="310.1" cy="304" r="1.45"/><circle cx="274.5" cy="307.3" r="1.45"/><circle cx="277.9" cy="307.2" r="1.45"/><circle cx="280.3" cy="306.9" r="1.45"/><circle cx="283.4" cy="307.3" r="1.45"/><circle cx="286.1" cy="307" r="1.45"/><circle cx="288.4" cy="307" r="1.45"/><circle cx="291.8" cy="307.2" r="1.45"/><circle cx="293.9" cy="307.1" r="1.45"/><circle cx="297" cy="306.6" r="1.45"/><circle cx="300.3" cy="307.1" r="1.45"/><circle cx="302.9" cy="306.6" r="1.45"/><circle cx="305.8" cy="307.3" r="1.45"/><circle cx="308.7" cy="307.1" r="1.45"/><circle cx="276.5" cy="309.6" r="1.45"/><circle cx="278.7" cy="309.7" r="1.45"/><circle cx="281.5" cy="309.1" r="1.45"/><circle cx="284.5" cy="309.1" r="1.45"/><circle cx="287.3" cy="309.7" r="1.45"/><circle cx="290.3" cy="309.5" r="1.45"/><circle cx="292.8" cy="309.6" r="1.45"/><circle cx="296" cy="309.5" r="1.45"/><circle cx="298.9" cy="309.6" r="1.45"/><circle cx="301.2" cy="309" r="1.45"/><circle cx="304.2" cy="309.7" r="1.45"/><circle cx="306.8" cy="309.4" r="1.45"/><circle cx="310" cy="309.6" r="1.45"/><circle cx="274.8" cy="311.6" r="1.45"/><circle cx="277.1" cy="311.6" r="1.45"/><circle cx="280.5" cy="311.7" r="1.45"/><circle cx="283.2" cy="312.1" r="1.45"/><circle cx="285.6" cy="312" r="1.45"/><circle cx="288.3" cy="312.1" r="1.45"/><circle cx="291.2" cy="311.6" r="1.45"/><circle cx="294.7" cy="311.7" r="1.45"/><circle cx="296.9" cy="312.2" r="1.45"/><circle cx="300" cy="312.2" r="1.45"/><circle cx="302.6" cy="311.8" r="1.45"/><circle cx="305.9" cy="311.8" r="1.45"/><circle cx="308.7" cy="311.5" r="1.45"/><circle cx="276.4" cy="314.3" r="1.45"/><circle cx="278.8" cy="314.6" r="1.45"/><circle cx="282.1" cy="314.4" r="1.45"/><circle cx="284.1" cy="314.4" r="1.45"/><circle cx="287.2" cy="314.7" r="1.45"/><circle cx="290" cy="314.4" r="1.45"/><circle cx="293" cy="314.1" r="1.45"/><circle cx="295.7" cy="314.4" r="1.45"/><circle cx="298.9" cy="314.2" r="1.45"/><circle cx="301.2" cy="314.7" r="1.45"/><circle cx="303.7" cy="314.6" r="1.45"/><circle cx="307.1" cy="314.3" r="1.45"/><circle cx="309.7" cy="314.5" r="1.45"/><circle cx="274.6" cy="316.9" r="1.45"/><circle cx="277.6" cy="316.5" r="1.45"/><circle cx="280.5" cy="316.5" r="1.45"/><circle cx="283.1" cy="316.6" r="1.45"/><circle cx="286.3" cy="316.8" r="1.45"/><circle cx="289" cy="316.9" r="1.45"/><circle cx="291.4" cy="317.1" r="1.45"/><circle cx="294.5" cy="316.9" r="1.45"/><circle cx="296.9" cy="316.4" r="1.45"/><circle cx="300" cy="317" r="1.45"/><circle cx="303" cy="316.6" r="1.45"/><circle cx="305.2" cy="316.7" r="1.45"/><circle cx="308.6" cy="316.4" r="1.45"/><circle cx="275.9" cy="319.1" r="1.45"/><circle cx="278.5" cy="318.9" r="1.45"/><circle cx="281.6" cy="319" r="1.45"/><circle cx="284.9" cy="318.9" r="1.45"/><circle cx="287" cy="319.5" r="1.45"/><circle cx="290.1" cy="319.5" r="1.45"/><circle cx="293" cy="319.4" r="1.45"/><circle cx="295.5" cy="318.8" r="1.45"/><circle cx="298.7" cy="319.1" r="1.45"/><circle cx="301.4" cy="319.3" r="1.45"/><circle cx="304.3" cy="318.9" r="1.45"/><circle cx="306.8" cy="319.5" r="1.45"/><circle cx="309.7" cy="319" r="1.45"/><circle cx="274.9" cy="321.8" r="1.45"/><circle cx="277.4" cy="321.9" r="1.45"/><circle cx="280" cy="321.4" r="1.45"/><circle cx="283.2" cy="322" r="1.45"/><circle cx="286" cy="321.8" r="1.45"/><circle cx="288.9" cy="321.5" r="1.45"/><circle cx="291.9" cy="321.8" r="1.45"/><circle cx="294.2" cy="321.5" r="1.45"/><circle cx="297.4" cy="321.5" r="1.45"/><circle cx="299.6" cy="321.9" r="1.45"/><circle cx="302.7" cy="321.6" r="1.45"/><circle cx="305.7" cy="322" r="1.45"/><circle cx="308" cy="321.5" r="1.45"/><circle cx="267.6" cy="324.1" r="1.45"/><circle cx="270.3" cy="324.4" r="1.45"/><circle cx="273.6" cy="324.4" r="1.45"/><circle cx="275.8" cy="324.2" r="1.45"/><circle cx="279.1" cy="324.1" r="1.45"/><circle cx="282.1" cy="324.4" r="1.45"/><circle cx="284.7" cy="324.3" r="1.45"/><circle cx="287.4" cy="324.4" r="1.45"/><circle cx="289.8" cy="324.2" r="1.45"/><circle cx="293.1" cy="324.2" r="1.45"/><circle cx="295.5" cy="323.7" r="1.45"/><circle cx="298.6" cy="324.3" r="1.45"/><circle cx="301.1" cy="323.8" r="1.45"/><circle cx="303.9" cy="323.7" r="1.45"/><circle cx="307.1" cy="324.5" r="1.45"/><circle cx="310" cy="323.9" r="1.45"/><circle cx="312.7" cy="323.7" r="1.45"/><circle cx="315.6" cy="323.9" r="1.45"/><circle cx="268.7" cy="326.5" r="1.45"/><circle cx="271.9" cy="326.8" r="1.45"/><circle cx="274.3" cy="326.8" r="1.45"/><circle cx="277.1" cy="326.3" r="1.45"/><circle cx="280.4" cy="326.4" r="1.45"/><circle cx="282.9" cy="326.6" r="1.45"/><circle cx="285.6" cy="326.8" r="1.45"/><circle cx="288.4" cy="326.8" r="1.45"/><circle cx="291.8" cy="326.5" r="1.45"/><circle cx="293.9" cy="326.8" r="1.45"/><circle cx="296.7" cy="326.5" r="1.45"/><circle cx="299.8" cy="326.1" r="1.45"/><circle cx="302.8" cy="326.7" r="1.45"/><circle cx="305.6" cy="326.4" r="1.45"/><circle cx="308.3" cy="326.6" r="1.45"/><circle cx="310.9" cy="326.8" r="1.45"/><circle cx="314.3" cy="326.8" r="1.45"/><circle cx="268.1" cy="328.6" r="1.45"/><circle cx="270.5" cy="328.6" r="1.45"/><circle cx="273.3" cy="329.1" r="1.45"/><circle cx="276.3" cy="328.9" r="1.45"/><circle cx="278.8" cy="328.7" r="1.45"/><circle cx="281.6" cy="328.8" r="1.45"/><circle cx="284.2" cy="329.2" r="1.45"/><circle cx="287.3" cy="328.9" r="1.45"/><circle cx="289.8" cy="329.1" r="1.45"/><circle cx="292.6" cy="328.7" r="1.45"/><circle cx="295.8" cy="329.1" r="1.45"/><circle cx="298.9" cy="329.2" r="1.45"/><circle cx="301.7" cy="329.3" r="1.45"/><circle cx="304.3" cy="329.1" r="1.45"/><circle cx="306.5" cy="328.7" r="1.45"/><circle cx="309.3" cy="329.3" r="1.45"/><circle cx="312.7" cy="329.1" r="1.45"/><circle cx="315.1" cy="328.8" r="1.45"/><circle cx="271.8" cy="331.8" r="1.45"/><circle cx="275" cy="331.4" r="1.45"/><circle cx="277.1" cy="331" r="1.45"/><circle cx="280" cy="331.6" r="1.45"/><circle cx="283.1" cy="331.8" r="1.45"/><circle cx="286.3" cy="331.7" r="1.45"/><circle cx="288.7" cy="331.7" r="1.45"/><circle cx="291.2" cy="331" r="1.45"/><circle cx="294.4" cy="331.4" r="1.45"/><circle cx="296.8" cy="331.2" r="1.45"/><circle cx="299.5" cy="331.8" r="1.45"/><circle cx="302.9" cy="331.8" r="1.45"/><circle cx="305.9" cy="331.3" r="1.45"/><circle cx="308.5" cy="331.3" r="1.45"/><circle cx="311.4" cy="331.7" r="1.45"/><circle cx="313.6" cy="331" r="1.45"/><circle cx="273.3" cy="333.4" r="1.45"/><circle cx="279" cy="334.2" r="1.45"/><circle cx="281.8" cy="333.6" r="1.45"/><circle cx="284.3" cy="334.2" r="1.45"/><circle cx="287.2" cy="333.5" r="1.45"/><circle cx="290.2" cy="333.5" r="1.45"/><circle cx="292.6" cy="333.8" r="1.45"/><circle cx="295.8" cy="334" r="1.45"/><circle cx="298.7" cy="333.8" r="1.45"/><circle cx="300.9" cy="334.1" r="1.45"/><circle cx="303.7" cy="333.8" r="1.45"/><circle cx="309.8" cy="334" r="1.45"/><circle cx="279.9" cy="336.1" r="1.45"/><circle cx="282.8" cy="336.5" r="1.45"/><circle cx="288.4" cy="335.9" r="1.45"/><circle cx="291.7" cy="335.9" r="1.45"/><circle cx="297.4" cy="336" r="1.45"/><circle cx="299.5" cy="336.6" r="1.45"/><circle cx="303.1" cy="335.9" r="1.45"/><circle cx="305.6" cy="336.6" r="1.45"/><circle cx="287.5" cy="339.1" r="1.45"/><circle cx="293.1" cy="338.4" r="1.45"/><circle cx="298.1" cy="338.4" r="1.45"/></g>
<path d="M285.7,252.8h0.5M288.4,252h0.5M291,252.2h0.5M294.1,252.4h0.5M296.3,252.3h0.5M281.2,254.5h0.5M284,254.5h0.5M286.3,254.8h0.5M289.5,255h0.5M292,255.3h0.5M294.7,255.1h0.5M297.6,255.3h0.5M300.9,254.5h0.5M303.1,254.6h0.5M274.4,257h0.5M277.1,257.7h0.5M282.5,257.6h0.5M285,257.7h0.5M288.3,257.1h0.5M290.6,257.3h0.5M294,257.4h0.5M296.2,256.9h0.5M298.9,257.6h0.5M308,257.3h0.5M273,259.9h0.5M275.5,259.4h0.5M278.2,260.1h0.5M281.2,259.4h0.5M283.7,259.5h0.5M287.1,259.8h0.5M289.1,259.5h0.5M292.2,259.7h0.5M295.2,259.6h0.5M297.8,259.3h0.5M300.8,259.6h0.5M303.1,259.7h0.5M311.9,259.5h0.5M268.8,262.4h0.5M271.4,262.3h0.5M274,262h0.5M277.2,262.5h0.5M280.1,262.4h0.5M282.3,262.4h0.5M285.5,262.2h0.5M288.2,262.1h0.5M290.9,262.1h0.5M293.3,262.1h0.5M296.3,262.6h0.5M299.3,262.1h0.5M301.9,262h0.5M304.8,261.9h0.5M307.3,262.5h0.5M310.5,262.2h0.5M313.4,262h0.5M266.9,264.5h0.5M270.1,264.7h0.5M273.1,264.5h0.5M275.9,264.7h0.5M277.9,264.4h0.5M281.2,265.1h0.5M283.8,264.9h0.5M286.6,265h0.5M289.1,264.6h0.5M292.7,264.4h0.5M294.9,264.2h0.5M297.6,264.4h0.5M300.9,264.4h0.5M303.4,264.4h0.5M306.4,265h0.5M309.2,264.4h0.5M312.1,265.1h0.5M314.8,264.3h0.5M268.2,267.1h0.5M271.6,267.2h0.5M274.5,266.8h0.5M276.7,267.3h0.5M279.8,267h0.5M282.7,267h0.5M284.9,267h0.5M287.7,267.2h0.5M290.8,267.1h0.5M293.8,266.9h0.5M296.5,266.7h0.5M299.7,267.2h0.5M302.5,266.7h0.5M305,267.3h0.5M307.5,266.7h0.5M310.2,266.8h0.5M313.5,266.7h0.5M316.4,267h0.5M275.7,269.3h0.5M278.5,269.8h0.5M281.3,269.4h0.5M284.1,270h0.5M286.7,269.4h0.5M289.5,269.9h0.5M292,269.1h0.5M295.1,269.7h0.5M298.1,269.4h0.5M301.1,269.3h0.5M303.7,269.2h0.5M305.9,269.2h0.5M308.7,269.6h0.5M274.5,272h0.5M277,271.9h0.5M280,272h0.5M282.3,272.4h0.5M284.9,272.2h0.5M287.7,272.1h0.5M290.8,272.3h0.5M293.3,272.1h0.5M296.4,272.4h0.5M299.7,272.1h0.5M301.9,271.8h0.5M304.7,271.9h0.5M307.5,271.7h0.5M275.3,274.3h0.5M278.3,274.8h0.5M280.8,274.6h0.5M284,274.4h0.5M286.8,274.8h0.5M289.2,274.8h0.5M292.2,274.7h0.5M295.4,274.2h0.5M298.2,274.9h0.5M300.5,274h0.5M303.2,274.9h0.5M305.9,274.8h0.5M308.8,274.7h0.5M274.3,276.5h0.5M276.9,276.7h0.5M279.6,276.5h0.5M282.1,277.3h0.5M285.1,277.2h0.5M287.8,276.9h0.5M290.6,276.8h0.5M293.4,277.1h0.5M296.2,277.1h0.5M299.3,276.6h0.5M302,276.9h0.5M305.3,276.8h0.5M307.4,277.3h0.5M275.7,279.5h0.5M278.3,279.4h0.5M281.3,279.8h0.5M284.2,279.5h0.5M286.6,279.2h0.5M289.4,279.8h0.5M292.2,279.2h0.5M295,279h0.5M298.3,278.9h0.5M300.8,279.7h0.5M303.3,279.4h0.5M306.2,279.1h0.5M308.8,279h0.5M274.4,281.8h0.5M277,282.2h0.5M279.5,281.9h0.5M282.7,281.7h0.5M285.5,281.7h0.5M288.1,281.9h0.5M291.1,281.6h0.5M293.8,281.8h0.5M296.3,281.9h0.5M299.1,282.2h0.5M302.1,282h0.5M304.9,281.8h0.5M307.4,281.5h0.5M275.8,283.8h0.5M278.2,284.5h0.5M281.4,283.9h0.5M283.6,284h0.5M286.3,284.1h0.5M289.8,284.3h0.5M292.3,283.9h0.5M295,284.7h0.5M298.1,284.2h0.5M300.7,284.5h0.5M303.7,283.9h0.5M306.5,284.1h0.5M309.1,284h0.5M274.4,286.3h0.5M277,287h0.5M279.4,286.6h0.5M282.8,286.8h0.5M285.2,286.3h0.5M288,286.6h0.5M291.1,286.5h0.5M293.6,286.8h0.5M296.8,286.6h0.5M299.2,286.8h0.5M302.5,286.4h0.5M305.3,286.9h0.5M307.6,286.8h0.5M275.8,289.1h0.5M278.3,289.5h0.5M281,289.1h0.5M283.9,289.4h0.5M286.9,289.4h0.5M289.4,288.7h0.5M292.5,289.2h0.5M295.3,289.4h0.5M297.6,288.9h0.5M300.3,289.4h0.5M303.1,288.8h0.5M306.5,289.2h0.5M308.7,289.3h0.5M276.7,291.4h0.5M279.5,291.4h0.5M282.8,291.7h0.5M285.3,291.5h0.5M287.7,291.4h0.5M291.2,291.9h0.5M294,291.4h0.5M296.2,291.2h0.5M299.3,291.5h0.5M302.1,291.6h0.5M305,291.5h0.5M308,291.3h0.5M275.8,294.1h0.5M278.3,294.4h0.5M281.1,294.4h0.5M283.5,294h0.5M286.8,293.6h0.5M289.8,293.7h0.5M292.4,293.8h0.5M295.5,294.1h0.5M298.2,294h0.5M300.9,294.2h0.5M303.3,293.8h0.5M306.6,293.7h0.5M309.5,293.8h0.5M276.7,296.3h0.5M279.8,296.3h0.5M282.6,296.2h0.5M285.7,296.3h0.5M288.4,296.2h0.5M291.2,296.9h0.5M293.6,296.1h0.5M296.4,296.6h0.5M299.1,296.5h0.5M301.7,296.5h0.5M305.1,296.4h0.5M307.9,296.2h0.5M275.5,299.3h0.5M278.4,299h0.5M280.7,298.6h0.5M283.7,299.3h0.5M287,298.7h0.5M289.9,298.5h0.5M292.4,299.4h0.5M295,299.3h0.5M298,298.5h0.5M300.5,298.9h0.5M303.3,299.2h0.5M306,299.2h0.5M308.9,298.6h0.5M274,301.3h0.5M277,301.1h0.5M279.4,301.8h0.5M282.3,301.7h0.5M285.6,301.4h0.5M287.8,301h0.5M291.2,301.1h0.5M293.7,301.4h0.5M296.2,301.4h0.5M299,301.4h0.5M302.1,301.3h0.5M304.6,301.3h0.5M307.4,301.1h0.5M275.2,303.6h0.5M277.9,303.8h0.5M281.1,303.7h0.5M284.3,303.5h0.5M286.8,303.6h0.5M289.6,304.1h0.5M292.5,303.5h0.5M294.9,303.9h0.5M298.3,303.4h0.5M300.8,304h0.5M303.8,303.7h0.5M306.6,303.8h0.5M309.5,303.4h0.5M273.9,306.7h0.5M277.3,306.6h0.5M279.7,306.3h0.5M282.8,306.7h0.5M285.5,306.4h0.5M287.8,306.4h0.5M291.2,306.6h0.5M293.3,306.5h0.5M296.4,306h0.5M299.7,306.5h0.5M302.3,306h0.5M305.2,306.7h0.5M308.1,306.5h0.5M275.9,309h0.5M278.1,309.1h0.5M280.9,308.5h0.5M283.9,308.5h0.5M286.7,309.1h0.5M289.7,308.9h0.5M292.2,309h0.5M295.4,308.9h0.5M298.3,309h0.5M300.6,308.4h0.5M303.6,309.1h0.5M306.2,308.8h0.5M309.4,309h0.5M274.2,311h0.5M276.5,311h0.5M279.9,311.1h0.5M282.6,311.5h0.5M285,311.4h0.5M287.7,311.5h0.5M290.6,311h0.5M294.1,311.1h0.5M296.3,311.6h0.5M299.4,311.6h0.5M302,311.2h0.5M305.3,311.2h0.5M308.1,310.9h0.5M275.8,313.7h0.5M278.2,314h0.5M281.5,313.8h0.5M283.5,313.8h0.5M286.6,314.1h0.5M289.4,313.8h0.5M292.4,313.5h0.5M295.1,313.8h0.5M298.3,313.6h0.5M300.6,314.1h0.5M303.1,314h0.5M306.5,313.7h0.5M309.1,313.9h0.5M274,316.3h0.5M277,315.9h0.5M279.9,315.9h0.5M282.5,316h0.5M285.7,316.2h0.5M288.4,316.3h0.5M290.8,316.5h0.5M293.9,316.3h0.5M296.3,315.8h0.5M299.4,316.4h0.5M302.4,316h0.5M304.6,316.1h0.5M308,315.8h0.5M275.3,318.5h0.5M277.9,318.3h0.5M281,318.4h0.5M284.3,318.3h0.5M286.4,318.9h0.5M289.5,318.9h0.5M292.4,318.8h0.5M294.9,318.2h0.5M298.1,318.5h0.5M300.8,318.7h0.5M303.7,318.3h0.5M306.2,318.9h0.5M309.1,318.4h0.5M274.3,321.2h0.5M276.8,321.3h0.5M279.4,320.8h0.5M282.6,321.4h0.5M285.4,321.2h0.5M288.3,320.9h0.5M291.3,321.2h0.5M293.6,320.9h0.5M296.8,320.9h0.5M299,321.3h0.5M302.1,321h0.5M305.1,321.4h0.5M307.4,320.9h0.5M267,323.5h0.5M269.7,323.8h0.5M273,323.8h0.5M275.2,323.6h0.5M278.5,323.5h0.5M281.5,323.8h0.5M284.1,323.7h0.5M286.8,323.8h0.5M289.2,323.6h0.5M292.5,323.6h0.5M294.9,323.1h0.5M298,323.7h0.5M300.5,323.2h0.5M303.3,323.1h0.5M306.5,323.9h0.5M309.4,323.3h0.5M312.1,323.1h0.5M315,323.3h0.5M268.1,325.9h0.5M271.3,326.2h0.5M273.7,326.2h0.5M276.5,325.7h0.5M279.8,325.8h0.5M282.3,326h0.5M285,326.2h0.5M287.8,326.2h0.5M291.2,325.9h0.5M293.3,326.2h0.5M296.1,325.9h0.5M299.2,325.5h0.5M302.2,326.1h0.5M305,325.8h0.5M307.7,326h0.5M310.3,326.2h0.5M313.7,326.2h0.5M267.5,328h0.5M269.9,328h0.5M272.7,328.5h0.5M275.7,328.3h0.5M278.2,328.1h0.5M281,328.2h0.5M283.6,328.6h0.5M286.7,328.3h0.5M289.2,328.5h0.5M292,328.1h0.5M295.2,328.5h0.5M298.3,328.6h0.5M301.1,328.7h0.5M303.7,328.5h0.5M305.9,328.1h0.5M308.7,328.7h0.5M312.1,328.5h0.5M314.5,328.2h0.5M271.2,331.2h0.5M274.4,330.8h0.5M276.5,330.4h0.5M279.4,331h0.5M282.5,331.2h0.5M285.7,331.1h0.5M288.1,331.1h0.5M290.6,330.4h0.5M293.8,330.8h0.5M296.2,330.6h0.5M298.9,331.2h0.5M302.3,331.2h0.5M305.3,330.7h0.5M307.9,330.7h0.5M310.8,331.1h0.5M313,330.4h0.5M272.7,332.8h0.5M278.4,333.6h0.5M281.2,333h0.5M283.7,333.6h0.5M286.6,332.9h0.5M289.6,332.9h0.5M292,333.2h0.5M295.2,333.4h0.5M298.1,333.2h0.5M300.3,333.5h0.5M303.1,333.2h0.5M309.2,333.4h0.5M279.3,335.5h0.5M282.2,335.9h0.5M287.8,335.3h0.5M291.1,335.3h0.5M296.8,335.4h0.5M298.9,336h0.5M302.5,335.3h0.5M305,336h0.5M286.9,338.5h0.5M292.5,337.8h0.5M297.5,337.8h0.5" stroke="#fbeaea" stroke-width="0.8" stroke-linecap="round" opacity="0.85"/>
<circle cx="269" cy="222" r="1.5" fill="#b89a9c" stroke="#7d6a6c" stroke-width="0.4"/>
<circle cx="299" cy="226" r="1.5" fill="#b89a9c" stroke="#7d6a6c" stroke-width="0.4"/>
<circle cx="310" cy="226" r="1.5" fill="#b89a9c" stroke="#7d6a6c" stroke-width="0.4"/>
<circle cx="293" cy="236" r="1.5" fill="#b89a9c" stroke="#7d6a6c" stroke-width="0.4"/>
<circle cx="304" cy="248" r="1.5" fill="#b89a9c" stroke="#7d6a6c" stroke-width="0.4"/>
<circle cx="314" cy="250" r="1.5" fill="#b89a9c" stroke="#7d6a6c" stroke-width="0.4"/>
<circle cx="268" cy="256" r="1.5" fill="#b89a9c" stroke="#7d6a6c" stroke-width="0.4"/>
<circle cx="272" cy="346" r="1.5" fill="#b89a9c" stroke="#7d6a6c" stroke-width="0.4"/>
<circle cx="275" cy="344" r="1.5" fill="#b89a9c" stroke="#7d6a6c" stroke-width="0.4"/>
<circle cx="268" cy="350" r="1.5" fill="#b89a9c" stroke="#7d6a6c" stroke-width="0.4"/>
<circle cx="294" cy="356" r="1.5" fill="#b89a9c" stroke="#7d6a6c" stroke-width="0.4"/>
<circle cx="301" cy="360" r="1.5" fill="#b89a9c" stroke="#7d6a6c" stroke-width="0.4"/>
<circle cx="304" cy="360" r="1.5" fill="#b89a9c" stroke="#7d6a6c" stroke-width="0.4"/>
<circle cx="315" cy="361" r="1.5" fill="#b89a9c" stroke="#7d6a6c" stroke-width="0.4"/>
<circle cx="305" cy="365" r="1.5" fill="#b89a9c" stroke="#7d6a6c" stroke-width="0.4"/>
<circle cx="307" cy="374" r="1.5" fill="#b89a9c" stroke="#7d6a6c" stroke-width="0.4"/>
<circle cx="289" cy="342" r="1.5" fill="#b89a9c" stroke="#7d6a6c" stroke-width="0.4"/>
<circle cx="298" cy="344" r="1.5" fill="#b89a9c" stroke="#7d6a6c" stroke-width="0.4"/>
<circle cx="311" cy="340" r="1.5" fill="#b89a9c" stroke="#7d6a6c" stroke-width="0.4"/>
<text x="329.6" y="206.2" font-family="Liberation Sans, Arial, sans-serif" font-size="18.8" stroke="#000" stroke-width="0.15">(d)</text>
<defs><radialGradient id="glow" cx="352" cy="302" r="50" gradientUnits="userSpaceOnUse" gradientTransform="translate(352 302) scale(1 1.2) translate(-352 -302)"><stop offset="0" stop-color="#b8d0ec"/><stop offset="0.12" stop-color="#92aed2"/><stop offset="0.3" stop-color="#5a76a0"/><stop offset="0.55" stop-color="#33466a"/><stop offset="0.8" stop-color="#243252"/><stop offset="1" stop-color="#1d2842"/></radialGradient><linearGradient id="pinkT" x1="0" y1="0" x2="0" y2="1"><stop offset="0" stop-color="#4c3a3c"/><stop offset="0.35" stop-color="#6c5555"/><stop offset="0.7" stop-color="#9c8080"/><stop offset="1" stop-color="#c2a6a4"/></linearGradient><linearGradient id="pinkB" x1="0" y1="0" x2="0" y2="1"><stop offset="0" stop-color="#b89a98"/><stop offset="0.5" stop-color="#9a7c7c"/><stop offset="1" stop-color="#7e6464"/></linearGradient><clipPath id="cd"><rect x="352" y="211" width="166.5" height="182.5"/></clipPath></defs>
<g clip-path="url(#cd)">
<rect x="352" y="211" width="166.5" height="182.5" fill="#131a27"/>
<polygon points="352,211 407,211 406.9,212.1 406.7,213.6 406.5,215.3 406.3,217.2 406,219.3 405.7,221.3 405.4,223.2 405,225 404.5,226.5 403.7,227.9 402.9,229.2 402.1,230.5 401.3,231.9 400.7,233.4 400.4,235.1 400.3,237 400.7,239.2 401.4,241.7 402.4,244.3 403.5,247.1 404.7,250 405.9,252.8 407.1,255.7 408.1,258.4 409.1,261.1 410.1,263.9 411.1,266.8 412.1,269.6 413.1,272.4 414,275 414.7,277.5 415.4,279.7 415.9,281.7 416.4,283.4 416.7,284.9 416.9,286.4 417.1,287.7 417.3,289.1 417.4,290.5 417.5,292 417.6,293.6 417.6,295.2 417.6,296.8 417.5,298.5 417.4,300.1 417.3,301.7 417.2,303.4 417,305 416.8,306.6 416.7,308.2 416.5,309.7 416.4,311.3 416.1,312.8 415.7,314.5 415.3,316.2 414.6,318 413.9,319.9 413,321.9 412.1,323.9 411,326 409.8,328.2 408.5,330.3 407.2,332.6 405.7,334.8 404.1,337.1 402.3,339.6 400.5,342.2 398.5,344.8 396.5,347.3 394.4,349.7 392.4,352 390.4,354 388.4,355.8 386.3,357.5 384.1,359 381.9,360.4 379.8,361.7 377.9,362.9 376.1,364.1 374.7,365.2 373.6,366.3 372.6,367.4 371.9,368.4 371.4,369.3 370.9,370.1 370.6,370.9 370.3,371.5 370,372 352,393.5" fill="url(#glow)"/>
<polygon points="407,211 406.9,212.1 406.7,213.6 406.5,215.3 406.3,217.2 406,219.3 405.7,221.3 405.4,223.2 405,225 404.5,226.5 403.7,227.9 402.9,229.2 402.1,230.5 401.3,231.9 400.7,233.4 400.4,235.1 400.3,237 400.7,239.2 401.4,241.7 402.4,244.3 403.5,247.1 404.7,250 405.9,252.8 407.1,255.7 408.1,258.4 409.1,261.1 410.1,263.9 411.1,266.8 412.1,269.6 413.1,272.4 414,275 414.7,277.5 415.4,279.7 415.9,281.7 416.4,283.4 416.7,284.9 416.9,286.4 417.1,287.7 417.3,289.1 417.4,290.5 417.5,292 417.6,293.6 417.6,295.2 417.6,296.8 417.5,298.5 417.4,300.1 417.3,301.7 417.2,303.4 417,305 416.8,306.6 416.7,308.2 416.5,309.7 416.4,311.3 416.1,312.8 415.7,314.5 415.3,316.2 414.6,318 413.9,319.9 413,321.9 412.1,323.9 411,326 409.8,328.2 408.5,330.3 407.2,332.6 405.7,334.8 404.1,337.1 402.3,339.6 400.5,342.2 398.5,344.8 396.5,347.3 394.4,349.7 392.4,352 390.4,354 388.4,355.8 386.3,357.5 384.1,359 381.9,360.4 379.8,361.7 377.9,362.9 376.1,364.1 374.7,365.2 373.6,366.3 372.6,367.4 371.9,368.4 371.4,369.3 370.9,370.1 370.6,370.9 370.3,371.5 370,372 390,372 391.2,371.5 392.8,370.9 394.7,370.1 396.8,369.3 398.9,368.4 401.1,367.4 403,366.3 404.7,365.2 406.1,364.1 407.4,362.9 408.6,361.7 409.7,360.4 410.8,359 411.8,357.5 412.9,355.8 413.9,354 415.1,352 416.2,349.7 417.2,347.3 418.3,344.8 419.4,342.2 420.4,339.6 421.4,337.1 422.3,334.8 423.2,332.6 424.1,330.3 424.9,328.2 425.7,326 426.4,323.9 427.1,321.9 427.8,319.9 428.4,318 428.9,316.2 429.3,314.5 429.7,312.8 430,311.3 430.3,309.7 430.6,308.2 430.8,306.6 431,305 431.2,303.4 431.3,301.7 431.5,300.1 431.6,298.5 431.6,296.8 431.6,295.2 431.6,293.6 431.5,292 431.4,290.5 431.3,289.1 431.1,287.7 430.9,286.4 430.6,284.9 430.3,283.4 429.8,281.7 429.2,279.7 428.5,277.5 427.6,275 426.6,272.4 425.5,269.6 424.3,266.8 423.2,263.9 422,261.1 420.9,258.4 419.8,255.7 418.6,252.8 417.3,250 416.1,247.1 414.9,244.3 413.8,241.7 412.8,239.2 412.1,237 411.5,235.1 411,233.4 410.7,231.9 410.5,230.5 410.3,229.2 410.2,227.9 410.1,226.5 410,225 409.9,223.2 409.9,221.3 409.8,219.3 409.9,217.2 409.9,215.3 410,213.6 410,212.1 410,211" fill="#48484a"/>
<polyline points="408.9,211 408.6,212.1 407.7,213.6 407.2,215.3 406.9,217.2 406.4,219.3 406.6,221.3 407,223.2 407.6,225 407.7,226.5 408.4,227.9 408.8,229.2 409.5,230.5 409.2,231.9 407.9,233.4 407.4,235.1 406,237 404.6,239.2 404,241.7 403.9,244.3 405,247.1 407.5,250 409.8,252.8 412.9,255.7 415.9,258.4 418.4,261.1 421,263.9 422.4,266.8 423.3,269.6 422.9,272.4 422.1,275 420.8,277.5 419.7,279.7 418.6,281.7 418.2,283.4 419.2,284.9 420.4,286.4 422.2,287.7 424.2,289.1 426.1,290.5 427.9,292 429.1,293.6 429.3,295.2 429.3,296.8 427.6,298.5 425.9,300.1 423.3,301.7 421.7,303.4 420,305 418.4,306.6 418.6,308.2 420,309.7 421.1,311.3 423.2,312.8 424.3,314.5 425.3,316.2 426.3,318 426,319.9 424.3,321.9 422,323.9 419.4,326 416.7,328.2 413.3,330.3 409.9,332.6 407.9,334.8 406.5,337.1 406.2,339.6 407.3,342.2 408.1,344.8 409.9,347.3 411,349.7 411.2,352 410.8,354 408,355.8 404.6,357.5 399.1,359 393.6,360.4 387.9,361.7 383.2,362.9 380.8,364.1 379.7,365.2 380.3,366.3 383.1,367.4 385.3,368.4 387.8,369.3 389.5,370.1 389.4,370.9 387.9,371.5 386.6,372" fill="none" stroke="#8a8a8a" stroke-width="2.2" stroke-linejoin="round"/>
<polyline points="409.2,211 409.5,212.1 408.8,213.6 408.2,215.3 407.3,217.2 406.7,219.3 406.6,221.3 406.2,223.2 406.8,225 407.2,226.5 408,227.9 409,229.2 408.8,230.5 408.3,231.9 407.3,233.4 405.1,235.1 403.6,237 403.6,239.2 404.3,241.7 405.8,244.3 408.7,247.1 412.4,250 415.5,252.8 417,255.7 418.4,258.4 418.1,261.1 417,263.9 415.8,266.8 415,269.6 415.4,272.4 417.7,275 419.6,277.5 422.9,279.7 425.2,281.7 427.4,283.4 427.9,284.9 426.9,286.4 425.1,287.7 423.4,289.1 421,290.5 420.2,292 420.7,293.6 422.2,295.2 424.1,296.8 426,298.5 428.2,300.1 428.3,301.7 427.5,303.4 425.9,305 423.7,306.6 421,308.2 419.5,309.7 419,311.3 419.7,312.8 420.7,314.5 422.7,316.2 424.5,318 425.2,319.9 424.3,321.9 422.4,323.9 419.3,326 415.6,328.2 412.3,330.3 410,332.6 409.8,334.8 409.9,337.1 411.4,339.6 412.2,342.2 413.7,344.8 413.1,347.3 411,349.7 406.5,352 401.9,354 395.9,355.8 391.9,357.5 389.8,359 389.9,360.4 391.9,361.7 395.1,362.9 397.9,364.1 398.8,365.2 396.5,366.3 392.4,367.4 386.8,368.4 381.3,369.3 376.9,370.1 375.3,370.9 375.5,371.5 377.1,372" fill="none" stroke="#6a6a6a" stroke-width="2.0" stroke-linejoin="round"/>
<polyline points="407.5,211 407.3,212.1 407.1,213.6 406.9,215.3 407.7,217.2 408.6,219.3 409.1,221.3 409.5,223.2 409.4,225 409.4,226.5 408.2,227.9 406.5,229.2 404.9,230.5 402.5,231.9 401.9,233.4 401.5,235.1 403.5,237 406.1,239.2 409.2,241.7 412.6,244.3 414.7,247.1 415.9,250 416.1,252.8 414.6,255.7 412.9,258.4 411.9,261.1 411.8,263.9 412.2,266.8 414.3,269.6 418,272.4 421.4,275 424.6,277.5 427.5,279.7 428.3,281.7 428.3,283.4 426.3,284.9 424.2,286.4 422,287.7 420.1,289.1 419.1,290.5 419.2,292 421.1,293.6 423.4,295.2 426,296.8 428.6,298.5 430.1,300.1 430.1,301.7 428.5,303.4 426.2,305 422.7,306.6 420,308.2 418.3,309.7 417.6,311.3 418.2,312.8 420,314.5 422.3,316.2 424.2,318 425.4,319.9 426,321.9 424.8,323.9 421.7,326 417.7,328.2 413.6,330.3 410.5,332.6 407.1,334.8 406.3,337.1 406.4,339.6 407.8,342.2 410.5,344.8 412.1,347.3 413.2,349.7 412.6,352 409.2,354 404.8,355.8 397.9,357.5 391.2,359 385.6,360.4 382.8,361.7 382.4,362.9 385,364.1 389.3,365.2 393.7,366.3 396.5,367.4 396.3,368.4 393.3,369.3 388.8,370.1 383.1,370.9 377.8,371.5 374.2,372" fill="none" stroke="#2e2e30" stroke-width="1.2" stroke-linejoin="round"/>
<polyline points="407,211 406.9,212.1 407,213.6 407.5,215.3 407.7,217.2 408.2,219.3 408.8,221.3 409,223.2 409.7,225 410,226.5 409.1,227.9 409.1,229.2 407.7,230.5 405.6,231.9 404.2,233.4 402.7,235.1 402,237 401.6,239.2 402.8,241.7 405,244.3 407.6,247.1 410.9,250 413.7,252.8 416.9,255.7 418.9,258.4 421.1,261.1 422.2,263.9 422.3,266.8 422,269.6 420.6,272.4 420,275 418.9,277.5 418,279.7 417.2,281.7 417.8,283.4 418.4,284.9 420.6,286.4 422.7,287.7 424.7,289.1 426.7,290.5 428.9,292 430.2,293.6 430.7,295.2 430,296.8 428.3,298.5 427,300.1 424.1,301.7 422.3,303.4 419.7,305 418.4,306.6 418,308.2 417.6,309.7 418.5,311.3 420.2,312.8 422.1,314.5 423.8,316.2 425.1,318 426.2,319.9 425.9,321.9 425.5,323.9 423.1,326 420.7,328.2 417.7,330.3 413.9,332.6 410.6,334.8 407.1,337.1 404.1,339.6 402.3,342.2 401.1,344.8 401.1,347.3 402.4,349.7 404.6,352 406.8,354 407.9,355.8 409.3,357.5 409,359 406.6,360.4 402.9,361.7 397.4,362.9 391.6,364.1 385.5,365.2 380.2,366.3 375.8,367.4 374.5,368.4 373.9,369.3 374.9,370.1 377.3,370.9 379.6,371.5 382,372" fill="none" stroke="#b8b8b8" stroke-width="0.9" stroke-linejoin="round"/>
<polyline points="407.5,211 407.7,212.1 407.8,213.6 408.6,215.3 409,217.2 408.7,219.3 408.7,221.3 407.9,223.2 407.3,225 406.5,226.5 405.7,227.9 405,229.2 405.3,230.5 406.3,231.9 407.9,233.4 409,235.1 408.3,237 407.9,239.2 406.2,241.7 405.8,244.3 406.4,247.1 408.8,250 411.5,252.8 414.7,255.7 417.5,258.4 418.4,261.1 419,263.9 417.7,266.8 417,269.6 416.5,272.4 417.3,275 419.6,277.5 422.3,279.7 424.9,281.7 426.6,283.4 426.9,284.9 425.4,286.4 423.4,287.7 421.9,289.1 421,290.5 421.5,292 423.5,293.6 425.5,295.2 427.6,296.8 427.8,298.5 427.5,300.1 425.6,301.7 423.3,303.4 420.9,305 420.2,306.6 421.4,308.2 422.5,309.7 425.1,311.3 426.2,312.8 425.6,314.5 424.1,316.2 422,318 418.8,319.9 416.5,321.9 416.1,323.9 416.1,326 417.7,328.2 418.4,330.3 419,332.6 418,334.8 414.5,337.1 410.5,339.6 406.7,342.2 403.8,344.8 402.7,347.3 402.8,349.7 405.1,352 407,354 406.8,355.8 404.4,357.5 399.2,359 393.1,360.4 387.9,361.7 384.9,362.9 385.6,364.1 388.3,365.2 391.6,366.3 392.9,367.4 391.8,368.4 388.1,369.3 383.6,370.1 379.1,370.9 376.2,371.5 374.9,372" fill="none" stroke="#9c9c9c" stroke-width="1.3" stroke-linejoin="round"/>
<polyline points="409.2,211 409.2,212.1 409.6,213.6 409.2,215.3 409,217.2 408.4,219.3 407.6,221.3 407,223.2 405.7,225 405.6,226.5 405.3,227.9 404.7,229.2 405.5,230.5 406.9,231.9 407.9,233.4 409,235.1 409.8,237 410.2,239.2 409.4,241.7 409.4,244.3 408.5,247.1 408.1,250 408.5,252.8 409.4,255.7 411.1,258.4 413.9,261.1 416.8,263.9 420.2,266.8 422.7,269.6 424,272.4 425.3,275 424.9,277.5 423.8,279.7 422.2,281.7 420.4,283.4 419.8,284.9 419.6,286.4 420.2,287.7 421.9,289.1 424,290.5 426,292 428.1,293.6 428.7,295.2 429,296.8 428.2,298.5 426.1,300.1 424.1,301.7 422.1,303.4 420.3,305 419,306.6 419.7,308.2 420.4,309.7 421.7,311.3 423.8,312.8 425.2,314.5 426.1,316.2 425.9,318 425.3,319.9 422.9,321.9 420.1,323.9 417,326 414.2,328.2 411,330.3 410,332.6 409.7,334.8 409.9,337.1 411.3,339.6 412.4,342.2 413.4,344.8 413.5,347.3 411.8,349.7 408.9,352 405,354 399.5,355.8 394.2,357.5 390,359 386.7,360.4 386.1,361.7 386.9,362.9 389.6,364.1 392.2,365.2 395.1,366.3 395.9,367.4 393.9,368.4 391.3,369.3 386.3,370.1 381.9,370.9 377.5,371.5 374.8,372" fill="none" stroke="#d0d0d0" stroke-width="0.7" stroke-linejoin="round"/>
<g opacity="0.8"><circle cx="407.9" cy="223.7" r="1.4" fill="#3c3c3e"/><circle cx="406.6" cy="224.7" r="0.9" fill="#7c7c7c"/><circle cx="407.2" cy="225.8" r="1.4" fill="#7c7c7c"/><circle cx="405.1" cy="227.3" r="1.1" fill="#c4c4c4"/><circle cx="406.5" cy="228.5" r="0.7" fill="#7c7c7c"/><circle cx="408.3" cy="226.6" r="1.4" fill="#7c7c7c"/><circle cx="404.1" cy="230.5" r="1" fill="#3c3c3e"/><circle cx="405.1" cy="230" r="0.7" fill="#a8a8a8"/><circle cx="409.2" cy="231.2" r="1" fill="#c4c4c4"/><circle cx="407" cy="229.4" r="1.1" fill="#3c3c3e"/><circle cx="403.1" cy="233" r="0.9" fill="#c4c4c4"/><circle cx="403.2" cy="231.7" r="1.2" fill="#3c3c3e"/><circle cx="406.7" cy="233.8" r="1.2" fill="#7c7c7c"/><circle cx="408.1" cy="233.5" r="1.4" fill="#7c7c7c"/><circle cx="408" cy="234.3" r="0.8" fill="#7c7c7c"/><circle cx="408.4" cy="235.4" r="1" fill="#7c7c7c"/><circle cx="407.2" cy="237.7" r="1.2" fill="#c4c4c4"/><circle cx="407.4" cy="237.8" r="0.8" fill="#c4c4c4"/><circle cx="406.8" cy="239.7" r="0.8" fill="#a8a8a8"/><circle cx="408" cy="237.8" r="0.9" fill="#a8a8a8"/><circle cx="408.8" cy="240.5" r="1.1" fill="#a8a8a8"/><circle cx="410.1" cy="242.9" r="0.8" fill="#c4c4c4"/><circle cx="409.9" cy="244" r="1" fill="#c4c4c4"/><circle cx="407" cy="244.3" r="0.8" fill="#a8a8a8"/><circle cx="412.8" cy="247" r="1.3" fill="#c4c4c4"/><circle cx="409.2" cy="247.9" r="1" fill="#c4c4c4"/><circle cx="409.7" cy="250.4" r="1.4" fill="#7c7c7c"/><circle cx="408.9" cy="250.7" r="1.3" fill="#c4c4c4"/><circle cx="411.5" cy="252.4" r="0.8" fill="#7c7c7c"/><circle cx="408" cy="251.6" r="1.1" fill="#3c3c3e"/><circle cx="416.6" cy="255.6" r="1.3" fill="#a8a8a8"/><circle cx="409.1" cy="254.8" r="1.2" fill="#a8a8a8"/><circle cx="416.5" cy="258.4" r="1.2" fill="#7c7c7c"/><circle cx="412.3" cy="257.3" r="1" fill="#7c7c7c"/><circle cx="414.2" cy="260" r="1.2" fill="#7c7c7c"/><circle cx="414.9" cy="262" r="0.9" fill="#7c7c7c"/><circle cx="413.7" cy="265.3" r="1.2" fill="#c4c4c4"/><circle cx="412.3" cy="264.9" r="0.7" fill="#3c3c3e"/><circle cx="418.6" cy="267.7" r="1.2" fill="#7c7c7c"/><circle cx="420.8" cy="266.9" r="1.3" fill="#c4c4c4"/><circle cx="415.3" cy="270.4" r="1.3" fill="#7c7c7c"/><circle cx="422.1" cy="268.8" r="0.7" fill="#c4c4c4"/><circle cx="420.5" cy="273.8" r="1.2" fill="#3c3c3e"/><circle cx="415.1" cy="272.5" r="1.3" fill="#a8a8a8"/><circle cx="419" cy="274.3" r="0.8" fill="#7c7c7c"/><circle cx="416.2" cy="275.4" r="0.8" fill="#3c3c3e"/><circle cx="418.8" cy="276.6" r="1.2" fill="#7c7c7c"/><circle cx="424.5" cy="277.2" r="0.9" fill="#7c7c7c"/><circle cx="424.2" cy="279.7" r="1.1" fill="#a8a8a8"/><circle cx="424.6" cy="280.9" r="1" fill="#7c7c7c"/><circle cx="426.8" cy="282.6" r="1.3" fill="#3c3c3e"/><circle cx="427.9" cy="282.1" r="1.1" fill="#a8a8a8"/><circle cx="426.7" cy="283.2" r="1" fill="#c4c4c4"/><circle cx="420.5" cy="282.4" r="1.1" fill="#c4c4c4"/><circle cx="421.7" cy="284.6" r="1.1" fill="#7c7c7c"/><circle cx="428.9" cy="283.6" r="0.9" fill="#a8a8a8"/><circle cx="421.7" cy="285.3" r="1.3" fill="#a8a8a8"/><circle cx="426.7" cy="284.9" r="1" fill="#a8a8a8"/><circle cx="422" cy="286.8" r="1" fill="#c4c4c4"/><circle cx="425.2" cy="287.6" r="1.1" fill="#3c3c3e"/><circle cx="420.7" cy="288.4" r="0.8" fill="#7c7c7c"/><circle cx="425.7" cy="290.4" r="1.1" fill="#7c7c7c"/><circle cx="424.2" cy="290.2" r="1.4" fill="#a8a8a8"/><circle cx="424.2" cy="289.7" r="0.7" fill="#c4c4c4"/><circle cx="427.9" cy="291.7" r="1.1" fill="#7c7c7c"/><circle cx="427.7" cy="290.7" r="1.3" fill="#a8a8a8"/><circle cx="428.8" cy="294.8" r="1" fill="#c4c4c4"/><circle cx="427" cy="293.9" r="0.8" fill="#c4c4c4"/><circle cx="427.7" cy="294.1" r="1.3" fill="#c4c4c4"/><circle cx="426.1" cy="296.7" r="0.9" fill="#a8a8a8"/><circle cx="420.7" cy="297.6" r="0.7" fill="#c4c4c4"/><circle cx="428.2" cy="295.6" r="0.9" fill="#a8a8a8"/><circle cx="428.9" cy="299" r="0.8" fill="#7c7c7c"/><circle cx="419.1" cy="297.5" r="0.8" fill="#a8a8a8"/><circle cx="427.6" cy="299.9" r="0.7" fill="#3c3c3e"/><circle cx="424.7" cy="299.1" r="1.3" fill="#7c7c7c"/><circle cx="422.3" cy="301.4" r="1.1" fill="#3c3c3e"/><circle cx="426.2" cy="300.4" r="0.8" fill="#c4c4c4"/><circle cx="419.8" cy="303.1" r="1" fill="#a8a8a8"/><circle cx="425.9" cy="301.9" r="1" fill="#3c3c3e"/><circle cx="421.1" cy="305.2" r="1" fill="#a8a8a8"/><circle cx="428" cy="306" r="1.2" fill="#c4c4c4"/><circle cx="421.5" cy="306.2" r="1.1" fill="#7c7c7c"/><circle cx="428.9" cy="307.4" r="1.1" fill="#a8a8a8"/><circle cx="420.9" cy="307.3" r="1.2" fill="#7c7c7c"/><circle cx="421.5" cy="307.5" r="1" fill="#7c7c7c"/><circle cx="422.8" cy="309.4" r="0.8" fill="#a8a8a8"/><circle cx="419.4" cy="310.1" r="0.8" fill="#c4c4c4"/><circle cx="422.1" cy="312.3" r="1.1" fill="#a8a8a8"/><circle cx="418.8" cy="309.9" r="1.4" fill="#3c3c3e"/><circle cx="421.9" cy="311.6" r="1.3" fill="#3c3c3e"/><circle cx="427.5" cy="311.8" r="0.8" fill="#c4c4c4"/><circle cx="426" cy="314.1" r="0.9" fill="#3c3c3e"/><circle cx="423.9" cy="315.2" r="1.1" fill="#7c7c7c"/><circle cx="427.3" cy="317.1" r="1.2" fill="#a8a8a8"/><circle cx="419.5" cy="315.3" r="0.9" fill="#3c3c3e"/><circle cx="417.2" cy="317.6" r="1.1" fill="#7c7c7c"/><circle cx="425.1" cy="318.3" r="0.8" fill="#7c7c7c"/><circle cx="421.4" cy="319.5" r="1.1" fill="#c4c4c4"/><circle cx="421.7" cy="319" r="1.4" fill="#c4c4c4"/><circle cx="420.8" cy="320.5" r="1.2" fill="#a8a8a8"/><circle cx="416" cy="321.8" r="1" fill="#7c7c7c"/><circle cx="417.3" cy="325.2" r="1" fill="#3c3c3e"/><circle cx="423.6" cy="323.8" r="1.2" fill="#c4c4c4"/><circle cx="423.1" cy="326.1" r="1.1" fill="#7c7c7c"/><circle cx="414.4" cy="326.7" r="1.3" fill="#7c7c7c"/><circle cx="418.6" cy="327" r="1.3" fill="#7c7c7c"/><circle cx="419.6" cy="327.7" r="1.2" fill="#7c7c7c"/><circle cx="420.4" cy="329.4" r="1.1" fill="#a8a8a8"/><circle cx="415.7" cy="330.1" r="1.2" fill="#c4c4c4"/><circle cx="412.7" cy="333.1" r="1.2" fill="#3c3c3e"/><circle cx="416.7" cy="333" r="1.2" fill="#c4c4c4"/><circle cx="410" cy="334.7" r="0.8" fill="#3c3c3e"/><circle cx="408.9" cy="334.5" r="0.9" fill="#c4c4c4"/><circle cx="409.5" cy="337.3" r="0.9" fill="#a8a8a8"/><circle cx="415.8" cy="338" r="1" fill="#3c3c3e"/><circle cx="412.8" cy="339.5" r="1" fill="#3c3c3e"/><circle cx="415" cy="339.6" r="1.4" fill="#3c3c3e"/><circle cx="414.8" cy="341" r="0.8" fill="#7c7c7c"/><circle cx="410.3" cy="342" r="1.3" fill="#7c7c7c"/><circle cx="414.9" cy="344.1" r="1.1" fill="#3c3c3e"/><circle cx="412.1" cy="345" r="1.2" fill="#7c7c7c"/><circle cx="413.2" cy="348.4" r="0.9" fill="#3c3c3e"/><circle cx="402.6" cy="348.4" r="1.4" fill="#3c3c3e"/><circle cx="408.7" cy="349.8" r="0.9" fill="#7c7c7c"/><circle cx="408" cy="351" r="1.3" fill="#7c7c7c"/><circle cx="410.4" cy="351.7" r="1.3" fill="#c4c4c4"/><circle cx="406.4" cy="351.7" r="0.8" fill="#a8a8a8"/><circle cx="394.7" cy="354.9" r="0.8" fill="#3c3c3e"/><circle cx="392.8" cy="353.2" r="0.9" fill="#7c7c7c"/><circle cx="394.2" cy="355.6" r="1" fill="#3c3c3e"/><circle cx="393.6" cy="356.4" r="0.9" fill="#7c7c7c"/><circle cx="389.5" cy="358.7" r="0.9" fill="#3c3c3e"/><circle cx="391.8" cy="358.3" r="1.2" fill="#c4c4c4"/><circle cx="391.1" cy="360.1" r="1.2" fill="#a8a8a8"/><circle cx="390.9" cy="360" r="0.9" fill="#3c3c3e"/><circle cx="385.1" cy="360.8" r="1.2" fill="#c4c4c4"/><circle cx="396.6" cy="359.6" r="1.4" fill="#a8a8a8"/><circle cx="397.7" cy="361.1" r="1.3" fill="#7c7c7c"/><circle cx="402.7" cy="362.3" r="0.8" fill="#3c3c3e"/><circle cx="390.6" cy="361.9" r="1.3" fill="#a8a8a8"/><circle cx="397.6" cy="362" r="0.8" fill="#c4c4c4"/><circle cx="391.2" cy="363.5" r="0.9" fill="#a8a8a8"/><circle cx="393.3" cy="363.3" r="0.9" fill="#c4c4c4"/><circle cx="393.7" cy="364.5" r="1.1" fill="#a8a8a8"/><circle cx="388.8" cy="363.9" r="1.3" fill="#a8a8a8"/><circle cx="389" cy="364.9" r="1.1" fill="#7c7c7c"/><circle cx="389.2" cy="366.1" r="1.1" fill="#c4c4c4"/><circle cx="382" cy="368.1" r="0.9" fill="#7c7c7c"/><circle cx="392.2" cy="366" r="1.3" fill="#c4c4c4"/></g>
<polyline points="405,225 404.5,226.5 403.7,227.9 402.9,229.2 402.1,230.5 401.3,231.9 400.7,233.4 400.4,235.1 400.3,237 400.7,239.2 401.4,241.7 402.4,244.3 403.5,247.1 404.7,250 405.9,252.8 407.1,255.7 408.1,258.4 409.1,261.1 410.1,263.9 411.1,266.8 412.1,269.6 413.1,272.4 414,275 414.7,277.5 415.4,279.7 415.9,281.7 416.4,283.4 416.7,284.9 416.9,286.4 417.1,287.7 417.3,289.1 417.4,290.5 417.5,292 417.6,293.6 417.6,295.2 417.6,296.8 417.5,298.5 417.4,300.1 417.3,301.7 417.2,303.4 417,305 416.8,306.6 416.7,308.2 416.5,309.7 416.4,311.3 416.1,312.8 415.7,314.5 415.3,316.2 414.6,318 413.9,319.9 413,321.9 412.1,323.9 411,326 409.8,328.2 408.5,330.3 407.2,332.6 405.7,334.8 404.1,337.1 402.3,339.6 400.5,342.2 398.5,344.8 396.5,347.3 394.4,349.7 392.4,352 390.4,354 388.4,355.8 386.3,357.5 384.1,359 381.9,360.4 379.8,361.7 377.9,362.9 376.1,364.1 374.7,365.2 373.6,366.3 372.6,367.4 371.9,368.4 371.4,369.3 370.9,370.1 370.6,370.9 370.3,371.5 370,372" fill="none" stroke="#bdbdbd" stroke-width="0.9"/>
<circle cx="411.2" cy="227.9" r="2.2" fill="#555558"/>
<circle cx="412.5" cy="235.1" r="2.2" fill="#555558"/>
<circle cx="417.1" cy="247.1" r="2.2" fill="#555558"/>
<circle cx="423" cy="261.1" r="2.2" fill="#555558"/>
<circle cx="428.6" cy="275" r="2.2" fill="#555558"/>
<circle cx="431.6" cy="284.9" r="2.2" fill="#555558"/>
<circle cx="432.5" cy="292" r="2.2" fill="#555558"/>
<circle cx="432.5" cy="300.1" r="2.2" fill="#555558"/>
<circle cx="431.6" cy="308.2" r="2.2" fill="#555558"/>
<circle cx="429.9" cy="316.2" r="2.2" fill="#555558"/>
<circle cx="426.7" cy="326" r="2.2" fill="#555558"/>
<circle cx="422.4" cy="337.1" r="2.2" fill="#555558"/>
<circle cx="417.2" cy="349.7" r="2.2" fill="#555558"/>
<polygon points="352,211 518.5,211 518.5,228 352,234" fill="url(#pinkT)"/>
<circle cx="352" cy="213" r="2.2" fill="#3e2e30" opacity="0.55"/>
<circle cx="356.3" cy="213" r="2.2" fill="#3e2e30" opacity="0.55"/>
<circle cx="360.6" cy="213" r="2.2" fill="#3e2e30" opacity="0.55"/>
<circle cx="364.9" cy="213" r="2.2" fill="#3e2e30" opacity="0.55"/>
<circle cx="369.2" cy="213" r="2.2" fill="#3e2e30" opacity="0.55"/>
<circle cx="373.5" cy="213" r="2.2" fill="#3e2e30" opacity="0.55"/>
<circle cx="377.8" cy="213" r="2.2" fill="#3e2e30" opacity="0.55"/>
<circle cx="382.1" cy="213" r="2.2" fill="#3e2e30" opacity="0.55"/>
<circle cx="386.4" cy="213" r="2.2" fill="#3e2e30" opacity="0.55"/>
<circle cx="390.7" cy="213" r="2.2" fill="#3e2e30" opacity="0.55"/>
<circle cx="395" cy="213" r="2.2" fill="#3e2e30" opacity="0.55"/>
<circle cx="399.3" cy="213" r="2.2" fill="#3e2e30" opacity="0.55"/>
<circle cx="403.6" cy="213" r="2.2" fill="#3e2e30" opacity="0.55"/>
<circle cx="407.9" cy="213" r="2.2" fill="#3e2e30" opacity="0.55"/>
<circle cx="412.2" cy="213" r="2.2" fill="#3e2e30" opacity="0.55"/>
<circle cx="416.5" cy="213" r="2.2" fill="#3e2e30" opacity="0.55"/>
<circle cx="420.8" cy="213" r="2.2" fill="#3e2e30" opacity="0.55"/>
<circle cx="425.1" cy="213" r="2.2" fill="#3e2e30" opacity="0.55"/>
<circle cx="429.4" cy="213" r="2.2" fill="#3e2e30" opacity="0.55"/>
<circle cx="433.7" cy="213" r="2.2" fill="#3e2e30" opacity="0.55"/>
<circle cx="438" cy="213" r="2.2" fill="#3e2e30" opacity="0.55"/>
<circle cx="442.3" cy="213" r="2.2" fill="#3e2e30" opacity="0.55"/>
<circle cx="446.6" cy="213" r="2.2" fill="#3e2e30" opacity="0.55"/>
<circle cx="450.9" cy="213" r="2.2" fill="#3e2e30" opacity="0.55"/>
<circle cx="455.2" cy="213" r="2.2" fill="#3e2e30" opacity="0.55"/>
<circle cx="459.5" cy="213" r="2.2" fill="#3e2e30" opacity="0.55"/>
<circle cx="463.8" cy="213" r="2.2" fill="#3e2e30" opacity="0.55"/>
<circle cx="468.1" cy="213" r="2.2" fill="#3e2e30" opacity="0.55"/>
<circle cx="472.4" cy="213" r="2.2" fill="#3e2e30" opacity="0.55"/>
<circle cx="476.7" cy="213" r="2.2" fill="#3e2e30" opacity="0.55"/>
<circle cx="481" cy="213" r="2.2" fill="#3e2e30" opacity="0.55"/>
<circle cx="485.3" cy="213" r="2.2" fill="#3e2e30" opacity="0.55"/>
<circle cx="489.6" cy="213" r="2.2" fill="#3e2e30" opacity="0.55"/>
<circle cx="493.9" cy="213" r="2.2" fill="#3e2e30" opacity="0.55"/>
<circle cx="498.2" cy="213" r="2.2" fill="#3e2e30" opacity="0.55"/>
<circle cx="502.5" cy="213" r="2.2" fill="#3e2e30" opacity="0.55"/>
<circle cx="506.8" cy="213" r="2.2" fill="#3e2e30" opacity="0.55"/>
<circle cx="511.1" cy="213" r="2.2" fill="#3e2e30" opacity="0.55"/>
<circle cx="515.4" cy="213" r="2.2" fill="#3e2e30" opacity="0.55"/>
<circle cx="519.7" cy="213" r="2.2" fill="#3e2e30" opacity="0.55"/>
<circle cx="354.1" cy="217.6" r="2.2" fill="#6a5254" opacity="0.55"/>
<circle cx="358.4" cy="217.5" r="2.2" fill="#6a5254" opacity="0.55"/>
<circle cx="362.7" cy="217.5" r="2.2" fill="#6a5254" opacity="0.55"/>
<circle cx="367" cy="217.5" r="2.2" fill="#6a5254" opacity="0.55"/>
<circle cx="371.3" cy="217.4" r="2.2" fill="#6a5254" opacity="0.55"/>
<circle cx="375.6" cy="217.4" r="2.2" fill="#6a5254" opacity="0.55"/>
<circle cx="379.9" cy="217.3" r="2.2" fill="#6a5254" opacity="0.55"/>
<circle cx="384.2" cy="217.3" r="2.2" fill="#6a5254" opacity="0.55"/>
<circle cx="388.5" cy="217.3" r="2.2" fill="#6a5254" opacity="0.55"/>
<circle cx="392.8" cy="217.2" r="2.2" fill="#6a5254" opacity="0.55"/>
<circle cx="397.1" cy="217.2" r="2.2" fill="#6a5254" opacity="0.55"/>
<circle cx="401.4" cy="217.2" r="2.2" fill="#6a5254" opacity="0.55"/>
<circle cx="405.7" cy="217.1" r="2.2" fill="#6a5254" opacity="0.55"/>
<circle cx="410" cy="217.1" r="2.2" fill="#6a5254" opacity="0.55"/>
<circle cx="414.3" cy="217" r="2.2" fill="#6a5254" opacity="0.55"/>
<circle cx="418.6" cy="217" r="2.2" fill="#6a5254" opacity="0.55"/>
<circle cx="422.9" cy="217" r="2.2" fill="#6a5254" opacity="0.55"/>
<circle cx="427.2" cy="216.9" r="2.2" fill="#6a5254" opacity="0.55"/>
<circle cx="431.5" cy="216.9" r="2.2" fill="#6a5254" opacity="0.55"/>
<circle cx="435.8" cy="216.8" r="2.2" fill="#6a5254" opacity="0.55"/>
<circle cx="440.1" cy="216.8" r="2.2" fill="#6a5254" opacity="0.55"/>
<circle cx="444.4" cy="216.8" r="2.2" fill="#6a5254" opacity="0.55"/>
<circle cx="448.7" cy="216.7" r="2.2" fill="#6a5254" opacity="0.55"/>
<circle cx="453" cy="216.7" r="2.2" fill="#6a5254" opacity="0.55"/>
<circle cx="457.3" cy="216.7" r="2.2" fill="#6a5254" opacity="0.55"/>
<circle cx="461.6" cy="216.6" r="2.2" fill="#6a5254" opacity="0.55"/>
<circle cx="465.9" cy="216.6" r="2.2" fill="#6a5254" opacity="0.55"/>
<circle cx="470.2" cy="216.5" r="2.2" fill="#6a5254" opacity="0.55"/>
<circle cx="474.5" cy="216.5" r="2.2" fill="#6a5254" opacity="0.55"/>
<circle cx="478.8" cy="216.5" r="2.2" fill="#6a5254" opacity="0.55"/>
<circle cx="483.1" cy="216.4" r="2.2" fill="#6a5254" opacity="0.55"/>
<circle cx="487.4" cy="216.4" r="2.2" fill="#6a5254" opacity="0.55"/>
<circle cx="491.7" cy="216.3" r="2.2" fill="#6a5254" opacity="0.55"/>
<circle cx="496" cy="216.3" r="2.2" fill="#6a5254" opacity="0.55"/>
<circle cx="500.3" cy="216.3" r="2.2" fill="#6a5254" opacity="0.55"/>
<circle cx="504.6" cy="216.2" r="2.2" fill="#6a5254" opacity="0.55"/>
<circle cx="508.9" cy="216.2" r="2.2" fill="#6a5254" opacity="0.55"/>
<circle cx="513.2" cy="216.1" r="2.2" fill="#6a5254" opacity="0.55"/>
<circle cx="517.5" cy="216.1" r="2.2" fill="#6a5254" opacity="0.55"/>
<circle cx="521.8" cy="216.1" r="2.2" fill="#6a5254" opacity="0.55"/>
<circle cx="352" cy="222.2" r="2.2" fill="#8e7272" opacity="0.55"/>
<circle cx="356.3" cy="222.1" r="2.2" fill="#8e7272" opacity="0.55"/>
<circle cx="360.6" cy="222" r="2.2" fill="#8e7272" opacity="0.55"/>
<circle cx="364.9" cy="222" r="2.2" fill="#8e7272" opacity="0.55"/>
<circle cx="369.2" cy="221.9" r="2.2" fill="#8e7272" opacity="0.55"/>
<circle cx="373.5" cy="221.8" r="2.2" fill="#8e7272" opacity="0.55"/>
<circle cx="377.8" cy="221.7" r="2.2" fill="#8e7272" opacity="0.55"/>
<circle cx="382.1" cy="221.7" r="2.2" fill="#8e7272" opacity="0.55"/>
<circle cx="386.4" cy="221.6" r="2.2" fill="#8e7272" opacity="0.55"/>
<circle cx="390.7" cy="221.5" r="2.2" fill="#8e7272" opacity="0.55"/>
<circle cx="395" cy="221.4" r="2.2" fill="#8e7272" opacity="0.55"/>
<circle cx="399.3" cy="221.3" r="2.2" fill="#8e7272" opacity="0.55"/>
<circle cx="403.6" cy="221.3" r="2.2" fill="#8e7272" opacity="0.55"/>
<circle cx="407.9" cy="221.2" r="2.2" fill="#8e7272" opacity="0.55"/>
<circle cx="412.2" cy="221.1" r="2.2" fill="#8e7272" opacity="0.55"/>
<circle cx="416.5" cy="221" r="2.2" fill="#8e7272" opacity="0.55"/>
<circle cx="420.8" cy="221" r="2.2" fill="#8e7272" opacity="0.55"/>
<circle cx="425.1" cy="220.9" r="2.2" fill="#8e7272" opacity="0.55"/>
<circle cx="429.4" cy="220.8" r="2.2" fill="#8e7272" opacity="0.55"/>
<circle cx="433.7" cy="220.7" r="2.2" fill="#8e7272" opacity="0.55"/>
<circle cx="438" cy="220.7" r="2.2" fill="#8e7272" opacity="0.55"/>
<circle cx="442.3" cy="220.6" r="2.2" fill="#8e7272" opacity="0.55"/>
<circle cx="446.6" cy="220.5" r="2.2" fill="#8e7272" opacity="0.55"/>
<circle cx="450.9" cy="220.4" r="2.2" fill="#8e7272" opacity="0.55"/>
<circle cx="455.2" cy="220.3" r="2.2" fill="#8e7272" opacity="0.55"/>
<circle cx="459.5" cy="220.3" r="2.2" fill="#8e7272" opacity="0.55"/>
<circle cx="463.8" cy="220.2" r="2.2" fill="#8e7272" opacity="0.55"/>
<circle cx="468.1" cy="220.1" r="2.2" fill="#8e7272" opacity="0.55"/>
<circle cx="472.4" cy="220" r="2.2" fill="#8e7272" opacity="0.55"/>
<circle cx="476.7" cy="220" r="2.2" fill="#8e7272" opacity="0.55"/>
<circle cx="481" cy="219.9" r="2.2" fill="#8e7272" opacity="0.55"/>
<circle cx="485.3" cy="219.8" r="2.2" fill="#8e7272" opacity="0.55"/>
<circle cx="489.6" cy="219.7" r="2.2" fill="#8e7272" opacity="0.55"/>
<circle cx="493.9" cy="219.6" r="2.2" fill="#8e7272" opacity="0.55"/>
<circle cx="498.2" cy="219.6" r="2.2" fill="#8e7272" opacity="0.55"/>
<circle cx="502.5" cy="219.5" r="2.2" fill="#8e7272" opacity="0.55"/>
<circle cx="506.8" cy="219.4" r="2.2" fill="#8e7272" opacity="0.55"/>
<circle cx="511.1" cy="219.3" r="2.2" fill="#8e7272" opacity="0.55"/>
<circle cx="515.4" cy="219.3" r="2.2" fill="#8e7272" opacity="0.55"/>
<circle cx="519.7" cy="219.2" r="2.2" fill="#8e7272" opacity="0.55"/>
<circle cx="354.1" cy="226.7" r="2.2" fill="#b49898" opacity="0.55"/>
<circle cx="358.4" cy="226.6" r="2.2" fill="#b49898" opacity="0.55"/>
<circle cx="362.7" cy="226.5" r="2.2" fill="#b49898" opacity="0.55"/>
<circle cx="367" cy="226.4" r="2.2" fill="#b49898" opacity="0.55"/>
<circle cx="371.3" cy="226.3" r="2.2" fill="#b49898" opacity="0.55"/>
<circle cx="375.6" cy="226.2" r="2.2" fill="#b49898" opacity="0.55"/>
<circle cx="379.9" cy="226" r="2.2" fill="#b49898" opacity="0.55"/>
<circle cx="384.2" cy="225.9" r="2.2" fill="#b49898" opacity="0.55"/>
<circle cx="388.5" cy="225.8" r="2.2" fill="#b49898" opacity="0.55"/>
<circle cx="392.8" cy="225.7" r="2.2" fill="#b49898" opacity="0.55"/>
<circle cx="397.1" cy="225.6" r="2.2" fill="#b49898" opacity="0.55"/>
<circle cx="401.4" cy="225.5" r="2.2" fill="#b49898" opacity="0.55"/>
<circle cx="405.7" cy="225.4" r="2.2" fill="#b49898" opacity="0.55"/>
<circle cx="410" cy="225.2" r="2.2" fill="#b49898" opacity="0.55"/>
<circle cx="414.3" cy="225.1" r="2.2" fill="#b49898" opacity="0.55"/>
<circle cx="418.6" cy="225" r="2.2" fill="#b49898" opacity="0.55"/>
<circle cx="422.9" cy="224.9" r="2.2" fill="#b49898" opacity="0.55"/>
<circle cx="427.2" cy="224.8" r="2.2" fill="#b49898" opacity="0.55"/>
<circle cx="431.5" cy="224.7" r="2.2" fill="#b49898" opacity="0.55"/>
<circle cx="435.8" cy="224.5" r="2.2" fill="#b49898" opacity="0.55"/>
<circle cx="440.1" cy="224.4" r="2.2" fill="#b49898" opacity="0.55"/>
<circle cx="444.4" cy="224.3" r="2.2" fill="#b49898" opacity="0.55"/>
<circle cx="448.7" cy="224.2" r="2.2" fill="#b49898" opacity="0.55"/>
<circle cx="453" cy="224.1" r="2.2" fill="#b49898" opacity="0.55"/>
<circle cx="457.3" cy="224" r="2.2" fill="#b49898" opacity="0.55"/>
<circle cx="461.6" cy="223.8" r="2.2" fill="#b49898" opacity="0.55"/>
<circle cx="465.9" cy="223.7" r="2.2" fill="#b49898" opacity="0.55"/>
<circle cx="470.2" cy="223.6" r="2.2" fill="#b49898" opacity="0.55"/>
<circle cx="474.5" cy="223.5" r="2.2" fill="#b49898" opacity="0.55"/>
<circle cx="478.8" cy="223.4" r="2.2" fill="#b49898" opacity="0.55"/>
<circle cx="483.1" cy="223.3" r="2.2" fill="#b49898" opacity="0.55"/>
<circle cx="487.4" cy="223.1" r="2.2" fill="#b49898" opacity="0.55"/>
<circle cx="491.7" cy="223" r="2.2" fill="#b49898" opacity="0.55"/>
<circle cx="496" cy="222.9" r="2.2" fill="#b49898" opacity="0.55"/>
<circle cx="500.3" cy="222.8" r="2.2" fill="#b49898" opacity="0.55"/>
<circle cx="504.6" cy="222.7" r="2.2" fill="#b49898" opacity="0.55"/>
<circle cx="508.9" cy="222.6" r="2.2" fill="#b49898" opacity="0.55"/>
<circle cx="513.2" cy="222.4" r="2.2" fill="#b49898" opacity="0.55"/>
<circle cx="517.5" cy="222.3" r="2.2" fill="#b49898" opacity="0.55"/>
<circle cx="521.8" cy="222.2" r="2.2" fill="#b49898" opacity="0.55"/>
<circle cx="352" cy="231.4" r="2.2" fill="#d6c0bc" opacity="0.55"/>
<circle cx="356.3" cy="231.2" r="2.2" fill="#d6c0bc" opacity="0.55"/>
<circle cx="360.6" cy="231.1" r="2.2" fill="#d6c0bc" opacity="0.55"/>
<circle cx="364.9" cy="230.9" r="2.2" fill="#d6c0bc" opacity="0.55"/>
<circle cx="369.2" cy="230.8" r="2.2" fill="#d6c0bc" opacity="0.55"/>
<circle cx="373.5" cy="230.6" r="2.2" fill="#d6c0bc" opacity="0.55"/>
<circle cx="377.8" cy="230.5" r="2.2" fill="#d6c0bc" opacity="0.55"/>
<circle cx="382.1" cy="230.3" r="2.2" fill="#d6c0bc" opacity="0.55"/>
<circle cx="386.4" cy="230.2" r="2.2" fill="#d6c0bc" opacity="0.55"/>
<circle cx="390.7" cy="230" r="2.2" fill="#d6c0bc" opacity="0.55"/>
<circle cx="395" cy="229.9" r="2.2" fill="#d6c0bc" opacity="0.55"/>
<circle cx="399.3" cy="229.7" r="2.2" fill="#d6c0bc" opacity="0.55"/>
<circle cx="403.6" cy="229.5" r="2.2" fill="#d6c0bc" opacity="0.55"/>
<circle cx="407.9" cy="229.4" r="2.2" fill="#d6c0bc" opacity="0.55"/>
<circle cx="412.2" cy="229.2" r="2.2" fill="#d6c0bc" opacity="0.55"/>
<circle cx="416.5" cy="229.1" r="2.2" fill="#d6c0bc" opacity="0.55"/>
<circle cx="420.8" cy="228.9" r="2.2" fill="#d6c0bc" opacity="0.55"/>
<circle cx="425.1" cy="228.8" r="2.2" fill="#d6c0bc" opacity="0.55"/>
<circle cx="429.4" cy="228.6" r="2.2" fill="#d6c0bc" opacity="0.55"/>
<circle cx="433.7" cy="228.5" r="2.2" fill="#d6c0bc" opacity="0.55"/>
<circle cx="438" cy="228.3" r="2.2" fill="#d6c0bc" opacity="0.55"/>
<circle cx="442.3" cy="228.1" r="2.2" fill="#d6c0bc" opacity="0.55"/>
<circle cx="446.6" cy="228" r="2.2" fill="#d6c0bc" opacity="0.55"/>
<circle cx="450.9" cy="227.8" r="2.2" fill="#d6c0bc" opacity="0.55"/>
<circle cx="455.2" cy="227.7" r="2.2" fill="#d6c0bc" opacity="0.55"/>
<circle cx="459.5" cy="227.5" r="2.2" fill="#d6c0bc" opacity="0.55"/>
<circle cx="463.8" cy="227.4" r="2.2" fill="#d6c0bc" opacity="0.55"/>
<circle cx="468.1" cy="227.2" r="2.2" fill="#d6c0bc" opacity="0.55"/>
<circle cx="472.4" cy="227.1" r="2.2" fill="#d6c0bc" opacity="0.55"/>
<circle cx="476.7" cy="226.9" r="2.2" fill="#d6c0bc" opacity="0.55"/>
<circle cx="481" cy="226.8" r="2.2" fill="#d6c0bc" opacity="0.55"/>
<circle cx="485.3" cy="226.6" r="2.2" fill="#d6c0bc" opacity="0.55"/>
<circle cx="489.6" cy="226.4" r="2.2" fill="#d6c0bc" opacity="0.55"/>
<circle cx="493.9" cy="226.3" r="2.2" fill="#d6c0bc" opacity="0.55"/>
<circle cx="498.2" cy="226.1" r="2.2" fill="#d6c0bc" opacity="0.55"/>
<circle cx="502.5" cy="226" r="2.2" fill="#d6c0bc" opacity="0.55"/>
<circle cx="506.8" cy="225.8" r="2.2" fill="#d6c0bc" opacity="0.55"/>
<circle cx="511.1" cy="225.7" r="2.2" fill="#d6c0bc" opacity="0.55"/>
<circle cx="515.4" cy="225.5" r="2.2" fill="#d6c0bc" opacity="0.55"/>
<circle cx="519.7" cy="225.4" r="2.2" fill="#d6c0bc" opacity="0.55"/>
<circle cx="353" cy="232.6" r="2.1" fill="#c9b0ae"/>
<circle cx="357.3" cy="232.4" r="2.1" fill="#c9b0ae"/>
<circle cx="361.6" cy="232.3" r="2.1" fill="#c9b0ae"/>
<circle cx="365.9" cy="232.1" r="2.1" fill="#c9b0ae"/>
<circle cx="370.2" cy="231.9" r="2.1" fill="#c9b0ae"/>
<circle cx="374.5" cy="231.8" r="2.1" fill="#c9b0ae"/>
<circle cx="378.8" cy="231.6" r="2.1" fill="#c9b0ae"/>
<circle cx="383.1" cy="231.5" r="2.1" fill="#c9b0ae"/>
<circle cx="387.4" cy="231.3" r="2.1" fill="#c9b0ae"/>
<circle cx="391.7" cy="231.2" r="2.1" fill="#c9b0ae"/>
<circle cx="396" cy="231" r="2.1" fill="#c9b0ae"/>
<circle cx="400.3" cy="230.9" r="2.1" fill="#c9b0ae"/>
<circle cx="404.6" cy="230.7" r="2.1" fill="#c9b0ae"/>
<circle cx="408.9" cy="230.6" r="2.1" fill="#c9b0ae"/>
<circle cx="413.2" cy="230.4" r="2.1" fill="#c9b0ae"/>
<circle cx="417.5" cy="230.2" r="2.1" fill="#c9b0ae"/>
<circle cx="421.8" cy="230.1" r="2.1" fill="#c9b0ae"/>
<circle cx="426.1" cy="229.9" r="2.1" fill="#c9b0ae"/>
<circle cx="430.4" cy="229.8" r="2.1" fill="#c9b0ae"/>
<circle cx="434.7" cy="229.6" r="2.1" fill="#c9b0ae"/>
<circle cx="439" cy="229.5" r="2.1" fill="#c9b0ae"/>
<circle cx="443.3" cy="229.3" r="2.1" fill="#c9b0ae"/>
<circle cx="447.6" cy="229.2" r="2.1" fill="#c9b0ae"/>
<circle cx="451.9" cy="229" r="2.1" fill="#c9b0ae"/>
<circle cx="456.2" cy="228.8" r="2.1" fill="#c9b0ae"/>
<circle cx="460.5" cy="228.7" r="2.1" fill="#c9b0ae"/>
<circle cx="464.8" cy="228.5" r="2.1" fill="#c9b0ae"/>
<circle cx="469.1" cy="228.4" r="2.1" fill="#c9b0ae"/>
<circle cx="473.4" cy="228.2" r="2.1" fill="#c9b0ae"/>
<circle cx="477.7" cy="228.1" r="2.1" fill="#c9b0ae"/>
<circle cx="482" cy="227.9" r="2.1" fill="#c9b0ae"/>
<circle cx="486.3" cy="227.8" r="2.1" fill="#c9b0ae"/>
<circle cx="490.6" cy="227.6" r="2.1" fill="#c9b0ae"/>
<circle cx="494.9" cy="227.5" r="2.1" fill="#c9b0ae"/>
<circle cx="499.2" cy="227.3" r="2.1" fill="#c9b0ae"/>
<circle cx="503.5" cy="227.1" r="2.1" fill="#c9b0ae"/>
<circle cx="507.8" cy="227" r="2.1" fill="#c9b0ae"/>
<circle cx="512.1" cy="226.8" r="2.1" fill="#c9b0ae"/>
<circle cx="516.4" cy="226.7" r="2.1" fill="#c9b0ae"/>
<circle cx="520.7" cy="226.5" r="2.1" fill="#c9b0ae"/>
<path d="M405.5,211 C405,218 406,226 404,236 L411,236 C412,226 411,218 411.5,211 Z" fill="#4a4a4c"/>
<path d="M406.5,211 C408,217 407,224 409,232 M410,211 C408,218 409.5,226 406.5,234" fill="none" stroke="#9a9a9a" stroke-width="0.9"/>
<polygon points="352,364 518.5,365.7 518.5,393.5 352,393.5" fill="url(#pinkB)"/>
<g stroke="#6e5454" stroke-width="0.5"><circle cx="352" cy="366" r="2.05" fill="#d2b6b2"/><circle cx="356.3" cy="366" r="2.05" fill="#d2b6b2"/><circle cx="360.6" cy="366.1" r="2.05" fill="#d2b6b2"/><circle cx="364.9" cy="366.1" r="2.05" fill="#d2b6b2"/><circle cx="369.2" cy="366.2" r="2.05" fill="#d2b6b2"/><circle cx="373.5" cy="366.2" r="2.05" fill="#d2b6b2"/><circle cx="377.8" cy="366.3" r="2.05" fill="#d2b6b2"/><circle cx="382.1" cy="366.3" r="2.05" fill="#d2b6b2"/><circle cx="386.4" cy="366.3" r="2.05" fill="#d2b6b2"/><circle cx="390.7" cy="366.4" r="2.05" fill="#d2b6b2"/><circle cx="395" cy="366.4" r="2.05" fill="#d2b6b2"/><circle cx="399.3" cy="366.5" r="2.05" fill="#d2b6b2"/><circle cx="403.6" cy="366.5" r="2.05" fill="#d2b6b2"/><circle cx="407.9" cy="366.6" r="2.05" fill="#d2b6b2"/><circle cx="412.2" cy="366.6" r="2.05" fill="#d2b6b2"/><circle cx="416.5" cy="366.6" r="2.05" fill="#d2b6b2"/><circle cx="420.8" cy="366.7" r="2.05" fill="#d2b6b2"/><circle cx="425.1" cy="366.7" r="2.05" fill="#d2b6b2"/><circle cx="429.4" cy="366.8" r="2.05" fill="#d2b6b2"/><circle cx="433.7" cy="366.8" r="2.05" fill="#d2b6b2"/><circle cx="438" cy="366.9" r="2.05" fill="#d2b6b2"/><circle cx="442.3" cy="366.9" r="2.05" fill="#d2b6b2"/><circle cx="446.6" cy="366.9" r="2.05" fill="#d2b6b2"/><circle cx="450.9" cy="367" r="2.05" fill="#d2b6b2"/><circle cx="455.2" cy="367" r="2.05" fill="#d2b6b2"/><circle cx="459.5" cy="367.1" r="2.05" fill="#d2b6b2"/><circle cx="463.8" cy="367.1" r="2.05" fill="#d2b6b2"/><circle cx="468.1" cy="367.2" r="2.05" fill="#d2b6b2"/><circle cx="472.4" cy="367.2" r="2.05" fill="#d2b6b2"/><circle cx="476.7" cy="367.2" r="2.05" fill="#d2b6b2"/><circle cx="481" cy="367.3" r="2.05" fill="#d2b6b2"/><circle cx="485.3" cy="367.3" r="2.05" fill="#d2b6b2"/><circle cx="489.6" cy="367.4" r="2.05" fill="#d2b6b2"/><circle cx="493.9" cy="367.4" r="2.05" fill="#d2b6b2"/><circle cx="498.2" cy="367.5" r="2.05" fill="#d2b6b2"/><circle cx="502.5" cy="367.5" r="2.05" fill="#d2b6b2"/><circle cx="506.8" cy="367.5" r="2.05" fill="#d2b6b2"/><circle cx="511.1" cy="367.6" r="2.05" fill="#d2b6b2"/><circle cx="515.4" cy="367.6" r="2.05" fill="#d2b6b2"/><circle cx="519.7" cy="367.7" r="2.05" fill="#d2b6b2"/><circle cx="354.1" cy="370.2" r="2.05" fill="#c2a4a2"/><circle cx="358.4" cy="370.3" r="2.05" fill="#c2a4a2"/><circle cx="362.7" cy="370.3" r="2.05" fill="#c2a4a2"/><circle cx="367" cy="370.3" r="2.05" fill="#c2a4a2"/><circle cx="371.3" cy="370.4" r="2.05" fill="#c2a4a2"/><circle cx="375.6" cy="370.4" r="2.05" fill="#c2a4a2"/><circle cx="379.9" cy="370.5" r="2.05" fill="#c2a4a2"/><circle cx="384.2" cy="370.5" r="2.05" fill="#c2a4a2"/><circle cx="388.5" cy="370.6" r="2.05" fill="#c2a4a2"/><circle cx="392.8" cy="370.6" r="2.05" fill="#c2a4a2"/><circle cx="397.1" cy="370.7" r="2.05" fill="#c2a4a2"/><circle cx="401.4" cy="370.7" r="2.05" fill="#c2a4a2"/><circle cx="405.7" cy="370.7" r="2.05" fill="#c2a4a2"/><circle cx="410" cy="370.8" r="2.05" fill="#c2a4a2"/><circle cx="414.3" cy="370.8" r="2.05" fill="#c2a4a2"/><circle cx="418.6" cy="370.9" r="2.05" fill="#c2a4a2"/><circle cx="422.9" cy="370.9" r="2.05" fill="#c2a4a2"/><circle cx="427.2" cy="371" r="2.05" fill="#c2a4a2"/><circle cx="431.5" cy="371" r="2.05" fill="#c2a4a2"/><circle cx="435.8" cy="371" r="2.05" fill="#c2a4a2"/><circle cx="440.1" cy="371.1" r="2.05" fill="#c2a4a2"/><circle cx="444.4" cy="371.1" r="2.05" fill="#c2a4a2"/><circle cx="448.7" cy="371.2" r="2.05" fill="#c2a4a2"/><circle cx="453" cy="371.2" r="2.05" fill="#c2a4a2"/><circle cx="457.3" cy="371.3" r="2.05" fill="#c2a4a2"/><circle cx="461.6" cy="371.3" r="2.05" fill="#c2a4a2"/><circle cx="465.9" cy="371.3" r="2.05" fill="#c2a4a2"/><circle cx="470.2" cy="371.4" r="2.05" fill="#c2a4a2"/><circle cx="474.5" cy="371.4" r="2.05" fill="#c2a4a2"/><circle cx="478.8" cy="371.5" r="2.05" fill="#c2a4a2"/><circle cx="483.1" cy="371.5" r="2.05" fill="#c2a4a2"/><circle cx="487.4" cy="371.6" r="2.05" fill="#c2a4a2"/><circle cx="491.7" cy="371.6" r="2.05" fill="#c2a4a2"/><circle cx="496" cy="371.6" r="2.05" fill="#c2a4a2"/><circle cx="500.3" cy="371.7" r="2.05" fill="#c2a4a2"/><circle cx="504.6" cy="371.7" r="2.05" fill="#c2a4a2"/><circle cx="508.9" cy="371.8" r="2.05" fill="#c2a4a2"/><circle cx="513.2" cy="371.8" r="2.05" fill="#c2a4a2"/><circle cx="517.5" cy="371.9" r="2.05" fill="#c2a4a2"/><circle cx="521.8" cy="371.9" r="2.05" fill="#c2a4a2"/><circle cx="352" cy="374.4" r="2.05" fill="#b29292"/><circle cx="356.3" cy="374.4" r="2.05" fill="#b29292"/><circle cx="360.6" cy="374.5" r="2.05" fill="#b29292"/><circle cx="364.9" cy="374.5" r="2.05" fill="#b29292"/><circle cx="369.2" cy="374.6" r="2.05" fill="#b29292"/><circle cx="373.5" cy="374.6" r="2.05" fill="#b29292"/><circle cx="377.8" cy="374.7" r="2.05" fill="#b29292"/><circle cx="382.1" cy="374.7" r="2.05" fill="#b29292"/><circle cx="386.4" cy="374.7" r="2.05" fill="#b29292"/><circle cx="390.7" cy="374.8" r="2.05" fill="#b29292"/><circle cx="395" cy="374.8" r="2.05" fill="#b29292"/><circle cx="399.3" cy="374.9" r="2.05" fill="#b29292"/><circle cx="403.6" cy="374.9" r="2.05" fill="#b29292"/><circle cx="407.9" cy="375" r="2.05" fill="#b29292"/><circle cx="412.2" cy="375" r="2.05" fill="#b29292"/><circle cx="416.5" cy="375" r="2.05" fill="#b29292"/><circle cx="420.8" cy="375.1" r="2.05" fill="#b29292"/><circle cx="425.1" cy="375.1" r="2.05" fill="#b29292"/><circle cx="429.4" cy="375.2" r="2.05" fill="#b29292"/><circle cx="433.7" cy="375.2" r="2.05" fill="#b29292"/><circle cx="438" cy="375.3" r="2.05" fill="#b29292"/><circle cx="442.3" cy="375.3" r="2.05" fill="#b29292"/><circle cx="446.6" cy="375.3" r="2.05" fill="#b29292"/><circle cx="450.9" cy="375.4" r="2.05" fill="#b29292"/><circle cx="455.2" cy="375.4" r="2.05" fill="#b29292"/><circle cx="459.5" cy="375.5" r="2.05" fill="#b29292"/><circle cx="463.8" cy="375.5" r="2.05" fill="#b29292"/><circle cx="468.1" cy="375.6" r="2.05" fill="#b29292"/><circle cx="472.4" cy="375.6" r="2.05" fill="#b29292"/><circle cx="476.7" cy="375.6" r="2.05" fill="#b29292"/><circle cx="481" cy="375.7" r="2.05" fill="#b29292"/><circle cx="485.3" cy="375.7" r="2.05" fill="#b29292"/><circle cx="489.6" cy="375.8" r="2.05" fill="#b29292"/><circle cx="493.9" cy="375.8" r="2.05" fill="#b29292"/><circle cx="498.2" cy="375.9" r="2.05" fill="#b29292"/><circle cx="502.5" cy="375.9" r="2.05" fill="#b29292"/><circle cx="506.8" cy="375.9" r="2.05" fill="#b29292"/><circle cx="511.1" cy="376" r="2.05" fill="#b29292"/><circle cx="515.4" cy="376" r="2.05" fill="#b29292"/><circle cx="519.7" cy="376.1" r="2.05" fill="#b29292"/><circle cx="354.1" cy="378.6" r="2.05" fill="#a68686"/><circle cx="358.4" cy="378.7" r="2.05" fill="#a68686"/><circle cx="362.7" cy="378.7" r="2.05" fill="#a68686"/><circle cx="367" cy="378.8" r="2.05" fill="#a68686"/><circle cx="371.3" cy="378.8" r="2.05" fill="#a68686"/><circle cx="375.6" cy="378.8" r="2.05" fill="#a68686"/><circle cx="379.9" cy="378.9" r="2.05" fill="#a68686"/><circle cx="384.2" cy="378.9" r="2.05" fill="#a68686"/><circle cx="388.5" cy="379" r="2.05" fill="#a68686"/><circle cx="392.8" cy="379" r="2.05" fill="#a68686"/><circle cx="397.1" cy="379.1" r="2.05" fill="#a68686"/><circle cx="401.4" cy="379.1" r="2.05" fill="#a68686"/><circle cx="405.7" cy="379.1" r="2.05" fill="#a68686"/><circle cx="410" cy="379.2" r="2.05" fill="#a68686"/><circle cx="414.3" cy="379.2" r="2.05" fill="#a68686"/><circle cx="418.6" cy="379.3" r="2.05" fill="#a68686"/><circle cx="422.9" cy="379.3" r="2.05" fill="#a68686"/><circle cx="427.2" cy="379.4" r="2.05" fill="#a68686"/><circle cx="431.5" cy="379.4" r="2.05" fill="#a68686"/><circle cx="435.8" cy="379.4" r="2.05" fill="#a68686"/><circle cx="440.1" cy="379.5" r="2.05" fill="#a68686"/><circle cx="444.4" cy="379.5" r="2.05" fill="#a68686"/><circle cx="448.7" cy="379.6" r="2.05" fill="#a68686"/><circle cx="453" cy="379.6" r="2.05" fill="#a68686"/><circle cx="457.3" cy="379.7" r="2.05" fill="#a68686"/><circle cx="461.6" cy="379.7" r="2.05" fill="#a68686"/><circle cx="465.9" cy="379.7" r="2.05" fill="#a68686"/><circle cx="470.2" cy="379.8" r="2.05" fill="#a68686"/><circle cx="474.5" cy="379.8" r="2.05" fill="#a68686"/><circle cx="478.8" cy="379.9" r="2.05" fill="#a68686"/><circle cx="483.1" cy="379.9" r="2.05" fill="#a68686"/><circle cx="487.4" cy="380" r="2.05" fill="#a68686"/><circle cx="491.7" cy="380" r="2.05" fill="#a68686"/><circle cx="496" cy="380" r="2.05" fill="#a68686"/><circle cx="500.3" cy="380.1" r="2.05" fill="#a68686"/><circle cx="504.6" cy="380.1" r="2.05" fill="#a68686"/><circle cx="508.9" cy="380.2" r="2.05" fill="#a68686"/><circle cx="513.2" cy="380.2" r="2.05" fill="#a68686"/><circle cx="517.5" cy="380.3" r="2.05" fill="#a68686"/><circle cx="521.8" cy="380.3" r="2.05" fill="#a68686"/><circle cx="352" cy="382.8" r="2.05" fill="#9a7c7c"/><circle cx="356.3" cy="382.8" r="2.05" fill="#9a7c7c"/><circle cx="360.6" cy="382.9" r="2.05" fill="#9a7c7c"/><circle cx="364.9" cy="382.9" r="2.05" fill="#9a7c7c"/><circle cx="369.2" cy="383" r="2.05" fill="#9a7c7c"/><circle cx="373.5" cy="383" r="2.05" fill="#9a7c7c"/><circle cx="377.8" cy="383.1" r="2.05" fill="#9a7c7c"/><circle cx="382.1" cy="383.1" r="2.05" fill="#9a7c7c"/><circle cx="386.4" cy="383.1" r="2.05" fill="#9a7c7c"/><circle cx="390.7" cy="383.2" r="2.05" fill="#9a7c7c"/><circle cx="395" cy="383.2" r="2.05" fill="#9a7c7c"/><circle cx="399.3" cy="383.3" r="2.05" fill="#9a7c7c"/><circle cx="403.6" cy="383.3" r="2.05" fill="#9a7c7c"/><circle cx="407.9" cy="383.4" r="2.05" fill="#9a7c7c"/><circle cx="412.2" cy="383.4" r="2.05" fill="#9a7c7c"/><circle cx="416.5" cy="383.4" r="2.05" fill="#9a7c7c"/><circle cx="420.8" cy="383.5" r="2.05" fill="#9a7c7c"/><circle cx="425.1" cy="383.5" r="2.05" fill="#9a7c7c"/><circle cx="429.4" cy="383.6" r="2.05" fill="#9a7c7c"/><circle cx="433.7" cy="383.6" r="2.05" fill="#9a7c7c"/><circle cx="438" cy="383.7" r="2.05" fill="#9a7c7c"/><circle cx="442.3" cy="383.7" r="2.05" fill="#9a7c7c"/><circle cx="446.6" cy="383.7" r="2.05" fill="#9a7c7c"/><circle cx="450.9" cy="383.8" r="2.05" fill="#9a7c7c"/><circle cx="455.2" cy="383.8" r="2.05" fill="#9a7c7c"/><circle cx="459.5" cy="383.9" r="2.05" fill="#9a7c7c"/><circle cx="463.8" cy="383.9" r="2.05" fill="#9a7c7c"/><circle cx="468.1" cy="384" r="2.05" fill="#9a7c7c"/><circle cx="472.4" cy="384" r="2.05" fill="#9a7c7c"/><circle cx="476.7" cy="384" r="2.05" fill="#9a7c7c"/><circle cx="481" cy="384.1" r="2.05" fill="#9a7c7c"/><circle cx="485.3" cy="384.1" r="2.05" fill="#9a7c7c"/><circle cx="489.6" cy="384.2" r="2.05" fill="#9a7c7c"/><circle cx="493.9" cy="384.2" r="2.05" fill="#9a7c7c"/><circle cx="498.2" cy="384.3" r="2.05" fill="#9a7c7c"/><circle cx="502.5" cy="384.3" r="2.05" fill="#9a7c7c"/><circle cx="506.8" cy="384.3" r="2.05" fill="#9a7c7c"/><circle cx="511.1" cy="384.4" r="2.05" fill="#9a7c7c"/><circle cx="515.4" cy="384.4" r="2.05" fill="#9a7c7c"/><circle cx="519.7" cy="384.5" r="2.05" fill="#9a7c7c"/><circle cx="354.1" cy="387" r="2.05" fill="#8e7272"/><circle cx="358.4" cy="387.1" r="2.05" fill="#8e7272"/><circle cx="362.7" cy="387.1" r="2.05" fill="#8e7272"/><circle cx="367" cy="387.1" r="2.05" fill="#8e7272"/><circle cx="371.3" cy="387.2" r="2.05" fill="#8e7272"/><circle cx="375.6" cy="387.2" r="2.05" fill="#8e7272"/><circle cx="379.9" cy="387.3" r="2.05" fill="#8e7272"/><circle cx="384.2" cy="387.3" r="2.05" fill="#8e7272"/><circle cx="388.5" cy="387.4" r="2.05" fill="#8e7272"/><circle cx="392.8" cy="387.4" r="2.05" fill="#8e7272"/><circle cx="397.1" cy="387.5" r="2.05" fill="#8e7272"/><circle cx="401.4" cy="387.5" r="2.05" fill="#8e7272"/><circle cx="405.7" cy="387.5" r="2.05" fill="#8e7272"/><circle cx="410" cy="387.6" r="2.05" fill="#8e7272"/><circle cx="414.3" cy="387.6" r="2.05" fill="#8e7272"/><circle cx="418.6" cy="387.7" r="2.05" fill="#8e7272"/><circle cx="422.9" cy="387.7" r="2.05" fill="#8e7272"/><circle cx="427.2" cy="387.8" r="2.05" fill="#8e7272"/><circle cx="431.5" cy="387.8" r="2.05" fill="#8e7272"/><circle cx="435.8" cy="387.8" r="2.05" fill="#8e7272"/><circle cx="440.1" cy="387.9" r="2.05" fill="#8e7272"/><circle cx="444.4" cy="387.9" r="2.05" fill="#8e7272"/><circle cx="448.7" cy="388" r="2.05" fill="#8e7272"/><circle cx="453" cy="388" r="2.05" fill="#8e7272"/><circle cx="457.3" cy="388.1" r="2.05" fill="#8e7272"/><circle cx="461.6" cy="388.1" r="2.05" fill="#8e7272"/><circle cx="465.9" cy="388.1" r="2.05" fill="#8e7272"/><circle cx="470.2" cy="388.2" r="2.05" fill="#8e7272"/><circle cx="474.5" cy="388.2" r="2.05" fill="#8e7272"/><circle cx="478.8" cy="388.3" r="2.05" fill="#8e7272"/><circle cx="483.1" cy="388.3" r="2.05" fill="#8e7272"/><circle cx="487.4" cy="388.4" r="2.05" fill="#8e7272"/><circle cx="491.7" cy="388.4" r="2.05" fill="#8e7272"/><circle cx="496" cy="388.4" r="2.05" fill="#8e7272"/><circle cx="500.3" cy="388.5" r="2.05" fill="#8e7272"/><circle cx="504.6" cy="388.5" r="2.05" fill="#8e7272"/><circle cx="508.9" cy="388.6" r="2.05" fill="#8e7272"/><circle cx="513.2" cy="388.6" r="2.05" fill="#8e7272"/><circle cx="517.5" cy="388.7" r="2.05" fill="#8e7272"/><circle cx="521.8" cy="388.7" r="2.05" fill="#8e7272"/><circle cx="352" cy="391.2" r="2.05" fill="#846a6a"/><circle cx="356.3" cy="391.2" r="2.05" fill="#846a6a"/><circle cx="360.6" cy="391.3" r="2.05" fill="#846a6a"/><circle cx="364.9" cy="391.3" r="2.05" fill="#846a6a"/><circle cx="369.2" cy="391.4" r="2.05" fill="#846a6a"/><circle cx="373.5" cy="391.4" r="2.05" fill="#846a6a"/><circle cx="377.8" cy="391.5" r="2.05" fill="#846a6a"/><circle cx="382.1" cy="391.5" r="2.05" fill="#846a6a"/><circle cx="386.4" cy="391.5" r="2.05" fill="#846a6a"/><circle cx="390.7" cy="391.6" r="2.05" fill="#846a6a"/><circle cx="395" cy="391.6" r="2.05" fill="#846a6a"/><circle cx="399.3" cy="391.7" r="2.05" fill="#846a6a"/><circle cx="403.6" cy="391.7" r="2.05" fill="#846a6a"/><circle cx="407.9" cy="391.8" r="2.05" fill="#846a6a"/><circle cx="412.2" cy="391.8" r="2.05" fill="#846a6a"/><circle cx="416.5" cy="391.8" r="2.05" fill="#846a6a"/><circle cx="420.8" cy="391.9" r="2.05" fill="#846a6a"/><circle cx="425.1" cy="391.9" r="2.05" fill="#846a6a"/><circle cx="429.4" cy="392" r="2.05" fill="#846a6a"/><circle cx="433.7" cy="392" r="2.05" fill="#846a6a"/><circle cx="438" cy="392.1" r="2.05" fill="#846a6a"/><circle cx="442.3" cy="392.1" r="2.05" fill="#846a6a"/><circle cx="446.6" cy="392.1" r="2.05" fill="#846a6a"/><circle cx="450.9" cy="392.2" r="2.05" fill="#846a6a"/><circle cx="455.2" cy="392.2" r="2.05" fill="#846a6a"/><circle cx="459.5" cy="392.3" r="2.05" fill="#846a6a"/><circle cx="463.8" cy="392.3" r="2.05" fill="#846a6a"/><circle cx="468.1" cy="392.4" r="2.05" fill="#846a6a"/><circle cx="472.4" cy="392.4" r="2.05" fill="#846a6a"/><circle cx="476.7" cy="392.4" r="2.05" fill="#846a6a"/><circle cx="481" cy="392.5" r="2.05" fill="#846a6a"/><circle cx="485.3" cy="392.5" r="2.05" fill="#846a6a"/><circle cx="489.6" cy="392.6" r="2.05" fill="#846a6a"/><circle cx="493.9" cy="392.6" r="2.05" fill="#846a6a"/><circle cx="498.2" cy="392.7" r="2.05" fill="#846a6a"/><circle cx="502.5" cy="392.7" r="2.05" fill="#846a6a"/><circle cx="506.8" cy="392.7" r="2.05" fill="#846a6a"/><circle cx="511.1" cy="392.8" r="2.05" fill="#846a6a"/><circle cx="515.4" cy="392.8" r="2.05" fill="#846a6a"/><circle cx="519.7" cy="392.9" r="2.05" fill="#846a6a"/></g>
<path d="M351.1,365.1h0.8M355.4,365.1h0.8M359.7,365.1h0.8M364,365.1h0.8M368.3,365.1h0.8M372.6,365.1h0.8M376.9,365.1h0.8M381.2,365.1h0.8M385.5,365.1h0.8M389.8,365.1h0.8M394.1,365.1h0.8M398.4,365.1h0.8M402.7,365.1h0.8M407,365.1h0.8M411.3,365.1h0.8M415.6,365.1h0.8M419.9,365.1h0.8M424.2,365.1h0.8M428.5,365.1h0.8M432.8,365.1h0.8M437.1,365.1h0.8M441.4,365.1h0.8M445.7,365.1h0.8M450,365.1h0.8M454.3,365.1h0.8M458.6,365.1h0.8M462.9,365.1h0.8M467.2,365.1h0.8M471.5,365.1h0.8M475.8,365.1h0.8M480.1,365.1h0.8M484.4,365.1h0.8M488.7,365.1h0.8M493,365.1h0.8M497.3,365.1h0.8M501.6,365.1h0.8M505.9,365.1h0.8M510.2,365.1h0.8M514.5,365.1h0.8M518.8,365.1h0.8M353.2,369.3h0.8M357.5,369.3h0.8M361.8,369.3h0.8M366.1,369.3h0.8M370.4,369.3h0.8M374.7,369.3h0.8M379,369.3h0.8M383.3,369.3h0.8M387.6,369.3h0.8M391.9,369.3h0.8M396.2,369.3h0.8M400.5,369.3h0.8M404.8,369.3h0.8M409.1,369.3h0.8M413.4,369.3h0.8M417.7,369.3h0.8M422,369.3h0.8M426.3,369.3h0.8M430.6,369.3h0.8M434.9,369.3h0.8M439.2,369.3h0.8M443.5,369.3h0.8M447.8,369.3h0.8M452.1,369.3h0.8M456.4,369.3h0.8M460.7,369.3h0.8M465,369.3h0.8M469.3,369.3h0.8M473.6,369.3h0.8M477.9,369.3h0.8M482.2,369.3h0.8M486.5,369.3h0.8M490.8,369.3h0.8M495.1,369.3h0.8M499.4,369.3h0.8M503.7,369.3h0.8M508,369.3h0.8M512.3,369.3h0.8M516.6,369.3h0.8M520.9,369.3h0.8M351.1,373.5h0.8M355.4,373.5h0.8M359.7,373.5h0.8M364,373.5h0.8M368.3,373.5h0.8M372.6,373.5h0.8M376.9,373.5h0.8M381.2,373.5h0.8M385.5,373.5h0.8M389.8,373.5h0.8M394.1,373.5h0.8M398.4,373.5h0.8M402.7,373.5h0.8M407,373.5h0.8M411.3,373.5h0.8M415.6,373.5h0.8M419.9,373.5h0.8M424.2,373.5h0.8M428.5,373.5h0.8M432.8,373.5h0.8M437.1,373.5h0.8M441.4,373.5h0.8M445.7,373.5h0.8M450,373.5h0.8M454.3,373.5h0.8M458.6,373.5h0.8M462.9,373.5h0.8M467.2,373.5h0.8M471.5,373.5h0.8M475.8,373.5h0.8M480.1,373.5h0.8M484.4,373.5h0.8M488.7,373.5h0.8M493,373.5h0.8M497.3,373.5h0.8M501.6,373.5h0.8M505.9,373.5h0.8M510.2,373.5h0.8M514.5,373.5h0.8M518.8,373.5h0.8M353.2,377.7h0.8M357.5,377.7h0.8M361.8,377.7h0.8M366.1,377.7h0.8M370.4,377.7h0.8M374.7,377.7h0.8M379,377.7h0.8M383.3,377.7h0.8M387.6,377.7h0.8M391.9,377.7h0.8M396.2,377.7h0.8M400.5,377.7h0.8M404.8,377.7h0.8M409.1,377.7h0.8M413.4,377.7h0.8M417.7,377.7h0.8M422,377.7h0.8M426.3,377.7h0.8M430.6,377.7h0.8M434.9,377.7h0.8M439.2,377.7h0.8M443.5,377.7h0.8M447.8,377.7h0.8M452.1,377.7h0.8M456.4,377.7h0.8M460.7,377.7h0.8M465,377.7h0.8M469.3,377.7h0.8M473.6,377.7h0.8M477.9,377.7h0.8M482.2,377.7h0.8M486.5,377.7h0.8M490.8,377.7h0.8M495.1,377.7h0.8M499.4,377.7h0.8M503.7,377.7h0.8M508,377.7h0.8M512.3,377.7h0.8M516.6,377.7h0.8M520.9,377.7h0.8M351.1,381.9h0.8M355.4,381.9h0.8M359.7,381.9h0.8M364,381.9h0.8M368.3,381.9h0.8M372.6,381.9h0.8M376.9,381.9h0.8M381.2,381.9h0.8M385.5,381.9h0.8M389.8,381.9h0.8M394.1,381.9h0.8M398.4,381.9h0.8M402.7,381.9h0.8M407,381.9h0.8M411.3,381.9h0.8M415.6,381.9h0.8M419.9,381.9h0.8M424.2,381.9h0.8M428.5,381.9h0.8M432.8,381.9h0.8M437.1,381.9h0.8M441.4,381.9h0.8M445.7,381.9h0.8M450,381.9h0.8M454.3,381.9h0.8M458.6,381.9h0.8M462.9,381.9h0.8M467.2,381.9h0.8M471.5,381.9h0.8M475.8,381.9h0.8M480.1,381.9h0.8M484.4,381.9h0.8M488.7,381.9h0.8M493,381.9h0.8M497.3,381.9h0.8M501.6,381.9h0.8M505.9,381.9h0.8M510.2,381.9h0.8M514.5,381.9h0.8M518.8,381.9h0.8M353.2,386.1h0.8M357.5,386.1h0.8M361.8,386.1h0.8M366.1,386.1h0.8M370.4,386.1h0.8M374.7,386.1h0.8M379,386.1h0.8M383.3,386.1h0.8M387.6,386.1h0.8M391.9,386.1h0.8M396.2,386.1h0.8M400.5,386.1h0.8M404.8,386.1h0.8M409.1,386.1h0.8M413.4,386.1h0.8M417.7,386.1h0.8M422,386.1h0.8M426.3,386.1h0.8M430.6,386.1h0.8M434.9,386.1h0.8M439.2,386.1h0.8M443.5,386.1h0.8M447.8,386.1h0.8M452.1,386.1h0.8M456.4,386.1h0.8M460.7,386.1h0.8M465,386.1h0.8M469.3,386.1h0.8M473.6,386.1h0.8M477.9,386.1h0.8M482.2,386.1h0.8M486.5,386.1h0.8M490.8,386.1h0.8M495.1,386.1h0.8M499.4,386.1h0.8M503.7,386.1h0.8M508,386.1h0.8M512.3,386.1h0.8M516.6,386.1h0.8M520.9,386.1h0.8M351.1,390.3h0.8M355.4,390.3h0.8M359.7,390.3h0.8M364,390.3h0.8M368.3,390.3h0.8M372.6,390.3h0.8M376.9,390.3h0.8M381.2,390.3h0.8M385.5,390.3h0.8M389.8,390.3h0.8M394.1,390.3h0.8M398.4,390.3h0.8M402.7,390.3h0.8M407,390.3h0.8M411.3,390.3h0.8M415.6,390.3h0.8M419.9,390.3h0.8M424.2,390.3h0.8M428.5,390.3h0.8M432.8,390.3h0.8M437.1,390.3h0.8M441.4,390.3h0.8M445.7,390.3h0.8M450,390.3h0.8M454.3,390.3h0.8M458.6,390.3h0.8M462.9,390.3h0.8M467.2,390.3h0.8M471.5,390.3h0.8M475.8,390.3h0.8M480.1,390.3h0.8M484.4,390.3h0.8M488.7,390.3h0.8M493,390.3h0.8M497.3,390.3h0.8M501.6,390.3h0.8M505.9,390.3h0.8M510.2,390.3h0.8M514.5,390.3h0.8M518.8,390.3h0.8" stroke="#eadada" stroke-width="0.9" stroke-linecap="round" opacity="0.6"/>
<rect x="392" y="366" width="5.5" height="27.5" fill="#4e4446" opacity="0.85"/>
<polygon points="416.3,339 405.7,345.1 392,352.6 377,360.2 371,364.7 374,369.2 384.6,372.2 395.2,367.7 404.2,360.2 414.8,352.6 423.8,345" fill="#747476"/>
<path d="M372.5,366 L396,356 L414,344 M376,368.5 L402,358 L418,347 M383,370.5 L398,363" fill="none" stroke="#b4b4b4" stroke-width="0.9"/>
<path d="M374,364 L392,356 M388,368 L408,356" fill="none" stroke="#3e3e40" stroke-width="0.9"/>
<circle cx="484.8" cy="238.5" r="2.2" fill="#4a4c52"/>
<circle cx="497.3" cy="257" r="2.4" fill="#505258"/>
<circle cx="482.2" cy="262.8" r="2" fill="#46484e"/>
<circle cx="477" cy="303" r="2" fill="#4a4c52"/>
<circle cx="501" cy="303" r="2.2" fill="#44464c"/>
<circle cx="440" cy="252" r="2" fill="#3a3c42"/>
<circle cx="462" cy="294.5" r="2.2" fill="#4a4c52"/>
<circle cx="471" cy="339" r="2" fill="#5a5c62"/>
<circle cx="505" cy="270" r="2" fill="#44464c"/>
<circle cx="495" cy="295" r="2.2" fill="#4a4c52"/>
<circle cx="480" cy="339" r="1.8" fill="#44464c"/>
<circle cx="445" cy="372" r="2" fill="#3e4046"/>
<circle cx="438" cy="299" r="2" fill="#44464c"/>
<circle cx="445" cy="256.3" r="3.6" fill="#b8b8b8" stroke="#dcdcdc" stroke-width="0.6"/>
<circle cx="512.5" cy="297" r="3.5" fill="#7e7272" stroke="#b0a8a8" stroke-width="0.6"/>
<circle cx="433.3" cy="353.7" r="2.6" fill="#8a8a8a" stroke="#cfcfcf" stroke-width="0.6"/>
<path d="M441,271.8 Q469.2,292.2 441,311.4 M454.1,266.2 Q481.8,290.8 455.1,309.4 M471.2,271.8 Q496.9,289 472.2,311.4 M489.3,266.2 Q512.5,286.3 487.3,306.4 M441,271.8 L454.1,266.2 L489.3,266.2 M471.2,271.8 L489.3,266.2 M441,311.4 L472.2,311.4 L487.3,306.4" fill="none" stroke="#e6e6e6" stroke-width="0.8"/>
<path d="M441,271.8 L471.2,271.8 M455.1,309.4 L472.2,309.4" fill="none" stroke="#9a9a9a" stroke-width="0.7"/>
<line x1="445" y1="256.3" x2="512.5" y2="297" stroke="#e6e6e6" stroke-width="0.8"/>
<line x1="465.9" y1="266.5" x2="465.9" y2="254" stroke="#e6e6e6" stroke-width="1"/>
<polygon points="465.9,251 464.1,256 467.7,256" fill="#e6e6e6"/>
<line x1="488" y1="282.5" x2="508.5" y2="280.4" stroke="#e6e6e6" stroke-width="0.8"/>
<polygon points="512,280 507,278 507.5,282.6" fill="#e6e6e6"/>
<path d="M423.6,342.7 C435,341 446,336 448.5,323.5 L445.4,323.1 L451.5,313.3 L455.2,323.9 L452.2,323.6 C450.5,336 440,344 425.1,345.6 Z" fill="none" stroke="#e6e6e6" stroke-width="0.8"/>
<line x1="417.5" y1="344.2" x2="432" y2="353.2" stroke="#e6e6e6" stroke-width="0.7"/>
<text x="466.4" y="251.3" font-family="Liberation Serif, DejaVu Serif, serif" font-style="italic" font-weight="bold" fill="#f4f4f4" stroke="#8a8a8a" stroke-width="0.3" font-size="16" textLength="18" lengthAdjust="spacingAndGlyphs">n<tspan font-size="12" dy="3.6">y</tspan></text>
<text x="495.4" y="273.3" font-family="Liberation Serif, DejaVu Serif, serif" font-style="italic" font-weight="bold" fill="#f4f4f4" stroke="#8a8a8a" stroke-width="0.3" font-size="16" textLength="17.5" lengthAdjust="spacingAndGlyphs">ñ<tspan font-size="12" dy="2.8">z</tspan></text>
<text x="468.8" y="283.6" font-family="Liberation Serif, DejaVu Serif, serif" font-style="italic" font-weight="bold" fill="#f4f4f4" stroke="#8a8a8a" stroke-width="0.3" font-size="12">r<tspan font-size="9" dy="2.4">ij</tspan></text>
</g>
</svg></body></html>
